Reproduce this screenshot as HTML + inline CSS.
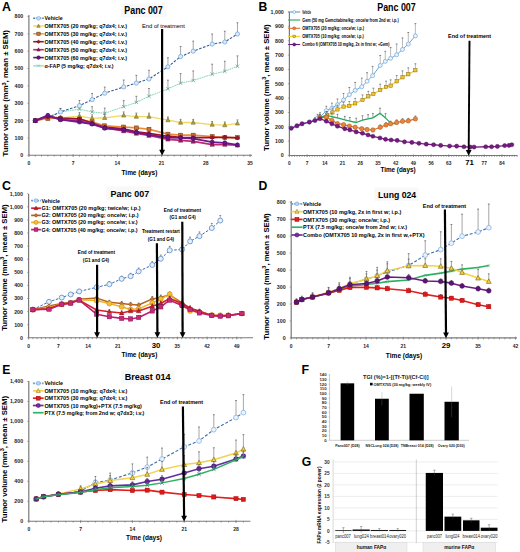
<!DOCTYPE html>
<html><head><meta charset="utf-8"><style>
html,body{margin:0;padding:0;background:#fff;}
svg{display:block;font-family:"Liberation Sans",sans-serif;}
</style></head><body>
<svg width="520" height="552" viewBox="0 0 520 552">
<rect width="520" height="552" fill="#fff"/>
<text x="2" y="10.8" font-size="12.4" text-anchor="start" font-weight="bold" fill="#000" >A</text>
<rect x="121" y="3.5" width="45.5" height="13.8" fill="#f8f8f8" stroke="none" stroke-width="0"/>
<text x="143.5" y="13.7" font-size="10" text-anchor="middle" font-weight="bold" fill="#000" textLength="38.4" lengthAdjust="spacingAndGlyphs" >Panc 007</text>
<line x1="28.9" y1="155.3" x2="28.9" y2="15" stroke="#7a7a7a" stroke-width="1.2" />
<line x1="28.9" y1="155.3" x2="252" y2="155.3" stroke="#7a7a7a" stroke-width="1.1" />
<line x1="27.3" y1="155.3" x2="28.9" y2="155.3" stroke="#7a7a7a" stroke-width="0.6" />
<text x="23.3" y="157.21" font-size="5.3" text-anchor="end" font-weight="bold" fill="#262626" >0</text>
<line x1="27.3" y1="137.95" x2="28.9" y2="137.95" stroke="#7a7a7a" stroke-width="0.6" />
<text x="23.3" y="139.86" font-size="5.3" text-anchor="end" font-weight="bold" fill="#262626" >100</text>
<line x1="27.3" y1="120.6" x2="28.9" y2="120.6" stroke="#7a7a7a" stroke-width="0.6" />
<text x="23.3" y="122.51" font-size="5.3" text-anchor="end" font-weight="bold" fill="#262626" >200</text>
<line x1="27.3" y1="103.25" x2="28.9" y2="103.25" stroke="#7a7a7a" stroke-width="0.6" />
<text x="23.3" y="105.16" font-size="5.3" text-anchor="end" font-weight="bold" fill="#262626" >300</text>
<line x1="27.3" y1="85.9" x2="28.9" y2="85.9" stroke="#7a7a7a" stroke-width="0.6" />
<text x="23.3" y="87.81" font-size="5.3" text-anchor="end" font-weight="bold" fill="#262626" >400</text>
<line x1="27.3" y1="68.55" x2="28.9" y2="68.55" stroke="#7a7a7a" stroke-width="0.6" />
<text x="23.3" y="70.46" font-size="5.3" text-anchor="end" font-weight="bold" fill="#262626" >500</text>
<line x1="27.3" y1="51.2" x2="28.9" y2="51.2" stroke="#7a7a7a" stroke-width="0.6" />
<text x="23.3" y="53.11" font-size="5.3" text-anchor="end" font-weight="bold" fill="#262626" >600</text>
<line x1="27.3" y1="33.85" x2="28.9" y2="33.85" stroke="#7a7a7a" stroke-width="0.6" />
<text x="23.3" y="35.76" font-size="5.3" text-anchor="end" font-weight="bold" fill="#262626" >700</text>
<line x1="27.3" y1="16.5" x2="28.9" y2="16.5" stroke="#7a7a7a" stroke-width="0.6" />
<text x="23.3" y="18.41" font-size="5.3" text-anchor="end" font-weight="bold" fill="#262626" >800</text>
<line x1="28.9" y1="155.3" x2="28.9" y2="156.7" stroke="#5a5a5a" stroke-width="0.55" />
<line x1="35.22" y1="155.3" x2="35.22" y2="156.7" stroke="#5a5a5a" stroke-width="0.55" />
<line x1="41.54" y1="155.3" x2="41.54" y2="156.7" stroke="#5a5a5a" stroke-width="0.55" />
<line x1="47.86" y1="155.3" x2="47.86" y2="156.7" stroke="#5a5a5a" stroke-width="0.55" />
<line x1="54.18" y1="155.3" x2="54.18" y2="156.7" stroke="#5a5a5a" stroke-width="0.55" />
<line x1="60.5" y1="155.3" x2="60.5" y2="156.7" stroke="#5a5a5a" stroke-width="0.55" />
<line x1="66.82" y1="155.3" x2="66.82" y2="156.7" stroke="#5a5a5a" stroke-width="0.55" />
<line x1="73.14" y1="155.3" x2="73.14" y2="156.7" stroke="#5a5a5a" stroke-width="0.55" />
<line x1="79.46" y1="155.3" x2="79.46" y2="156.7" stroke="#5a5a5a" stroke-width="0.55" />
<line x1="85.78" y1="155.3" x2="85.78" y2="156.7" stroke="#5a5a5a" stroke-width="0.55" />
<line x1="92.1" y1="155.3" x2="92.1" y2="156.7" stroke="#5a5a5a" stroke-width="0.55" />
<line x1="98.42" y1="155.3" x2="98.42" y2="156.7" stroke="#5a5a5a" stroke-width="0.55" />
<line x1="104.74" y1="155.3" x2="104.74" y2="156.7" stroke="#5a5a5a" stroke-width="0.55" />
<line x1="111.06" y1="155.3" x2="111.06" y2="156.7" stroke="#5a5a5a" stroke-width="0.55" />
<line x1="117.38" y1="155.3" x2="117.38" y2="156.7" stroke="#5a5a5a" stroke-width="0.55" />
<line x1="123.7" y1="155.3" x2="123.7" y2="156.7" stroke="#5a5a5a" stroke-width="0.55" />
<line x1="130.02" y1="155.3" x2="130.02" y2="156.7" stroke="#5a5a5a" stroke-width="0.55" />
<line x1="136.34" y1="155.3" x2="136.34" y2="156.7" stroke="#5a5a5a" stroke-width="0.55" />
<line x1="142.66" y1="155.3" x2="142.66" y2="156.7" stroke="#5a5a5a" stroke-width="0.55" />
<line x1="148.98" y1="155.3" x2="148.98" y2="156.7" stroke="#5a5a5a" stroke-width="0.55" />
<line x1="155.3" y1="155.3" x2="155.3" y2="156.7" stroke="#5a5a5a" stroke-width="0.55" />
<line x1="161.62" y1="155.3" x2="161.62" y2="156.7" stroke="#5a5a5a" stroke-width="0.55" />
<line x1="167.94" y1="155.3" x2="167.94" y2="156.7" stroke="#5a5a5a" stroke-width="0.55" />
<line x1="174.26" y1="155.3" x2="174.26" y2="156.7" stroke="#5a5a5a" stroke-width="0.55" />
<line x1="180.58" y1="155.3" x2="180.58" y2="156.7" stroke="#5a5a5a" stroke-width="0.55" />
<line x1="186.9" y1="155.3" x2="186.9" y2="156.7" stroke="#5a5a5a" stroke-width="0.55" />
<line x1="193.22" y1="155.3" x2="193.22" y2="156.7" stroke="#5a5a5a" stroke-width="0.55" />
<line x1="199.54" y1="155.3" x2="199.54" y2="156.7" stroke="#5a5a5a" stroke-width="0.55" />
<line x1="205.86" y1="155.3" x2="205.86" y2="156.7" stroke="#5a5a5a" stroke-width="0.55" />
<line x1="212.18" y1="155.3" x2="212.18" y2="156.7" stroke="#5a5a5a" stroke-width="0.55" />
<line x1="218.5" y1="155.3" x2="218.5" y2="156.7" stroke="#5a5a5a" stroke-width="0.55" />
<line x1="224.82" y1="155.3" x2="224.82" y2="156.7" stroke="#5a5a5a" stroke-width="0.55" />
<line x1="231.14" y1="155.3" x2="231.14" y2="156.7" stroke="#5a5a5a" stroke-width="0.55" />
<line x1="237.46" y1="155.3" x2="237.46" y2="156.7" stroke="#5a5a5a" stroke-width="0.55" />
<line x1="243.78" y1="155.3" x2="243.78" y2="156.7" stroke="#5a5a5a" stroke-width="0.55" />
<line x1="250.1" y1="155.3" x2="250.1" y2="156.7" stroke="#5a5a5a" stroke-width="0.55" />
<line x1="28.9" y1="154" x2="28.9" y2="156.9" stroke="#7a7a7a" stroke-width="0.6" />
<text x="28.9" y="165.2" font-size="5" text-anchor="middle" font-weight="bold" fill="#262626" >0</text>
<line x1="73.14" y1="154" x2="73.14" y2="156.9" stroke="#7a7a7a" stroke-width="0.6" />
<text x="73.14" y="165.2" font-size="5" text-anchor="middle" font-weight="bold" fill="#262626" >7</text>
<line x1="117.38" y1="154" x2="117.38" y2="156.9" stroke="#7a7a7a" stroke-width="0.6" />
<text x="117.38" y="165.2" font-size="5" text-anchor="middle" font-weight="bold" fill="#262626" >14</text>
<line x1="161.62" y1="154" x2="161.62" y2="156.9" stroke="#7a7a7a" stroke-width="0.6" />
<text x="161.62" y="165.2" font-size="5" text-anchor="middle" font-weight="bold" fill="#262626" >21</text>
<line x1="205.86" y1="154" x2="205.86" y2="156.9" stroke="#7a7a7a" stroke-width="0.6" />
<text x="205.86" y="165.2" font-size="5" text-anchor="middle" font-weight="bold" fill="#262626" >28</text>
<line x1="250.1" y1="154" x2="250.1" y2="156.9" stroke="#7a7a7a" stroke-width="0.6" />
<text x="250.1" y="165.2" font-size="5" text-anchor="middle" font-weight="bold" fill="#262626" >35</text>
<text x="8.4" y="93.3" font-size="8" text-anchor="middle" font-weight="bold" fill="#000" textLength="126.4" lengthAdjust="spacingAndGlyphs" transform="rotate(-90 8.4 93.3)" >Tumor volume (mm<tspan font-size="5.76" dy="-2.88">3</tspan><tspan dy="2.88">, mean ± SEM)</tspan></text>
<text x="139.4" y="174.5" font-size="7.1" text-anchor="middle" font-weight="bold" fill="#000" textLength="35.8" lengthAdjust="spacingAndGlyphs" >Time (days)</text>
<line x1="35.22" y1="120.6" x2="35.22" y2="118.87" stroke="#8a8a8a" stroke-width="0.75" />
<line x1="34.32" y1="118.87" x2="36.12" y2="118.87" stroke="#555" stroke-width="0.7" />
<line x1="47.86" y1="116.78" x2="47.86" y2="114.18" stroke="#8a8a8a" stroke-width="0.75" />
<line x1="46.96" y1="114.18" x2="48.76" y2="114.18" stroke="#555" stroke-width="0.7" />
<line x1="60.5" y1="111.93" x2="60.5" y2="108.46" stroke="#8a8a8a" stroke-width="0.75" />
<line x1="59.6" y1="108.46" x2="61.4" y2="108.46" stroke="#555" stroke-width="0.7" />
<line x1="79.46" y1="109.15" x2="79.46" y2="103.94" stroke="#8a8a8a" stroke-width="0.75" />
<line x1="78.56" y1="103.94" x2="80.36" y2="103.94" stroke="#555" stroke-width="0.7" />
<line x1="92.1" y1="111.93" x2="92.1" y2="106.72" stroke="#8a8a8a" stroke-width="0.75" />
<line x1="91.2" y1="106.72" x2="93" y2="106.72" stroke="#555" stroke-width="0.7" />
<line x1="104.74" y1="113.31" x2="104.74" y2="108.11" stroke="#8a8a8a" stroke-width="0.75" />
<line x1="103.84" y1="108.11" x2="105.64" y2="108.11" stroke="#555" stroke-width="0.7" />
<line x1="123.7" y1="106.72" x2="123.7" y2="100.65" stroke="#8a8a8a" stroke-width="0.75" />
<line x1="122.8" y1="100.65" x2="124.6" y2="100.65" stroke="#555" stroke-width="0.7" />
<line x1="136.34" y1="102.38" x2="136.34" y2="96.31" stroke="#8a8a8a" stroke-width="0.75" />
<line x1="135.44" y1="96.31" x2="137.24" y2="96.31" stroke="#555" stroke-width="0.7" />
<line x1="148.98" y1="96.31" x2="148.98" y2="88.5" stroke="#8a8a8a" stroke-width="0.75" />
<line x1="148.08" y1="88.5" x2="149.88" y2="88.5" stroke="#555" stroke-width="0.7" />
<line x1="167.94" y1="88.85" x2="167.94" y2="80.17" stroke="#8a8a8a" stroke-width="0.75" />
<line x1="167.04" y1="80.17" x2="168.84" y2="80.17" stroke="#555" stroke-width="0.7" />
<line x1="180.58" y1="83.12" x2="180.58" y2="73.58" stroke="#8a8a8a" stroke-width="0.75" />
<line x1="179.68" y1="73.58" x2="181.48" y2="73.58" stroke="#555" stroke-width="0.7" />
<line x1="193.22" y1="80.52" x2="193.22" y2="70.98" stroke="#8a8a8a" stroke-width="0.75" />
<line x1="192.32" y1="70.98" x2="194.12" y2="70.98" stroke="#555" stroke-width="0.7" />
<line x1="212.18" y1="74.28" x2="212.18" y2="64.21" stroke="#8a8a8a" stroke-width="0.75" />
<line x1="211.28" y1="64.21" x2="213.08" y2="64.21" stroke="#555" stroke-width="0.7" />
<line x1="224.82" y1="71.33" x2="224.82" y2="61.26" stroke="#8a8a8a" stroke-width="0.75" />
<line x1="223.92" y1="61.26" x2="225.72" y2="61.26" stroke="#555" stroke-width="0.7" />
<line x1="237.46" y1="66.29" x2="237.46" y2="55.88" stroke="#8a8a8a" stroke-width="0.75" />
<line x1="236.56" y1="55.88" x2="238.36" y2="55.88" stroke="#555" stroke-width="0.7" />
<path d="M35.22 120.6 L47.86 116.78 L60.5 111.93 L79.46 109.15 L92.1 111.93 L104.74 113.31 L123.7 106.72 L136.34 102.38 L148.98 96.31 L167.94 88.85 L180.58 83.12 L193.22 80.52 L212.18 74.28 L224.82 71.33 L237.46 66.29" fill="none" stroke="#8cd6bc" stroke-width="1" stroke-dasharray="1.8,0.6" stroke-linejoin="round"/>
<path d="M33.52 118.9L36.92 122.3M33.52 122.3L36.92 118.9" stroke="#4aa080" stroke-width="0.7" fill="none"/>
<path d="M46.16 115.08L49.56 118.48M46.16 118.48L49.56 115.08" stroke="#4aa080" stroke-width="0.7" fill="none"/>
<path d="M58.8 110.23L62.2 113.63M58.8 113.63L62.2 110.23" stroke="#4aa080" stroke-width="0.7" fill="none"/>
<path d="M77.76 107.45L81.16 110.85M77.76 110.85L81.16 107.45" stroke="#4aa080" stroke-width="0.7" fill="none"/>
<path d="M90.4 110.23L93.8 113.63M90.4 113.63L93.8 110.23" stroke="#4aa080" stroke-width="0.7" fill="none"/>
<path d="M103.04 111.61L106.44 115.01M103.04 115.01L106.44 111.61" stroke="#4aa080" stroke-width="0.7" fill="none"/>
<path d="M122 105.02L125.4 108.42M122 108.42L125.4 105.02" stroke="#4aa080" stroke-width="0.7" fill="none"/>
<path d="M134.64 100.68L138.04 104.08M134.64 104.08L138.04 100.68" stroke="#4aa080" stroke-width="0.7" fill="none"/>
<path d="M147.28 94.61L150.68 98.01M147.28 98.01L150.68 94.61" stroke="#4aa080" stroke-width="0.7" fill="none"/>
<path d="M166.24 87.15L169.64 90.55M166.24 90.55L169.64 87.15" stroke="#4aa080" stroke-width="0.7" fill="none"/>
<path d="M178.88 81.42L182.28 84.82M178.88 84.82L182.28 81.42" stroke="#4aa080" stroke-width="0.7" fill="none"/>
<path d="M191.52 78.82L194.92 82.22M191.52 82.22L194.92 78.82" stroke="#4aa080" stroke-width="0.7" fill="none"/>
<path d="M210.48 72.58L213.88 75.98M210.48 75.98L213.88 72.58" stroke="#4aa080" stroke-width="0.7" fill="none"/>
<path d="M223.12 69.63L226.52 73.03M223.12 73.03L226.52 69.63" stroke="#4aa080" stroke-width="0.7" fill="none"/>
<path d="M235.76 64.59L239.16 67.99M235.76 67.99L239.16 64.59" stroke="#4aa080" stroke-width="0.7" fill="none"/>
<line x1="35.22" y1="120.6" x2="35.22" y2="118.87" stroke="#8a8a8a" stroke-width="0.75" />
<line x1="34.32" y1="118.87" x2="36.12" y2="118.87" stroke="#555" stroke-width="0.7" />
<line x1="47.86" y1="118" x2="47.86" y2="115.4" stroke="#8a8a8a" stroke-width="0.75" />
<line x1="46.96" y1="115.4" x2="48.76" y2="115.4" stroke="#555" stroke-width="0.7" />
<line x1="60.5" y1="111.93" x2="60.5" y2="108.46" stroke="#8a8a8a" stroke-width="0.75" />
<line x1="59.6" y1="108.46" x2="61.4" y2="108.46" stroke="#555" stroke-width="0.7" />
<line x1="79.46" y1="105.68" x2="79.46" y2="100.47" stroke="#8a8a8a" stroke-width="0.75" />
<line x1="78.56" y1="100.47" x2="80.36" y2="100.47" stroke="#555" stroke-width="0.7" />
<line x1="92.1" y1="99.61" x2="92.1" y2="93.53" stroke="#8a8a8a" stroke-width="0.75" />
<line x1="91.2" y1="93.53" x2="93" y2="93.53" stroke="#555" stroke-width="0.7" />
<line x1="104.74" y1="93.19" x2="104.74" y2="87.11" stroke="#8a8a8a" stroke-width="0.75" />
<line x1="103.84" y1="87.11" x2="105.64" y2="87.11" stroke="#555" stroke-width="0.7" />
<line x1="123.7" y1="86.94" x2="123.7" y2="80" stroke="#8a8a8a" stroke-width="0.75" />
<line x1="122.8" y1="80" x2="124.6" y2="80" stroke="#555" stroke-width="0.7" />
<line x1="136.34" y1="83.12" x2="136.34" y2="75.32" stroke="#8a8a8a" stroke-width="0.75" />
<line x1="135.44" y1="75.32" x2="137.24" y2="75.32" stroke="#555" stroke-width="0.7" />
<line x1="148.98" y1="78.96" x2="148.98" y2="70.29" stroke="#8a8a8a" stroke-width="0.75" />
<line x1="148.08" y1="70.29" x2="149.88" y2="70.29" stroke="#555" stroke-width="0.7" />
<line x1="167.94" y1="66.82" x2="167.94" y2="57.79" stroke="#8a8a8a" stroke-width="0.75" />
<line x1="167.04" y1="57.79" x2="168.84" y2="57.79" stroke="#555" stroke-width="0.7" />
<line x1="180.58" y1="56.58" x2="180.58" y2="46.52" stroke="#8a8a8a" stroke-width="0.75" />
<line x1="179.68" y1="46.52" x2="181.48" y2="46.52" stroke="#555" stroke-width="0.7" />
<line x1="193.22" y1="51.2" x2="193.22" y2="41.14" stroke="#8a8a8a" stroke-width="0.75" />
<line x1="192.32" y1="41.14" x2="194.12" y2="41.14" stroke="#555" stroke-width="0.7" />
<line x1="212.18" y1="44.09" x2="212.18" y2="34.02" stroke="#8a8a8a" stroke-width="0.75" />
<line x1="211.28" y1="34.02" x2="213.08" y2="34.02" stroke="#555" stroke-width="0.7" />
<line x1="224.82" y1="42" x2="224.82" y2="31.25" stroke="#8a8a8a" stroke-width="0.75" />
<line x1="223.92" y1="31.25" x2="225.72" y2="31.25" stroke="#555" stroke-width="0.7" />
<line x1="237.46" y1="34.02" x2="237.46" y2="22.75" stroke="#8a8a8a" stroke-width="0.75" />
<line x1="236.56" y1="22.75" x2="238.36" y2="22.75" stroke="#555" stroke-width="0.7" />
<path d="M35.22 120.6 L47.86 118 L60.5 111.93 L79.46 105.68 L92.1 99.61 L104.74 93.19 L123.7 86.94 L136.34 83.12 L148.98 78.96 L167.94 66.82 L180.58 56.58 L193.22 51.2 L212.18 44.09 L224.82 42 L237.46 34.02" fill="none" stroke="#345e96" stroke-width="1.1" stroke-dasharray="2.6,1.5" stroke-linejoin="round"/>
<circle cx="35.22" cy="120.6" r="2.1" fill="#dceafa" stroke="#6a9fd8" stroke-width="0.7"/>
<circle cx="47.86" cy="118" r="2.1" fill="#dceafa" stroke="#6a9fd8" stroke-width="0.7"/>
<circle cx="60.5" cy="111.93" r="2.1" fill="#dceafa" stroke="#6a9fd8" stroke-width="0.7"/>
<circle cx="79.46" cy="105.68" r="2.1" fill="#dceafa" stroke="#6a9fd8" stroke-width="0.7"/>
<circle cx="92.1" cy="99.61" r="2.1" fill="#dceafa" stroke="#6a9fd8" stroke-width="0.7"/>
<circle cx="104.74" cy="93.19" r="2.1" fill="#dceafa" stroke="#6a9fd8" stroke-width="0.7"/>
<circle cx="123.7" cy="86.94" r="2.1" fill="#dceafa" stroke="#6a9fd8" stroke-width="0.7"/>
<circle cx="136.34" cy="83.12" r="2.1" fill="#dceafa" stroke="#6a9fd8" stroke-width="0.7"/>
<circle cx="148.98" cy="78.96" r="2.1" fill="#dceafa" stroke="#6a9fd8" stroke-width="0.7"/>
<circle cx="167.94" cy="66.82" r="2.1" fill="#dceafa" stroke="#6a9fd8" stroke-width="0.7"/>
<circle cx="180.58" cy="56.58" r="2.1" fill="#dceafa" stroke="#6a9fd8" stroke-width="0.7"/>
<circle cx="193.22" cy="51.2" r="2.1" fill="#dceafa" stroke="#6a9fd8" stroke-width="0.7"/>
<circle cx="212.18" cy="44.09" r="2.1" fill="#dceafa" stroke="#6a9fd8" stroke-width="0.7"/>
<circle cx="224.82" cy="42" r="2.1" fill="#dceafa" stroke="#6a9fd8" stroke-width="0.7"/>
<circle cx="237.46" cy="34.02" r="2.1" fill="#dceafa" stroke="#6a9fd8" stroke-width="0.7"/>
<line x1="35.22" y1="120.6" x2="35.22" y2="119.21" stroke="#8a8a8a" stroke-width="0.75" />
<line x1="34.32" y1="119.21" x2="36.12" y2="119.21" stroke="#555" stroke-width="0.7" />
<line x1="47.86" y1="118.87" x2="47.86" y2="117.13" stroke="#8a8a8a" stroke-width="0.75" />
<line x1="46.96" y1="117.13" x2="48.76" y2="117.13" stroke="#555" stroke-width="0.7" />
<line x1="60.5" y1="118" x2="60.5" y2="115.92" stroke="#8a8a8a" stroke-width="0.75" />
<line x1="59.6" y1="115.92" x2="61.4" y2="115.92" stroke="#555" stroke-width="0.7" />
<line x1="79.46" y1="116.09" x2="79.46" y2="112.62" stroke="#8a8a8a" stroke-width="0.75" />
<line x1="78.56" y1="112.62" x2="80.36" y2="112.62" stroke="#555" stroke-width="0.7" />
<line x1="92.1" y1="118.34" x2="92.1" y2="114.87" stroke="#8a8a8a" stroke-width="0.75" />
<line x1="91.2" y1="114.87" x2="93" y2="114.87" stroke="#555" stroke-width="0.7" />
<line x1="104.74" y1="117.82" x2="104.74" y2="114.35" stroke="#8a8a8a" stroke-width="0.75" />
<line x1="103.84" y1="114.35" x2="105.64" y2="114.35" stroke="#555" stroke-width="0.7" />
<line x1="123.7" y1="115.4" x2="123.7" y2="111.93" stroke="#8a8a8a" stroke-width="0.75" />
<line x1="122.8" y1="111.93" x2="124.6" y2="111.93" stroke="#555" stroke-width="0.7" />
<line x1="136.34" y1="116.61" x2="136.34" y2="113.14" stroke="#8a8a8a" stroke-width="0.75" />
<line x1="135.44" y1="113.14" x2="137.24" y2="113.14" stroke="#555" stroke-width="0.7" />
<line x1="148.98" y1="116.61" x2="148.98" y2="113.14" stroke="#8a8a8a" stroke-width="0.75" />
<line x1="148.08" y1="113.14" x2="149.88" y2="113.14" stroke="#555" stroke-width="0.7" />
<line x1="167.94" y1="120.08" x2="167.94" y2="116.96" stroke="#8a8a8a" stroke-width="0.75" />
<line x1="167.04" y1="116.96" x2="168.84" y2="116.96" stroke="#555" stroke-width="0.7" />
<line x1="180.58" y1="122.51" x2="180.58" y2="119.39" stroke="#8a8a8a" stroke-width="0.75" />
<line x1="179.68" y1="119.39" x2="181.48" y2="119.39" stroke="#555" stroke-width="0.7" />
<line x1="193.22" y1="122.51" x2="193.22" y2="119.39" stroke="#8a8a8a" stroke-width="0.75" />
<line x1="192.32" y1="119.39" x2="194.12" y2="119.39" stroke="#555" stroke-width="0.7" />
<line x1="212.18" y1="124.59" x2="212.18" y2="121.47" stroke="#8a8a8a" stroke-width="0.75" />
<line x1="211.28" y1="121.47" x2="213.08" y2="121.47" stroke="#555" stroke-width="0.7" />
<line x1="224.82" y1="125.11" x2="224.82" y2="121.99" stroke="#8a8a8a" stroke-width="0.75" />
<line x1="223.92" y1="121.99" x2="225.72" y2="121.99" stroke="#555" stroke-width="0.7" />
<line x1="237.46" y1="123.38" x2="237.46" y2="119.91" stroke="#8a8a8a" stroke-width="0.75" />
<line x1="236.56" y1="119.91" x2="238.36" y2="119.91" stroke="#555" stroke-width="0.7" />
<path d="M35.22 120.6 L47.86 118.87 L60.5 118 L79.46 116.09 L92.1 118.34 L104.74 117.82 L123.7 115.4 L136.34 116.61 L148.98 116.61 L167.94 120.08 L180.58 122.51 L193.22 122.51 L212.18 124.59 L224.82 125.11 L237.46 123.38" fill="none" stroke="#f0d860" stroke-width="1.4" stroke-linejoin="round"/>
<polygon points="35.22,118.29 33.12,122.28 37.32,122.28" fill="#b0a040" stroke="#6a6020" stroke-width="0.5"/>
<polygon points="47.86,116.56 45.76,120.55 49.96,120.55" fill="#b0a040" stroke="#6a6020" stroke-width="0.5"/>
<polygon points="60.5,115.69 58.4,119.68 62.6,119.68" fill="#b0a040" stroke="#6a6020" stroke-width="0.5"/>
<polygon points="79.46,113.78 77.36,117.77 81.56,117.77" fill="#b0a040" stroke="#6a6020" stroke-width="0.5"/>
<polygon points="92.1,116.03 90,120.02 94.2,120.02" fill="#b0a040" stroke="#6a6020" stroke-width="0.5"/>
<polygon points="104.74,115.51 102.64,119.5 106.84,119.5" fill="#b0a040" stroke="#6a6020" stroke-width="0.5"/>
<polygon points="123.7,113.09 121.6,117.08 125.8,117.08" fill="#b0a040" stroke="#6a6020" stroke-width="0.5"/>
<polygon points="136.34,114.3 134.24,118.29 138.44,118.29" fill="#b0a040" stroke="#6a6020" stroke-width="0.5"/>
<polygon points="148.98,114.3 146.88,118.29 151.08,118.29" fill="#b0a040" stroke="#6a6020" stroke-width="0.5"/>
<polygon points="167.94,117.77 165.84,121.76 170.04,121.76" fill="#b0a040" stroke="#6a6020" stroke-width="0.5"/>
<polygon points="180.58,120.2 178.48,124.19 182.68,124.19" fill="#b0a040" stroke="#6a6020" stroke-width="0.5"/>
<polygon points="193.22,120.2 191.12,124.19 195.32,124.19" fill="#b0a040" stroke="#6a6020" stroke-width="0.5"/>
<polygon points="212.18,122.28 210.08,126.27 214.28,126.27" fill="#b0a040" stroke="#6a6020" stroke-width="0.5"/>
<polygon points="224.82,122.8 222.72,126.79 226.92,126.79" fill="#b0a040" stroke="#6a6020" stroke-width="0.5"/>
<polygon points="237.46,121.07 235.36,125.06 239.56,125.06" fill="#b0a040" stroke="#6a6020" stroke-width="0.5"/>
<line x1="35.22" y1="120.6" x2="35.22" y2="119.21" stroke="#8a8a8a" stroke-width="0.75" />
<line x1="34.32" y1="119.21" x2="36.12" y2="119.21" stroke="#555" stroke-width="0.7" />
<line x1="47.86" y1="118" x2="47.86" y2="116.61" stroke="#8a8a8a" stroke-width="0.75" />
<line x1="46.96" y1="116.61" x2="48.76" y2="116.61" stroke="#555" stroke-width="0.7" />
<line x1="60.5" y1="118.52" x2="60.5" y2="117.13" stroke="#8a8a8a" stroke-width="0.75" />
<line x1="59.6" y1="117.13" x2="61.4" y2="117.13" stroke="#555" stroke-width="0.7" />
<line x1="79.46" y1="119.21" x2="79.46" y2="117.82" stroke="#8a8a8a" stroke-width="0.75" />
<line x1="78.56" y1="117.82" x2="80.36" y2="117.82" stroke="#555" stroke-width="0.7" />
<line x1="92.1" y1="121.99" x2="92.1" y2="120.6" stroke="#8a8a8a" stroke-width="0.75" />
<line x1="91.2" y1="120.6" x2="93" y2="120.6" stroke="#555" stroke-width="0.7" />
<line x1="104.74" y1="125.81" x2="104.74" y2="124.42" stroke="#8a8a8a" stroke-width="0.75" />
<line x1="103.84" y1="124.42" x2="105.64" y2="124.42" stroke="#555" stroke-width="0.7" />
<line x1="123.7" y1="127.02" x2="123.7" y2="125.63" stroke="#8a8a8a" stroke-width="0.75" />
<line x1="122.8" y1="125.63" x2="124.6" y2="125.63" stroke="#555" stroke-width="0.7" />
<line x1="136.34" y1="127.89" x2="136.34" y2="126.5" stroke="#8a8a8a" stroke-width="0.75" />
<line x1="135.44" y1="126.5" x2="137.24" y2="126.5" stroke="#555" stroke-width="0.7" />
<line x1="148.98" y1="129.28" x2="148.98" y2="127.89" stroke="#8a8a8a" stroke-width="0.75" />
<line x1="148.08" y1="127.89" x2="149.88" y2="127.89" stroke="#555" stroke-width="0.7" />
<line x1="167.94" y1="134.13" x2="167.94" y2="132.75" stroke="#8a8a8a" stroke-width="0.75" />
<line x1="167.04" y1="132.75" x2="168.84" y2="132.75" stroke="#555" stroke-width="0.7" />
<line x1="180.58" y1="135.17" x2="180.58" y2="133.79" stroke="#8a8a8a" stroke-width="0.75" />
<line x1="179.68" y1="133.79" x2="181.48" y2="133.79" stroke="#555" stroke-width="0.7" />
<line x1="193.22" y1="135.17" x2="193.22" y2="133.79" stroke="#8a8a8a" stroke-width="0.75" />
<line x1="192.32" y1="133.79" x2="194.12" y2="133.79" stroke="#555" stroke-width="0.7" />
<line x1="212.18" y1="136.56" x2="212.18" y2="135.17" stroke="#8a8a8a" stroke-width="0.75" />
<line x1="211.28" y1="135.17" x2="213.08" y2="135.17" stroke="#555" stroke-width="0.7" />
<line x1="224.82" y1="137.6" x2="224.82" y2="136.22" stroke="#8a8a8a" stroke-width="0.75" />
<line x1="223.92" y1="136.22" x2="225.72" y2="136.22" stroke="#555" stroke-width="0.7" />
<line x1="237.46" y1="137.6" x2="237.46" y2="136.22" stroke="#8a8a8a" stroke-width="0.75" />
<line x1="236.56" y1="136.22" x2="238.36" y2="136.22" stroke="#555" stroke-width="0.7" />
<path d="M35.22 120.6 L47.86 118 L60.5 118.52 L79.46 119.21 L92.1 121.99 L104.74 125.81 L123.7 127.02 L136.34 127.89 L148.98 129.28 L167.94 134.13 L180.58 135.17 L193.22 135.17 L212.18 136.56 L224.82 137.6 L237.46 137.6" fill="none" stroke="#eb8a3a" stroke-width="1.6" stroke-linejoin="round"/>
<rect x="33.22" y="118.6" width="4" height="4" fill="#c87030" stroke="#7a3a10" stroke-width="0.5"/>
<rect x="45.86" y="116" width="4" height="4" fill="#c87030" stroke="#7a3a10" stroke-width="0.5"/>
<rect x="58.5" y="116.52" width="4" height="4" fill="#c87030" stroke="#7a3a10" stroke-width="0.5"/>
<rect x="77.46" y="117.21" width="4" height="4" fill="#c87030" stroke="#7a3a10" stroke-width="0.5"/>
<rect x="90.1" y="119.99" width="4" height="4" fill="#c87030" stroke="#7a3a10" stroke-width="0.5"/>
<rect x="102.74" y="123.81" width="4" height="4" fill="#c87030" stroke="#7a3a10" stroke-width="0.5"/>
<rect x="121.7" y="125.02" width="4" height="4" fill="#c87030" stroke="#7a3a10" stroke-width="0.5"/>
<rect x="134.34" y="125.89" width="4" height="4" fill="#c87030" stroke="#7a3a10" stroke-width="0.5"/>
<rect x="146.98" y="127.28" width="4" height="4" fill="#c87030" stroke="#7a3a10" stroke-width="0.5"/>
<rect x="165.94" y="132.13" width="4" height="4" fill="#c87030" stroke="#7a3a10" stroke-width="0.5"/>
<rect x="178.58" y="133.17" width="4" height="4" fill="#c87030" stroke="#7a3a10" stroke-width="0.5"/>
<rect x="191.22" y="133.17" width="4" height="4" fill="#c87030" stroke="#7a3a10" stroke-width="0.5"/>
<rect x="210.18" y="134.56" width="4" height="4" fill="#c87030" stroke="#7a3a10" stroke-width="0.5"/>
<rect x="222.82" y="135.6" width="4" height="4" fill="#c87030" stroke="#7a3a10" stroke-width="0.5"/>
<rect x="235.46" y="135.6" width="4" height="4" fill="#c87030" stroke="#7a3a10" stroke-width="0.5"/>
<line x1="35.22" y1="120.6" x2="35.22" y2="119.21" stroke="#8a8a8a" stroke-width="0.75" />
<line x1="34.32" y1="119.21" x2="36.12" y2="119.21" stroke="#555" stroke-width="0.7" />
<line x1="47.86" y1="116.78" x2="47.86" y2="115.4" stroke="#8a8a8a" stroke-width="0.75" />
<line x1="46.96" y1="115.4" x2="48.76" y2="115.4" stroke="#555" stroke-width="0.7" />
<line x1="60.5" y1="118" x2="60.5" y2="116.61" stroke="#8a8a8a" stroke-width="0.75" />
<line x1="59.6" y1="116.61" x2="61.4" y2="116.61" stroke="#555" stroke-width="0.7" />
<line x1="79.46" y1="118.87" x2="79.46" y2="117.48" stroke="#8a8a8a" stroke-width="0.75" />
<line x1="78.56" y1="117.48" x2="80.36" y2="117.48" stroke="#555" stroke-width="0.7" />
<line x1="92.1" y1="123.03" x2="92.1" y2="121.64" stroke="#8a8a8a" stroke-width="0.75" />
<line x1="91.2" y1="121.64" x2="93" y2="121.64" stroke="#555" stroke-width="0.7" />
<line x1="104.74" y1="127.19" x2="104.74" y2="125.81" stroke="#8a8a8a" stroke-width="0.75" />
<line x1="103.84" y1="125.81" x2="105.64" y2="125.81" stroke="#555" stroke-width="0.7" />
<line x1="123.7" y1="128.93" x2="123.7" y2="127.54" stroke="#8a8a8a" stroke-width="0.75" />
<line x1="122.8" y1="127.54" x2="124.6" y2="127.54" stroke="#555" stroke-width="0.7" />
<line x1="136.34" y1="131.88" x2="136.34" y2="130.49" stroke="#8a8a8a" stroke-width="0.75" />
<line x1="135.44" y1="130.49" x2="137.24" y2="130.49" stroke="#555" stroke-width="0.7" />
<line x1="148.98" y1="133.44" x2="148.98" y2="132.05" stroke="#8a8a8a" stroke-width="0.75" />
<line x1="148.08" y1="132.05" x2="149.88" y2="132.05" stroke="#555" stroke-width="0.7" />
<line x1="167.94" y1="136.22" x2="167.94" y2="134.83" stroke="#8a8a8a" stroke-width="0.75" />
<line x1="167.04" y1="134.83" x2="168.84" y2="134.83" stroke="#555" stroke-width="0.7" />
<line x1="180.58" y1="137.26" x2="180.58" y2="135.87" stroke="#8a8a8a" stroke-width="0.75" />
<line x1="179.68" y1="135.87" x2="181.48" y2="135.87" stroke="#555" stroke-width="0.7" />
<line x1="193.22" y1="137.6" x2="193.22" y2="136.22" stroke="#8a8a8a" stroke-width="0.75" />
<line x1="192.32" y1="136.22" x2="194.12" y2="136.22" stroke="#555" stroke-width="0.7" />
<line x1="212.18" y1="137.6" x2="212.18" y2="136.22" stroke="#8a8a8a" stroke-width="0.75" />
<line x1="211.28" y1="136.22" x2="213.08" y2="136.22" stroke="#555" stroke-width="0.7" />
<line x1="224.82" y1="137.26" x2="224.82" y2="135.87" stroke="#8a8a8a" stroke-width="0.75" />
<line x1="223.92" y1="135.87" x2="225.72" y2="135.87" stroke="#555" stroke-width="0.7" />
<line x1="237.46" y1="137.95" x2="237.46" y2="136.56" stroke="#8a8a8a" stroke-width="0.75" />
<line x1="236.56" y1="136.56" x2="238.36" y2="136.56" stroke="#555" stroke-width="0.7" />
<path d="M35.22 120.6 L47.86 116.78 L60.5 118 L79.46 118.87 L92.1 123.03 L104.74 127.19 L123.7 128.93 L136.34 131.88 L148.98 133.44 L167.94 136.22 L180.58 137.26 L193.22 137.6 L212.18 137.6 L224.82 137.26 L237.46 137.95" fill="none" stroke="#a01030" stroke-width="1.7" stroke-linejoin="round"/>
<polygon points="35.22,118.44 37.38,120.6 35.22,122.76 33.06,120.6" fill="#a01030" stroke="#600818" stroke-width="0.5"/>
<polygon points="47.86,114.62 50.02,116.78 47.86,118.94 45.7,116.78" fill="#a01030" stroke="#600818" stroke-width="0.5"/>
<polygon points="60.5,115.84 62.66,118 60.5,120.16 58.34,118" fill="#a01030" stroke="#600818" stroke-width="0.5"/>
<polygon points="79.46,116.71 81.62,118.87 79.46,121.03 77.3,118.87" fill="#a01030" stroke="#600818" stroke-width="0.5"/>
<polygon points="92.1,120.87 94.26,123.03 92.1,125.19 89.94,123.03" fill="#a01030" stroke="#600818" stroke-width="0.5"/>
<polygon points="104.74,125.03 106.9,127.19 104.74,129.35 102.58,127.19" fill="#a01030" stroke="#600818" stroke-width="0.5"/>
<polygon points="123.7,126.77 125.86,128.93 123.7,131.09 121.54,128.93" fill="#a01030" stroke="#600818" stroke-width="0.5"/>
<polygon points="136.34,129.72 138.5,131.88 136.34,134.04 134.18,131.88" fill="#a01030" stroke="#600818" stroke-width="0.5"/>
<polygon points="148.98,131.28 151.14,133.44 148.98,135.6 146.82,133.44" fill="#a01030" stroke="#600818" stroke-width="0.5"/>
<polygon points="167.94,134.06 170.1,136.22 167.94,138.38 165.78,136.22" fill="#a01030" stroke="#600818" stroke-width="0.5"/>
<polygon points="180.58,135.1 182.74,137.26 180.58,139.42 178.42,137.26" fill="#a01030" stroke="#600818" stroke-width="0.5"/>
<polygon points="193.22,135.44 195.38,137.6 193.22,139.76 191.06,137.6" fill="#a01030" stroke="#600818" stroke-width="0.5"/>
<polygon points="212.18,135.44 214.34,137.6 212.18,139.76 210.02,137.6" fill="#a01030" stroke="#600818" stroke-width="0.5"/>
<polygon points="224.82,135.1 226.98,137.26 224.82,139.42 222.66,137.26" fill="#a01030" stroke="#600818" stroke-width="0.5"/>
<polygon points="237.46,135.79 239.62,137.95 237.46,140.11 235.3,137.95" fill="#a01030" stroke="#600818" stroke-width="0.5"/>
<line x1="35.22" y1="120.6" x2="35.22" y2="119.21" stroke="#8a8a8a" stroke-width="0.75" />
<line x1="34.32" y1="119.21" x2="36.12" y2="119.21" stroke="#555" stroke-width="0.7" />
<line x1="47.86" y1="116.09" x2="47.86" y2="114.7" stroke="#8a8a8a" stroke-width="0.75" />
<line x1="46.96" y1="114.7" x2="48.76" y2="114.7" stroke="#555" stroke-width="0.7" />
<line x1="60.5" y1="119.39" x2="60.5" y2="118" stroke="#8a8a8a" stroke-width="0.75" />
<line x1="59.6" y1="118" x2="61.4" y2="118" stroke="#555" stroke-width="0.7" />
<line x1="79.46" y1="120.95" x2="79.46" y2="119.56" stroke="#8a8a8a" stroke-width="0.75" />
<line x1="78.56" y1="119.56" x2="80.36" y2="119.56" stroke="#555" stroke-width="0.7" />
<line x1="92.1" y1="123.72" x2="92.1" y2="122.34" stroke="#8a8a8a" stroke-width="0.75" />
<line x1="91.2" y1="122.34" x2="93" y2="122.34" stroke="#555" stroke-width="0.7" />
<line x1="104.74" y1="127.89" x2="104.74" y2="126.5" stroke="#8a8a8a" stroke-width="0.75" />
<line x1="103.84" y1="126.5" x2="105.64" y2="126.5" stroke="#555" stroke-width="0.7" />
<line x1="123.7" y1="131.01" x2="123.7" y2="129.62" stroke="#8a8a8a" stroke-width="0.75" />
<line x1="122.8" y1="129.62" x2="124.6" y2="129.62" stroke="#555" stroke-width="0.7" />
<line x1="136.34" y1="133.44" x2="136.34" y2="132.05" stroke="#8a8a8a" stroke-width="0.75" />
<line x1="135.44" y1="132.05" x2="137.24" y2="132.05" stroke="#555" stroke-width="0.7" />
<line x1="148.98" y1="135.52" x2="148.98" y2="134.13" stroke="#8a8a8a" stroke-width="0.75" />
<line x1="148.08" y1="134.13" x2="149.88" y2="134.13" stroke="#555" stroke-width="0.7" />
<line x1="167.94" y1="139.34" x2="167.94" y2="137.95" stroke="#8a8a8a" stroke-width="0.75" />
<line x1="167.04" y1="137.95" x2="168.84" y2="137.95" stroke="#555" stroke-width="0.7" />
<line x1="180.58" y1="140.38" x2="180.58" y2="138.99" stroke="#8a8a8a" stroke-width="0.75" />
<line x1="179.68" y1="138.99" x2="181.48" y2="138.99" stroke="#555" stroke-width="0.7" />
<line x1="193.22" y1="141.42" x2="193.22" y2="140.03" stroke="#8a8a8a" stroke-width="0.75" />
<line x1="192.32" y1="140.03" x2="194.12" y2="140.03" stroke="#555" stroke-width="0.7" />
<line x1="212.18" y1="144.54" x2="212.18" y2="143.16" stroke="#8a8a8a" stroke-width="0.75" />
<line x1="211.28" y1="143.16" x2="213.08" y2="143.16" stroke="#555" stroke-width="0.7" />
<line x1="224.82" y1="144.54" x2="224.82" y2="143.16" stroke="#8a8a8a" stroke-width="0.75" />
<line x1="223.92" y1="143.16" x2="225.72" y2="143.16" stroke="#555" stroke-width="0.7" />
<line x1="237.46" y1="145.24" x2="237.46" y2="143.85" stroke="#8a8a8a" stroke-width="0.75" />
<line x1="236.56" y1="143.85" x2="238.36" y2="143.85" stroke="#555" stroke-width="0.7" />
<path d="M35.22 120.6 L47.86 116.09 L60.5 119.39 L79.46 120.95 L92.1 123.72 L104.74 127.89 L123.7 131.01 L136.34 133.44 L148.98 135.52 L167.94 139.34 L180.58 140.38 L193.22 141.42 L212.18 144.54 L224.82 144.54 L237.46 145.24" fill="none" stroke="#c02870" stroke-width="1.7" stroke-linejoin="round"/>
<polygon points="35.22,118.18 33.02,122.36 37.42,122.36" fill="#a02060" stroke="#601040" stroke-width="0.5"/>
<polygon points="47.86,113.67 45.66,117.85 50.06,117.85" fill="#a02060" stroke="#601040" stroke-width="0.5"/>
<polygon points="60.5,116.97 58.3,121.15 62.7,121.15" fill="#a02060" stroke="#601040" stroke-width="0.5"/>
<polygon points="79.46,118.53 77.26,122.71 81.66,122.71" fill="#a02060" stroke="#601040" stroke-width="0.5"/>
<polygon points="92.1,121.3 89.9,125.48 94.3,125.48" fill="#a02060" stroke="#601040" stroke-width="0.5"/>
<polygon points="104.74,125.47 102.54,129.65 106.94,129.65" fill="#a02060" stroke="#601040" stroke-width="0.5"/>
<polygon points="123.7,128.59 121.5,132.77 125.9,132.77" fill="#a02060" stroke="#601040" stroke-width="0.5"/>
<polygon points="136.34,131.02 134.14,135.2 138.54,135.2" fill="#a02060" stroke="#601040" stroke-width="0.5"/>
<polygon points="148.98,133.1 146.78,137.28 151.18,137.28" fill="#a02060" stroke="#601040" stroke-width="0.5"/>
<polygon points="167.94,136.92 165.74,141.1 170.14,141.1" fill="#a02060" stroke="#601040" stroke-width="0.5"/>
<polygon points="180.58,137.96 178.38,142.14 182.78,142.14" fill="#a02060" stroke="#601040" stroke-width="0.5"/>
<polygon points="193.22,139 191.02,143.18 195.42,143.18" fill="#a02060" stroke="#601040" stroke-width="0.5"/>
<polygon points="212.18,142.12 209.98,146.3 214.38,146.3" fill="#a02060" stroke="#601040" stroke-width="0.5"/>
<polygon points="224.82,142.12 222.62,146.3 227.02,146.3" fill="#a02060" stroke="#601040" stroke-width="0.5"/>
<polygon points="237.46,142.82 235.26,147 239.66,147" fill="#a02060" stroke="#601040" stroke-width="0.5"/>
<line x1="35.22" y1="120.6" x2="35.22" y2="119.21" stroke="#8a8a8a" stroke-width="0.75" />
<line x1="34.32" y1="119.21" x2="36.12" y2="119.21" stroke="#555" stroke-width="0.7" />
<line x1="47.86" y1="115.4" x2="47.86" y2="114.01" stroke="#8a8a8a" stroke-width="0.75" />
<line x1="46.96" y1="114.01" x2="48.76" y2="114.01" stroke="#555" stroke-width="0.7" />
<line x1="60.5" y1="119.73" x2="60.5" y2="118.34" stroke="#8a8a8a" stroke-width="0.75" />
<line x1="59.6" y1="118.34" x2="61.4" y2="118.34" stroke="#555" stroke-width="0.7" />
<line x1="79.46" y1="121.99" x2="79.46" y2="120.6" stroke="#8a8a8a" stroke-width="0.75" />
<line x1="78.56" y1="120.6" x2="80.36" y2="120.6" stroke="#555" stroke-width="0.7" />
<line x1="92.1" y1="124.07" x2="92.1" y2="122.68" stroke="#8a8a8a" stroke-width="0.75" />
<line x1="91.2" y1="122.68" x2="93" y2="122.68" stroke="#555" stroke-width="0.7" />
<line x1="104.74" y1="128.23" x2="104.74" y2="126.85" stroke="#8a8a8a" stroke-width="0.75" />
<line x1="103.84" y1="126.85" x2="105.64" y2="126.85" stroke="#555" stroke-width="0.7" />
<line x1="123.7" y1="129.97" x2="123.7" y2="128.58" stroke="#8a8a8a" stroke-width="0.75" />
<line x1="122.8" y1="128.58" x2="124.6" y2="128.58" stroke="#555" stroke-width="0.7" />
<line x1="136.34" y1="132.4" x2="136.34" y2="131.01" stroke="#8a8a8a" stroke-width="0.75" />
<line x1="135.44" y1="131.01" x2="137.24" y2="131.01" stroke="#555" stroke-width="0.7" />
<line x1="148.98" y1="134.83" x2="148.98" y2="133.44" stroke="#8a8a8a" stroke-width="0.75" />
<line x1="148.08" y1="133.44" x2="149.88" y2="133.44" stroke="#555" stroke-width="0.7" />
<line x1="167.94" y1="137.6" x2="167.94" y2="136.22" stroke="#8a8a8a" stroke-width="0.75" />
<line x1="167.04" y1="136.22" x2="168.84" y2="136.22" stroke="#555" stroke-width="0.7" />
<line x1="180.58" y1="137.95" x2="180.58" y2="136.56" stroke="#8a8a8a" stroke-width="0.75" />
<line x1="179.68" y1="136.56" x2="181.48" y2="136.56" stroke="#555" stroke-width="0.7" />
<line x1="193.22" y1="138.64" x2="193.22" y2="137.26" stroke="#8a8a8a" stroke-width="0.75" />
<line x1="192.32" y1="137.26" x2="194.12" y2="137.26" stroke="#555" stroke-width="0.7" />
<line x1="212.18" y1="142.11" x2="212.18" y2="140.73" stroke="#8a8a8a" stroke-width="0.75" />
<line x1="211.28" y1="140.73" x2="213.08" y2="140.73" stroke="#555" stroke-width="0.7" />
<line x1="224.82" y1="142.81" x2="224.82" y2="141.42" stroke="#8a8a8a" stroke-width="0.75" />
<line x1="223.92" y1="141.42" x2="225.72" y2="141.42" stroke="#555" stroke-width="0.7" />
<line x1="237.46" y1="144.89" x2="237.46" y2="143.5" stroke="#8a8a8a" stroke-width="0.75" />
<line x1="236.56" y1="143.5" x2="238.36" y2="143.5" stroke="#555" stroke-width="0.7" />
<path d="M35.22 120.6 L47.86 115.4 L60.5 119.73 L79.46 121.99 L92.1 124.07 L104.74 128.23 L123.7 129.97 L136.34 132.4 L148.98 134.83 L167.94 137.6 L180.58 137.95 L193.22 138.64 L212.18 142.11 L224.82 142.81 L237.46 144.89" fill="none" stroke="#701890" stroke-width="1.8" stroke-linejoin="round"/>
<circle cx="35.22" cy="120.6" r="2.1" fill="#6a1488" stroke="#400a58" stroke-width="0.5"/>
<circle cx="47.86" cy="115.4" r="2.1" fill="#6a1488" stroke="#400a58" stroke-width="0.5"/>
<circle cx="60.5" cy="119.73" r="2.1" fill="#6a1488" stroke="#400a58" stroke-width="0.5"/>
<circle cx="79.46" cy="121.99" r="2.1" fill="#6a1488" stroke="#400a58" stroke-width="0.5"/>
<circle cx="92.1" cy="124.07" r="2.1" fill="#6a1488" stroke="#400a58" stroke-width="0.5"/>
<circle cx="104.74" cy="128.23" r="2.1" fill="#6a1488" stroke="#400a58" stroke-width="0.5"/>
<circle cx="123.7" cy="129.97" r="2.1" fill="#6a1488" stroke="#400a58" stroke-width="0.5"/>
<circle cx="136.34" cy="132.4" r="2.1" fill="#6a1488" stroke="#400a58" stroke-width="0.5"/>
<circle cx="148.98" cy="134.83" r="2.1" fill="#6a1488" stroke="#400a58" stroke-width="0.5"/>
<circle cx="167.94" cy="137.6" r="2.1" fill="#6a1488" stroke="#400a58" stroke-width="0.5"/>
<circle cx="180.58" cy="137.95" r="2.1" fill="#6a1488" stroke="#400a58" stroke-width="0.5"/>
<circle cx="193.22" cy="138.64" r="2.1" fill="#6a1488" stroke="#400a58" stroke-width="0.5"/>
<circle cx="212.18" cy="142.11" r="2.1" fill="#6a1488" stroke="#400a58" stroke-width="0.5"/>
<circle cx="224.82" cy="142.81" r="2.1" fill="#6a1488" stroke="#400a58" stroke-width="0.5"/>
<circle cx="237.46" cy="144.89" r="2.1" fill="#6a1488" stroke="#400a58" stroke-width="0.5"/>
<line x1="33.2" y1="18.3" x2="43.8" y2="18.3" stroke="#4a78b8" stroke-width="1.6" stroke-dasharray="2,1"/>
<circle cx="38.5" cy="18.3" r="1.92" fill="#c8dcf2" stroke="#6a9fd8" stroke-width="0.5"/>
<text x="44.6" y="20.35" font-size="5.7" text-anchor="start" font-weight="bold" fill="#000" textLength="18" lengthAdjust="spacingAndGlyphs" >Vehicle</text>
<line x1="33.2" y1="26" x2="43.8" y2="26" stroke="#f0dc80" stroke-width="1.6"/>
<polygon points="38.5,24.15 36.82,27.34 40.18,27.34" fill="#b0a040" stroke="#6a6020" stroke-width="0.5"/>
<text x="44.6" y="28.05" font-size="5.7" text-anchor="start" font-weight="bold" fill="#000" textLength="82.4" lengthAdjust="spacingAndGlyphs" >OMTX705 (20 mg/kg; q7dx4; i.v.)</text>
<line x1="33.2" y1="33.8" x2="43.8" y2="33.8" stroke="#e69a62" stroke-width="1.6"/>
<rect x="36.82" y="32.12" width="3.36" height="3.36" fill="#c07838" stroke="#6a3410" stroke-width="0.5"/>
<text x="44.6" y="35.85" font-size="5.7" text-anchor="start" font-weight="bold" fill="#000" textLength="82.4" lengthAdjust="spacingAndGlyphs" >OMTX705 (30 mg/kg; q7dx4; i.v.)</text>
<line x1="33.2" y1="41.7" x2="43.8" y2="41.7" stroke="#98182e" stroke-width="1.6"/>
<polygon points="38.5,39.97 40.23,41.7 38.5,43.43 36.77,41.7" fill="#98182e" stroke="#600818" stroke-width="0.5"/>
<text x="44.6" y="43.75" font-size="5.7" text-anchor="start" font-weight="bold" fill="#000" textLength="82.4" lengthAdjust="spacingAndGlyphs" >OMTX705 (40 mg/kg; q7dx4; i.v.)</text>
<line x1="33.2" y1="49.7" x2="43.8" y2="49.7" stroke="#b03070" stroke-width="1.6"/>
<polygon points="38.5,47.85 36.82,51.04 40.18,51.04" fill="#902060" stroke="#601040" stroke-width="0.5"/>
<text x="44.6" y="51.75" font-size="5.7" text-anchor="start" font-weight="bold" fill="#000" textLength="82.4" lengthAdjust="spacingAndGlyphs" >OMTX705 (50 mg/kg; q7dx4; i.v.)</text>
<line x1="33.2" y1="57.6" x2="43.8" y2="57.6" stroke="#5e1a78" stroke-width="1.6"/>
<circle cx="38.5" cy="57.6" r="1.8" fill="#5e1a78" stroke="#3a0a50" stroke-width="0.5"/>
<text x="44.6" y="59.65" font-size="5.7" text-anchor="start" font-weight="bold" fill="#000" textLength="82.4" lengthAdjust="spacingAndGlyphs" >OMTX705 (60 mg/kg; q7dx4; i.v.)</text>
<line x1="33.2" y1="65.8" x2="43.8" y2="65.8" stroke="#a8e0cc" stroke-width="1.6"/>
<path d="M36.94 64.24L40.06 67.36M36.94 67.36L40.06 64.24" stroke="#70c0a0" stroke-width="0.5" fill="none"/>
<text x="44.6" y="67.85" font-size="5.7" text-anchor="start" font-weight="bold" fill="#000" textLength="69" lengthAdjust="spacingAndGlyphs" >α-FAP (5 mg/kg; q7dx4; i.v.)</text>
<text x="163.4" y="27.7" font-size="5.9" text-anchor="middle" font-weight="normal" fill="#000" textLength="42.8" lengthAdjust="spacingAndGlyphs" >End of treatment</text>
<line x1="162.1" y1="29" x2="162.1" y2="150.88" stroke="#000" stroke-width="2.2" />
<polygon points="159.21,149.86 164.99,149.86 162.1,155.6" fill="#000"/>
<text x="258.6" y="10.6" font-size="12.2" text-anchor="start" font-weight="bold" fill="#000" >B</text>
<text x="396.5" y="10.9" font-size="10" text-anchor="middle" font-weight="bold" fill="#000" textLength="38.5" lengthAdjust="spacingAndGlyphs" >Panc 007</text>
<line x1="289.4" y1="155.5" x2="289.4" y2="12" stroke="#7a7a7a" stroke-width="1.2" />
<line x1="289.4" y1="155.5" x2="517.5" y2="155.5" stroke="#7a7a7a" stroke-width="1.1" />
<line x1="287.8" y1="155.5" x2="289.4" y2="155.5" stroke="#7a7a7a" stroke-width="0.6" />
<text x="283.8" y="157.41" font-size="5.3" text-anchor="end" font-weight="bold" fill="#262626" >0</text>
<line x1="287.8" y1="141.15" x2="289.4" y2="141.15" stroke="#7a7a7a" stroke-width="0.6" />
<text x="283.8" y="143.06" font-size="5.3" text-anchor="end" font-weight="bold" fill="#262626" >100</text>
<line x1="287.8" y1="126.8" x2="289.4" y2="126.8" stroke="#7a7a7a" stroke-width="0.6" />
<text x="283.8" y="128.71" font-size="5.3" text-anchor="end" font-weight="bold" fill="#262626" >200</text>
<line x1="287.8" y1="112.45" x2="289.4" y2="112.45" stroke="#7a7a7a" stroke-width="0.6" />
<text x="283.8" y="114.36" font-size="5.3" text-anchor="end" font-weight="bold" fill="#262626" >300</text>
<line x1="287.8" y1="98.1" x2="289.4" y2="98.1" stroke="#7a7a7a" stroke-width="0.6" />
<text x="283.8" y="100.01" font-size="5.3" text-anchor="end" font-weight="bold" fill="#262626" >400</text>
<line x1="287.8" y1="83.75" x2="289.4" y2="83.75" stroke="#7a7a7a" stroke-width="0.6" />
<text x="283.8" y="85.66" font-size="5.3" text-anchor="end" font-weight="bold" fill="#262626" >500</text>
<line x1="287.8" y1="69.4" x2="289.4" y2="69.4" stroke="#7a7a7a" stroke-width="0.6" />
<text x="283.8" y="71.31" font-size="5.3" text-anchor="end" font-weight="bold" fill="#262626" >600</text>
<line x1="287.8" y1="55.05" x2="289.4" y2="55.05" stroke="#7a7a7a" stroke-width="0.6" />
<text x="283.8" y="56.96" font-size="5.3" text-anchor="end" font-weight="bold" fill="#262626" >700</text>
<line x1="287.8" y1="40.7" x2="289.4" y2="40.7" stroke="#7a7a7a" stroke-width="0.6" />
<text x="283.8" y="42.61" font-size="5.3" text-anchor="end" font-weight="bold" fill="#262626" >800</text>
<line x1="287.8" y1="26.35" x2="289.4" y2="26.35" stroke="#7a7a7a" stroke-width="0.6" />
<text x="283.8" y="28.26" font-size="5.3" text-anchor="end" font-weight="bold" fill="#262626" >900</text>
<line x1="287.8" y1="12" x2="289.4" y2="12" stroke="#7a7a7a" stroke-width="0.6" />
<text x="283.8" y="13.91" font-size="5.3" text-anchor="end" font-weight="bold" fill="#262626" >1,000</text>
<line x1="289.4" y1="155.5" x2="289.4" y2="156.9" stroke="#5a5a5a" stroke-width="0.55" />
<line x1="291.93" y1="155.5" x2="291.93" y2="156.9" stroke="#5a5a5a" stroke-width="0.55" />
<line x1="294.46" y1="155.5" x2="294.46" y2="156.9" stroke="#5a5a5a" stroke-width="0.55" />
<line x1="296.99" y1="155.5" x2="296.99" y2="156.9" stroke="#5a5a5a" stroke-width="0.55" />
<line x1="299.52" y1="155.5" x2="299.52" y2="156.9" stroke="#5a5a5a" stroke-width="0.55" />
<line x1="302.05" y1="155.5" x2="302.05" y2="156.9" stroke="#5a5a5a" stroke-width="0.55" />
<line x1="304.58" y1="155.5" x2="304.58" y2="156.9" stroke="#5a5a5a" stroke-width="0.55" />
<line x1="307.11" y1="155.5" x2="307.11" y2="156.9" stroke="#5a5a5a" stroke-width="0.55" />
<line x1="309.64" y1="155.5" x2="309.64" y2="156.9" stroke="#5a5a5a" stroke-width="0.55" />
<line x1="312.17" y1="155.5" x2="312.17" y2="156.9" stroke="#5a5a5a" stroke-width="0.55" />
<line x1="314.7" y1="155.5" x2="314.7" y2="156.9" stroke="#5a5a5a" stroke-width="0.55" />
<line x1="317.23" y1="155.5" x2="317.23" y2="156.9" stroke="#5a5a5a" stroke-width="0.55" />
<line x1="319.76" y1="155.5" x2="319.76" y2="156.9" stroke="#5a5a5a" stroke-width="0.55" />
<line x1="322.29" y1="155.5" x2="322.29" y2="156.9" stroke="#5a5a5a" stroke-width="0.55" />
<line x1="324.82" y1="155.5" x2="324.82" y2="156.9" stroke="#5a5a5a" stroke-width="0.55" />
<line x1="327.35" y1="155.5" x2="327.35" y2="156.9" stroke="#5a5a5a" stroke-width="0.55" />
<line x1="329.88" y1="155.5" x2="329.88" y2="156.9" stroke="#5a5a5a" stroke-width="0.55" />
<line x1="332.41" y1="155.5" x2="332.41" y2="156.9" stroke="#5a5a5a" stroke-width="0.55" />
<line x1="334.94" y1="155.5" x2="334.94" y2="156.9" stroke="#5a5a5a" stroke-width="0.55" />
<line x1="337.47" y1="155.5" x2="337.47" y2="156.9" stroke="#5a5a5a" stroke-width="0.55" />
<line x1="340" y1="155.5" x2="340" y2="156.9" stroke="#5a5a5a" stroke-width="0.55" />
<line x1="342.53" y1="155.5" x2="342.53" y2="156.9" stroke="#5a5a5a" stroke-width="0.55" />
<line x1="345.06" y1="155.5" x2="345.06" y2="156.9" stroke="#5a5a5a" stroke-width="0.55" />
<line x1="347.59" y1="155.5" x2="347.59" y2="156.9" stroke="#5a5a5a" stroke-width="0.55" />
<line x1="350.12" y1="155.5" x2="350.12" y2="156.9" stroke="#5a5a5a" stroke-width="0.55" />
<line x1="352.65" y1="155.5" x2="352.65" y2="156.9" stroke="#5a5a5a" stroke-width="0.55" />
<line x1="355.18" y1="155.5" x2="355.18" y2="156.9" stroke="#5a5a5a" stroke-width="0.55" />
<line x1="357.71" y1="155.5" x2="357.71" y2="156.9" stroke="#5a5a5a" stroke-width="0.55" />
<line x1="360.24" y1="155.5" x2="360.24" y2="156.9" stroke="#5a5a5a" stroke-width="0.55" />
<line x1="362.77" y1="155.5" x2="362.77" y2="156.9" stroke="#5a5a5a" stroke-width="0.55" />
<line x1="365.3" y1="155.5" x2="365.3" y2="156.9" stroke="#5a5a5a" stroke-width="0.55" />
<line x1="367.83" y1="155.5" x2="367.83" y2="156.9" stroke="#5a5a5a" stroke-width="0.55" />
<line x1="370.36" y1="155.5" x2="370.36" y2="156.9" stroke="#5a5a5a" stroke-width="0.55" />
<line x1="372.89" y1="155.5" x2="372.89" y2="156.9" stroke="#5a5a5a" stroke-width="0.55" />
<line x1="375.42" y1="155.5" x2="375.42" y2="156.9" stroke="#5a5a5a" stroke-width="0.55" />
<line x1="377.95" y1="155.5" x2="377.95" y2="156.9" stroke="#5a5a5a" stroke-width="0.55" />
<line x1="380.48" y1="155.5" x2="380.48" y2="156.9" stroke="#5a5a5a" stroke-width="0.55" />
<line x1="383.01" y1="155.5" x2="383.01" y2="156.9" stroke="#5a5a5a" stroke-width="0.55" />
<line x1="385.54" y1="155.5" x2="385.54" y2="156.9" stroke="#5a5a5a" stroke-width="0.55" />
<line x1="388.07" y1="155.5" x2="388.07" y2="156.9" stroke="#5a5a5a" stroke-width="0.55" />
<line x1="390.6" y1="155.5" x2="390.6" y2="156.9" stroke="#5a5a5a" stroke-width="0.55" />
<line x1="393.13" y1="155.5" x2="393.13" y2="156.9" stroke="#5a5a5a" stroke-width="0.55" />
<line x1="395.66" y1="155.5" x2="395.66" y2="156.9" stroke="#5a5a5a" stroke-width="0.55" />
<line x1="398.19" y1="155.5" x2="398.19" y2="156.9" stroke="#5a5a5a" stroke-width="0.55" />
<line x1="400.72" y1="155.5" x2="400.72" y2="156.9" stroke="#5a5a5a" stroke-width="0.55" />
<line x1="403.25" y1="155.5" x2="403.25" y2="156.9" stroke="#5a5a5a" stroke-width="0.55" />
<line x1="405.78" y1="155.5" x2="405.78" y2="156.9" stroke="#5a5a5a" stroke-width="0.55" />
<line x1="408.31" y1="155.5" x2="408.31" y2="156.9" stroke="#5a5a5a" stroke-width="0.55" />
<line x1="410.84" y1="155.5" x2="410.84" y2="156.9" stroke="#5a5a5a" stroke-width="0.55" />
<line x1="413.37" y1="155.5" x2="413.37" y2="156.9" stroke="#5a5a5a" stroke-width="0.55" />
<line x1="415.9" y1="155.5" x2="415.9" y2="156.9" stroke="#5a5a5a" stroke-width="0.55" />
<line x1="418.43" y1="155.5" x2="418.43" y2="156.9" stroke="#5a5a5a" stroke-width="0.55" />
<line x1="420.96" y1="155.5" x2="420.96" y2="156.9" stroke="#5a5a5a" stroke-width="0.55" />
<line x1="423.49" y1="155.5" x2="423.49" y2="156.9" stroke="#5a5a5a" stroke-width="0.55" />
<line x1="426.02" y1="155.5" x2="426.02" y2="156.9" stroke="#5a5a5a" stroke-width="0.55" />
<line x1="428.55" y1="155.5" x2="428.55" y2="156.9" stroke="#5a5a5a" stroke-width="0.55" />
<line x1="431.08" y1="155.5" x2="431.08" y2="156.9" stroke="#5a5a5a" stroke-width="0.55" />
<line x1="433.61" y1="155.5" x2="433.61" y2="156.9" stroke="#5a5a5a" stroke-width="0.55" />
<line x1="436.14" y1="155.5" x2="436.14" y2="156.9" stroke="#5a5a5a" stroke-width="0.55" />
<line x1="438.67" y1="155.5" x2="438.67" y2="156.9" stroke="#5a5a5a" stroke-width="0.55" />
<line x1="441.2" y1="155.5" x2="441.2" y2="156.9" stroke="#5a5a5a" stroke-width="0.55" />
<line x1="443.73" y1="155.5" x2="443.73" y2="156.9" stroke="#5a5a5a" stroke-width="0.55" />
<line x1="446.26" y1="155.5" x2="446.26" y2="156.9" stroke="#5a5a5a" stroke-width="0.55" />
<line x1="448.79" y1="155.5" x2="448.79" y2="156.9" stroke="#5a5a5a" stroke-width="0.55" />
<line x1="451.32" y1="155.5" x2="451.32" y2="156.9" stroke="#5a5a5a" stroke-width="0.55" />
<line x1="453.85" y1="155.5" x2="453.85" y2="156.9" stroke="#5a5a5a" stroke-width="0.55" />
<line x1="456.38" y1="155.5" x2="456.38" y2="156.9" stroke="#5a5a5a" stroke-width="0.55" />
<line x1="458.91" y1="155.5" x2="458.91" y2="156.9" stroke="#5a5a5a" stroke-width="0.55" />
<line x1="461.44" y1="155.5" x2="461.44" y2="156.9" stroke="#5a5a5a" stroke-width="0.55" />
<line x1="463.97" y1="155.5" x2="463.97" y2="156.9" stroke="#5a5a5a" stroke-width="0.55" />
<line x1="466.5" y1="155.5" x2="466.5" y2="156.9" stroke="#5a5a5a" stroke-width="0.55" />
<line x1="469.03" y1="155.5" x2="469.03" y2="156.9" stroke="#5a5a5a" stroke-width="0.55" />
<line x1="471.56" y1="155.5" x2="471.56" y2="156.9" stroke="#5a5a5a" stroke-width="0.55" />
<line x1="474.09" y1="155.5" x2="474.09" y2="156.9" stroke="#5a5a5a" stroke-width="0.55" />
<line x1="476.62" y1="155.5" x2="476.62" y2="156.9" stroke="#5a5a5a" stroke-width="0.55" />
<line x1="479.15" y1="155.5" x2="479.15" y2="156.9" stroke="#5a5a5a" stroke-width="0.55" />
<line x1="481.68" y1="155.5" x2="481.68" y2="156.9" stroke="#5a5a5a" stroke-width="0.55" />
<line x1="484.21" y1="155.5" x2="484.21" y2="156.9" stroke="#5a5a5a" stroke-width="0.55" />
<line x1="486.74" y1="155.5" x2="486.74" y2="156.9" stroke="#5a5a5a" stroke-width="0.55" />
<line x1="489.27" y1="155.5" x2="489.27" y2="156.9" stroke="#5a5a5a" stroke-width="0.55" />
<line x1="491.8" y1="155.5" x2="491.8" y2="156.9" stroke="#5a5a5a" stroke-width="0.55" />
<line x1="494.33" y1="155.5" x2="494.33" y2="156.9" stroke="#5a5a5a" stroke-width="0.55" />
<line x1="496.86" y1="155.5" x2="496.86" y2="156.9" stroke="#5a5a5a" stroke-width="0.55" />
<line x1="499.39" y1="155.5" x2="499.39" y2="156.9" stroke="#5a5a5a" stroke-width="0.55" />
<line x1="501.92" y1="155.5" x2="501.92" y2="156.9" stroke="#5a5a5a" stroke-width="0.55" />
<line x1="504.45" y1="155.5" x2="504.45" y2="156.9" stroke="#5a5a5a" stroke-width="0.55" />
<line x1="506.98" y1="155.5" x2="506.98" y2="156.9" stroke="#5a5a5a" stroke-width="0.55" />
<line x1="509.51" y1="155.5" x2="509.51" y2="156.9" stroke="#5a5a5a" stroke-width="0.55" />
<line x1="512.04" y1="155.5" x2="512.04" y2="156.9" stroke="#5a5a5a" stroke-width="0.55" />
<line x1="514.57" y1="155.5" x2="514.57" y2="156.9" stroke="#5a5a5a" stroke-width="0.55" />
<line x1="517.1" y1="155.5" x2="517.1" y2="156.9" stroke="#5a5a5a" stroke-width="0.55" />
<line x1="289.4" y1="154.2" x2="289.4" y2="157.1" stroke="#7a7a7a" stroke-width="0.6" />
<text x="289.4" y="164.8" font-size="4.8" text-anchor="middle" font-weight="bold" fill="#262626" >0</text>
<line x1="307.11" y1="154.2" x2="307.11" y2="157.1" stroke="#7a7a7a" stroke-width="0.6" />
<text x="307.11" y="164.8" font-size="4.8" text-anchor="middle" font-weight="bold" fill="#262626" >7</text>
<line x1="324.82" y1="154.2" x2="324.82" y2="157.1" stroke="#7a7a7a" stroke-width="0.6" />
<text x="324.82" y="164.8" font-size="4.8" text-anchor="middle" font-weight="bold" fill="#262626" >14</text>
<line x1="342.53" y1="154.2" x2="342.53" y2="157.1" stroke="#7a7a7a" stroke-width="0.6" />
<text x="342.53" y="164.8" font-size="4.8" text-anchor="middle" font-weight="bold" fill="#262626" >21</text>
<line x1="360.24" y1="154.2" x2="360.24" y2="157.1" stroke="#7a7a7a" stroke-width="0.6" />
<text x="360.24" y="164.8" font-size="4.8" text-anchor="middle" font-weight="bold" fill="#262626" >28</text>
<line x1="377.95" y1="154.2" x2="377.95" y2="157.1" stroke="#7a7a7a" stroke-width="0.6" />
<text x="377.95" y="164.8" font-size="4.8" text-anchor="middle" font-weight="bold" fill="#262626" >35</text>
<line x1="395.66" y1="154.2" x2="395.66" y2="157.1" stroke="#7a7a7a" stroke-width="0.6" />
<text x="395.66" y="164.8" font-size="4.8" text-anchor="middle" font-weight="bold" fill="#262626" >42</text>
<line x1="413.37" y1="154.2" x2="413.37" y2="157.1" stroke="#7a7a7a" stroke-width="0.6" />
<text x="413.37" y="164.8" font-size="4.8" text-anchor="middle" font-weight="bold" fill="#262626" >49</text>
<line x1="431.08" y1="154.2" x2="431.08" y2="157.1" stroke="#7a7a7a" stroke-width="0.6" />
<text x="431.08" y="164.8" font-size="4.8" text-anchor="middle" font-weight="bold" fill="#262626" >56</text>
<line x1="448.79" y1="154.2" x2="448.79" y2="157.1" stroke="#7a7a7a" stroke-width="0.6" />
<text x="448.79" y="164.8" font-size="4.8" text-anchor="middle" font-weight="bold" fill="#262626" >63</text>
<line x1="469.03" y1="154.2" x2="469.03" y2="157.1" stroke="#7a7a7a" stroke-width="0.6" />
<line x1="484.21" y1="154.2" x2="484.21" y2="157.1" stroke="#7a7a7a" stroke-width="0.6" />
<text x="484.21" y="164.8" font-size="4.8" text-anchor="middle" font-weight="bold" fill="#262626" >77</text>
<line x1="501.92" y1="154.2" x2="501.92" y2="157.1" stroke="#7a7a7a" stroke-width="0.6" />
<text x="501.92" y="164.8" font-size="4.8" text-anchor="middle" font-weight="bold" fill="#262626" >84</text>
<text x="469.6" y="165.2" font-size="7.8" text-anchor="middle" font-weight="bold" fill="#000" >71</text>
<text x="269.1" y="87.7" font-size="8" text-anchor="middle" font-weight="bold" fill="#000" textLength="126.4" lengthAdjust="spacingAndGlyphs" transform="rotate(-90 269.1 87.7)" >Tumor volume (mm<tspan font-size="5.76" dy="-2.88">3</tspan><tspan dy="2.88">, mean ± SEM)</tspan></text>
<text x="398" y="171.6" font-size="7" text-anchor="middle" font-weight="bold" fill="#000" textLength="35.2" lengthAdjust="spacingAndGlyphs" >Time (days)</text>
<line x1="314.95" y1="120.49" x2="314.95" y2="117.62" stroke="#8a8a8a" stroke-width="0.6" />
<line x1="314.05" y1="117.62" x2="315.85" y2="117.62" stroke="#555" stroke-width="0.7" />
<line x1="317.48" y1="117.9" x2="317.48" y2="114.32" stroke="#8a8a8a" stroke-width="0.6" />
<line x1="316.58" y1="114.32" x2="318.38" y2="114.32" stroke="#555" stroke-width="0.7" />
<line x1="320.01" y1="117.04" x2="320.01" y2="112.74" stroke="#8a8a8a" stroke-width="0.6" />
<line x1="319.11" y1="112.74" x2="320.91" y2="112.74" stroke="#555" stroke-width="0.7" />
<line x1="326.34" y1="110.58" x2="326.34" y2="106.28" stroke="#8a8a8a" stroke-width="0.6" />
<line x1="325.44" y1="106.28" x2="327.24" y2="106.28" stroke="#555" stroke-width="0.7" />
<line x1="331.9" y1="108.15" x2="331.9" y2="103.12" stroke="#8a8a8a" stroke-width="0.6" />
<line x1="331" y1="103.12" x2="332.8" y2="103.12" stroke="#555" stroke-width="0.7" />
<line x1="337.47" y1="104.7" x2="337.47" y2="98.96" stroke="#8a8a8a" stroke-width="0.6" />
<line x1="336.57" y1="98.96" x2="338.37" y2="98.96" stroke="#555" stroke-width="0.7" />
<line x1="343.54" y1="99.97" x2="343.54" y2="93.51" stroke="#8a8a8a" stroke-width="0.6" />
<line x1="342.64" y1="93.51" x2="344.44" y2="93.51" stroke="#555" stroke-width="0.7" />
<line x1="349.36" y1="94.66" x2="349.36" y2="87.48" stroke="#8a8a8a" stroke-width="0.6" />
<line x1="348.46" y1="87.48" x2="350.26" y2="87.48" stroke="#555" stroke-width="0.7" />
<line x1="355.18" y1="90.35" x2="355.18" y2="82.46" stroke="#8a8a8a" stroke-width="0.6" />
<line x1="354.28" y1="82.46" x2="356.08" y2="82.46" stroke="#555" stroke-width="0.7" />
<line x1="361.76" y1="86.76" x2="361.76" y2="78.15" stroke="#8a8a8a" stroke-width="0.6" />
<line x1="360.86" y1="78.15" x2="362.66" y2="78.15" stroke="#555" stroke-width="0.7" />
<line x1="367.07" y1="81.31" x2="367.07" y2="72.7" stroke="#8a8a8a" stroke-width="0.6" />
<line x1="366.17" y1="72.7" x2="367.97" y2="72.7" stroke="#555" stroke-width="0.7" />
<line x1="372.64" y1="75.71" x2="372.64" y2="66.39" stroke="#8a8a8a" stroke-width="0.6" />
<line x1="371.74" y1="66.39" x2="373.54" y2="66.39" stroke="#555" stroke-width="0.7" />
<line x1="380.23" y1="65.53" x2="380.23" y2="55.48" stroke="#8a8a8a" stroke-width="0.6" />
<line x1="379.33" y1="55.48" x2="381.13" y2="55.48" stroke="#555" stroke-width="0.7" />
<line x1="385.29" y1="61.36" x2="385.29" y2="51.32" stroke="#8a8a8a" stroke-width="0.6" />
<line x1="384.39" y1="51.32" x2="386.19" y2="51.32" stroke="#555" stroke-width="0.7" />
<line x1="390.6" y1="58.35" x2="390.6" y2="47.59" stroke="#8a8a8a" stroke-width="0.6" />
<line x1="389.7" y1="47.59" x2="391.5" y2="47.59" stroke="#555" stroke-width="0.7" />
<line x1="396.67" y1="54.76" x2="396.67" y2="44" stroke="#8a8a8a" stroke-width="0.6" />
<line x1="395.77" y1="44" x2="397.57" y2="44" stroke="#555" stroke-width="0.7" />
<line x1="402.49" y1="49.45" x2="402.49" y2="37.97" stroke="#8a8a8a" stroke-width="0.6" />
<line x1="401.59" y1="37.97" x2="403.39" y2="37.97" stroke="#555" stroke-width="0.7" />
<line x1="408.31" y1="44" x2="408.31" y2="32.52" stroke="#8a8a8a" stroke-width="0.6" />
<line x1="407.41" y1="32.52" x2="409.21" y2="32.52" stroke="#555" stroke-width="0.7" />
<line x1="415.39" y1="35.82" x2="415.39" y2="23.62" stroke="#8a8a8a" stroke-width="0.6" />
<line x1="414.49" y1="23.62" x2="416.29" y2="23.62" stroke="#555" stroke-width="0.7" />
<path d="M291.17 128.24 L296.99 125.8 L302.05 123.79 L309.39 122.06 L314.95 120.49 L317.48 117.9 L320.01 117.04 L326.34 110.58 L331.9 108.15 L337.47 104.7 L343.54 99.97 L349.36 94.66 L355.18 90.35 L361.76 86.76 L367.07 81.31 L372.64 75.71 L380.23 65.53 L385.29 61.36 L390.6 58.35 L396.67 54.76 L402.49 49.45 L408.31 44 L415.39 35.82" fill="none" stroke="#5b9bd5" stroke-width="0.9" stroke-linejoin="round"/>
<circle cx="291.17" cy="128.24" r="2" fill="#eaf2fb" stroke="#5b9bd5" stroke-width="0.6"/>
<circle cx="296.99" cy="125.8" r="2" fill="#eaf2fb" stroke="#5b9bd5" stroke-width="0.6"/>
<circle cx="302.05" cy="123.79" r="2" fill="#eaf2fb" stroke="#5b9bd5" stroke-width="0.6"/>
<circle cx="309.39" cy="122.06" r="2" fill="#eaf2fb" stroke="#5b9bd5" stroke-width="0.6"/>
<circle cx="314.95" cy="120.49" r="2" fill="#eaf2fb" stroke="#5b9bd5" stroke-width="0.6"/>
<circle cx="317.48" cy="117.9" r="2" fill="#eaf2fb" stroke="#5b9bd5" stroke-width="0.6"/>
<circle cx="320.01" cy="117.04" r="2" fill="#eaf2fb" stroke="#5b9bd5" stroke-width="0.6"/>
<circle cx="326.34" cy="110.58" r="2" fill="#eaf2fb" stroke="#5b9bd5" stroke-width="0.6"/>
<circle cx="331.9" cy="108.15" r="2" fill="#eaf2fb" stroke="#5b9bd5" stroke-width="0.6"/>
<circle cx="337.47" cy="104.7" r="2" fill="#eaf2fb" stroke="#5b9bd5" stroke-width="0.6"/>
<circle cx="343.54" cy="99.97" r="2" fill="#eaf2fb" stroke="#5b9bd5" stroke-width="0.6"/>
<circle cx="349.36" cy="94.66" r="2" fill="#eaf2fb" stroke="#5b9bd5" stroke-width="0.6"/>
<circle cx="355.18" cy="90.35" r="2" fill="#eaf2fb" stroke="#5b9bd5" stroke-width="0.6"/>
<circle cx="361.76" cy="86.76" r="2" fill="#eaf2fb" stroke="#5b9bd5" stroke-width="0.6"/>
<circle cx="367.07" cy="81.31" r="2" fill="#eaf2fb" stroke="#5b9bd5" stroke-width="0.6"/>
<circle cx="372.64" cy="75.71" r="2" fill="#eaf2fb" stroke="#5b9bd5" stroke-width="0.6"/>
<circle cx="380.23" cy="65.53" r="2" fill="#eaf2fb" stroke="#5b9bd5" stroke-width="0.6"/>
<circle cx="385.29" cy="61.36" r="2" fill="#eaf2fb" stroke="#5b9bd5" stroke-width="0.6"/>
<circle cx="390.6" cy="58.35" r="2" fill="#eaf2fb" stroke="#5b9bd5" stroke-width="0.6"/>
<circle cx="396.67" cy="54.76" r="2" fill="#eaf2fb" stroke="#5b9bd5" stroke-width="0.6"/>
<circle cx="402.49" cy="49.45" r="2" fill="#eaf2fb" stroke="#5b9bd5" stroke-width="0.6"/>
<circle cx="408.31" cy="44" r="2" fill="#eaf2fb" stroke="#5b9bd5" stroke-width="0.6"/>
<circle cx="415.39" cy="35.82" r="2" fill="#eaf2fb" stroke="#5b9bd5" stroke-width="0.6"/>
<line x1="319.76" y1="117.47" x2="319.76" y2="114.6" stroke="#8a8a8a" stroke-width="0.6" />
<line x1="318.86" y1="114.6" x2="320.66" y2="114.6" stroke="#555" stroke-width="0.7" />
<line x1="327.1" y1="115.32" x2="327.1" y2="111.73" stroke="#8a8a8a" stroke-width="0.6" />
<line x1="326.2" y1="111.73" x2="328" y2="111.73" stroke="#555" stroke-width="0.7" />
<line x1="332.41" y1="112.45" x2="332.41" y2="108.15" stroke="#8a8a8a" stroke-width="0.6" />
<line x1="331.51" y1="108.15" x2="333.31" y2="108.15" stroke="#555" stroke-width="0.7" />
<line x1="337.47" y1="109.44" x2="337.47" y2="105.13" stroke="#8a8a8a" stroke-width="0.6" />
<line x1="336.57" y1="105.13" x2="338.37" y2="105.13" stroke="#555" stroke-width="0.7" />
<line x1="343.54" y1="106.57" x2="343.54" y2="102.26" stroke="#8a8a8a" stroke-width="0.6" />
<line x1="342.64" y1="102.26" x2="344.44" y2="102.26" stroke="#555" stroke-width="0.7" />
<line x1="349.36" y1="105.85" x2="349.36" y2="101.54" stroke="#8a8a8a" stroke-width="0.6" />
<line x1="348.46" y1="101.54" x2="350.26" y2="101.54" stroke="#555" stroke-width="0.7" />
<line x1="355.18" y1="103.41" x2="355.18" y2="98.39" stroke="#8a8a8a" stroke-width="0.6" />
<line x1="354.28" y1="98.39" x2="356.08" y2="98.39" stroke="#555" stroke-width="0.7" />
<line x1="362.52" y1="99.97" x2="362.52" y2="94.94" stroke="#8a8a8a" stroke-width="0.6" />
<line x1="361.62" y1="94.94" x2="363.42" y2="94.94" stroke="#555" stroke-width="0.7" />
<line x1="368.34" y1="96.38" x2="368.34" y2="91.36" stroke="#8a8a8a" stroke-width="0.6" />
<line x1="367.44" y1="91.36" x2="369.24" y2="91.36" stroke="#555" stroke-width="0.7" />
<line x1="373.4" y1="93.94" x2="373.4" y2="88.2" stroke="#8a8a8a" stroke-width="0.6" />
<line x1="372.5" y1="88.2" x2="374.3" y2="88.2" stroke="#555" stroke-width="0.7" />
<line x1="380.23" y1="89.92" x2="380.23" y2="84.18" stroke="#8a8a8a" stroke-width="0.6" />
<line x1="379.33" y1="84.18" x2="381.13" y2="84.18" stroke="#555" stroke-width="0.7" />
<line x1="386.05" y1="86.91" x2="386.05" y2="81.17" stroke="#8a8a8a" stroke-width="0.6" />
<line x1="385.15" y1="81.17" x2="386.95" y2="81.17" stroke="#555" stroke-width="0.7" />
<line x1="390.6" y1="85.62" x2="390.6" y2="79.88" stroke="#8a8a8a" stroke-width="0.6" />
<line x1="389.7" y1="79.88" x2="391.5" y2="79.88" stroke="#555" stroke-width="0.7" />
<line x1="396.67" y1="81.31" x2="396.67" y2="75.57" stroke="#8a8a8a" stroke-width="0.6" />
<line x1="395.77" y1="75.57" x2="397.57" y2="75.57" stroke="#555" stroke-width="0.7" />
<line x1="402.49" y1="77.29" x2="402.49" y2="70.84" stroke="#8a8a8a" stroke-width="0.6" />
<line x1="401.59" y1="70.84" x2="403.39" y2="70.84" stroke="#555" stroke-width="0.7" />
<line x1="408.31" y1="74.28" x2="408.31" y2="67.82" stroke="#8a8a8a" stroke-width="0.6" />
<line x1="407.41" y1="67.82" x2="409.21" y2="67.82" stroke="#555" stroke-width="0.7" />
<line x1="415.39" y1="70.26" x2="415.39" y2="63.8" stroke="#8a8a8a" stroke-width="0.6" />
<line x1="414.49" y1="63.8" x2="416.29" y2="63.8" stroke="#555" stroke-width="0.7" />
<path d="M319.76 117.47 L327.1 115.32 L332.41 112.45 L337.47 109.44 L343.54 106.57 L349.36 105.85 L355.18 103.41 L362.52 99.97 L368.34 96.38 L373.4 93.94 L380.23 89.92 L386.05 86.91 L390.6 85.62 L396.67 81.31 L402.49 77.29 L408.31 74.28 L415.39 70.26" fill="none" stroke="#f0d020" stroke-width="1.2" stroke-linejoin="round"/>
<rect x="318.11" y="115.82" width="3.3" height="3.3" fill="#f2c230" stroke="#8a6a10" stroke-width="0.5"/>
<rect x="325.45" y="113.67" width="3.3" height="3.3" fill="#f2c230" stroke="#8a6a10" stroke-width="0.5"/>
<rect x="330.76" y="110.8" width="3.3" height="3.3" fill="#f2c230" stroke="#8a6a10" stroke-width="0.5"/>
<rect x="335.82" y="107.79" width="3.3" height="3.3" fill="#f2c230" stroke="#8a6a10" stroke-width="0.5"/>
<rect x="341.89" y="104.92" width="3.3" height="3.3" fill="#f2c230" stroke="#8a6a10" stroke-width="0.5"/>
<rect x="347.71" y="104.2" width="3.3" height="3.3" fill="#f2c230" stroke="#8a6a10" stroke-width="0.5"/>
<rect x="353.53" y="101.76" width="3.3" height="3.3" fill="#f2c230" stroke="#8a6a10" stroke-width="0.5"/>
<rect x="360.87" y="98.32" width="3.3" height="3.3" fill="#f2c230" stroke="#8a6a10" stroke-width="0.5"/>
<rect x="366.69" y="94.73" width="3.3" height="3.3" fill="#f2c230" stroke="#8a6a10" stroke-width="0.5"/>
<rect x="371.75" y="92.29" width="3.3" height="3.3" fill="#f2c230" stroke="#8a6a10" stroke-width="0.5"/>
<rect x="378.58" y="88.27" width="3.3" height="3.3" fill="#f2c230" stroke="#8a6a10" stroke-width="0.5"/>
<rect x="384.4" y="85.26" width="3.3" height="3.3" fill="#f2c230" stroke="#8a6a10" stroke-width="0.5"/>
<rect x="388.95" y="83.97" width="3.3" height="3.3" fill="#f2c230" stroke="#8a6a10" stroke-width="0.5"/>
<rect x="395.02" y="79.66" width="3.3" height="3.3" fill="#f2c230" stroke="#8a6a10" stroke-width="0.5"/>
<rect x="400.84" y="75.64" width="3.3" height="3.3" fill="#f2c230" stroke="#8a6a10" stroke-width="0.5"/>
<rect x="406.66" y="72.63" width="3.3" height="3.3" fill="#f2c230" stroke="#8a6a10" stroke-width="0.5"/>
<rect x="413.74" y="68.61" width="3.3" height="3.3" fill="#f2c230" stroke="#8a6a10" stroke-width="0.5"/>
<line x1="319.76" y1="117.9" x2="319.76" y2="114.32" stroke="#8a8a8a" stroke-width="0.75" />
<line x1="318.86" y1="114.32" x2="320.66" y2="114.32" stroke="#555" stroke-width="0.7" />
<line x1="326.34" y1="115.03" x2="326.34" y2="111.45" stroke="#8a8a8a" stroke-width="0.75" />
<line x1="325.44" y1="111.45" x2="327.24" y2="111.45" stroke="#555" stroke-width="0.7" />
<line x1="331.9" y1="116.75" x2="331.9" y2="113.17" stroke="#8a8a8a" stroke-width="0.75" />
<line x1="331" y1="113.17" x2="332.8" y2="113.17" stroke="#555" stroke-width="0.7" />
<line x1="337.47" y1="117.9" x2="337.47" y2="114.32" stroke="#8a8a8a" stroke-width="0.75" />
<line x1="336.57" y1="114.32" x2="338.37" y2="114.32" stroke="#555" stroke-width="0.7" />
<line x1="344.81" y1="119.91" x2="344.81" y2="116.32" stroke="#8a8a8a" stroke-width="0.75" />
<line x1="343.91" y1="116.32" x2="345.71" y2="116.32" stroke="#555" stroke-width="0.7" />
<line x1="349.87" y1="121.06" x2="349.87" y2="117.47" stroke="#8a8a8a" stroke-width="0.75" />
<line x1="348.97" y1="117.47" x2="350.77" y2="117.47" stroke="#555" stroke-width="0.7" />
<line x1="356.19" y1="122.5" x2="356.19" y2="118.19" stroke="#8a8a8a" stroke-width="0.75" />
<line x1="355.29" y1="118.19" x2="357.09" y2="118.19" stroke="#555" stroke-width="0.7" />
<line x1="362.52" y1="120.06" x2="362.52" y2="115.75" stroke="#8a8a8a" stroke-width="0.75" />
<line x1="361.62" y1="115.75" x2="363.42" y2="115.75" stroke="#555" stroke-width="0.7" />
<line x1="368.08" y1="118.91" x2="368.08" y2="114.6" stroke="#8a8a8a" stroke-width="0.75" />
<line x1="367.18" y1="114.6" x2="368.98" y2="114.6" stroke="#555" stroke-width="0.7" />
<line x1="372.89" y1="117.9" x2="372.89" y2="113.6" stroke="#8a8a8a" stroke-width="0.75" />
<line x1="371.99" y1="113.6" x2="373.79" y2="113.6" stroke="#555" stroke-width="0.7" />
<line x1="379.97" y1="113.17" x2="379.97" y2="108.15" stroke="#8a8a8a" stroke-width="0.75" />
<line x1="379.07" y1="108.15" x2="380.87" y2="108.15" stroke="#555" stroke-width="0.7" />
<line x1="385.54" y1="117.9" x2="385.54" y2="113.6" stroke="#8a8a8a" stroke-width="0.75" />
<line x1="384.64" y1="113.6" x2="386.44" y2="113.6" stroke="#555" stroke-width="0.7" />
<path d="M319.76 117.9 L326.34 115.03 L331.9 116.75 L337.47 117.9 L344.81 119.91 L349.87 121.06 L356.19 122.5 L362.52 120.06 L368.08 118.91 L372.89 117.9 L379.97 113.17 L385.54 117.9 L391.11 123.64 L396.67 123.64" fill="none" stroke="#22a860" stroke-width="1.3" stroke-linejoin="round"/>
<line x1="380.23" y1="127.23" x2="380.23" y2="125.08" stroke="#8a8a8a" stroke-width="0.75" />
<line x1="379.33" y1="125.08" x2="381.13" y2="125.08" stroke="#555" stroke-width="0.7" />
<line x1="386.05" y1="124.93" x2="386.05" y2="122.78" stroke="#8a8a8a" stroke-width="0.75" />
<line x1="385.15" y1="122.78" x2="386.95" y2="122.78" stroke="#555" stroke-width="0.7" />
<line x1="390.6" y1="123.79" x2="390.6" y2="121.2" stroke="#8a8a8a" stroke-width="0.75" />
<line x1="389.7" y1="121.2" x2="391.5" y2="121.2" stroke="#555" stroke-width="0.7" />
<line x1="396.67" y1="122.5" x2="396.67" y2="119.91" stroke="#8a8a8a" stroke-width="0.75" />
<line x1="395.77" y1="119.91" x2="397.57" y2="119.91" stroke="#555" stroke-width="0.7" />
<line x1="402.49" y1="121.35" x2="402.49" y2="118.76" stroke="#8a8a8a" stroke-width="0.75" />
<line x1="401.59" y1="118.76" x2="403.39" y2="118.76" stroke="#555" stroke-width="0.7" />
<line x1="408.31" y1="120.92" x2="408.31" y2="118.33" stroke="#8a8a8a" stroke-width="0.75" />
<line x1="407.41" y1="118.33" x2="409.21" y2="118.33" stroke="#555" stroke-width="0.7" />
<line x1="415.39" y1="118.91" x2="415.39" y2="116.04" stroke="#8a8a8a" stroke-width="0.75" />
<line x1="414.49" y1="116.04" x2="416.29" y2="116.04" stroke="#555" stroke-width="0.7" />
<path d="M319.76 117.9 L326.34 117.04 L331.9 120.34 L337.47 123.64 L343.54 124.65 L349.36 126.08 L355.18 127.23 L361.76 128.67 L367.07 129.53 L372.89 129.96 L380.23 127.23 L386.05 124.93 L390.6 123.79 L396.67 122.5 L402.49 121.35 L408.31 120.92 L415.39 118.91" fill="none" stroke="#e0702a" stroke-width="1.2" stroke-linejoin="round"/>
<circle cx="319.76" cy="117.9" r="2.2" fill="#e8863a" stroke="#a0501a" stroke-width="0.5"/>
<circle cx="326.34" cy="117.04" r="2.2" fill="#e8863a" stroke="#a0501a" stroke-width="0.5"/>
<circle cx="331.9" cy="120.34" r="2.2" fill="#e8863a" stroke="#a0501a" stroke-width="0.5"/>
<circle cx="337.47" cy="123.64" r="2.2" fill="#e8863a" stroke="#a0501a" stroke-width="0.5"/>
<circle cx="343.54" cy="124.65" r="2.2" fill="#e8863a" stroke="#a0501a" stroke-width="0.5"/>
<circle cx="349.36" cy="126.08" r="2.2" fill="#e8863a" stroke="#a0501a" stroke-width="0.5"/>
<circle cx="355.18" cy="127.23" r="2.2" fill="#e8863a" stroke="#a0501a" stroke-width="0.5"/>
<circle cx="361.76" cy="128.67" r="2.2" fill="#e8863a" stroke="#a0501a" stroke-width="0.5"/>
<circle cx="367.07" cy="129.53" r="2.2" fill="#e8863a" stroke="#a0501a" stroke-width="0.5"/>
<circle cx="372.89" cy="129.96" r="2.2" fill="#e8863a" stroke="#a0501a" stroke-width="0.5"/>
<circle cx="380.23" cy="127.23" r="2.2" fill="#e8863a" stroke="#a0501a" stroke-width="0.5"/>
<circle cx="386.05" cy="124.93" r="2.2" fill="#e8863a" stroke="#a0501a" stroke-width="0.5"/>
<circle cx="390.6" cy="123.79" r="2.2" fill="#e8863a" stroke="#a0501a" stroke-width="0.5"/>
<circle cx="396.67" cy="122.5" r="2.2" fill="#e8863a" stroke="#a0501a" stroke-width="0.5"/>
<circle cx="402.49" cy="121.35" r="2.2" fill="#e8863a" stroke="#a0501a" stroke-width="0.5"/>
<circle cx="408.31" cy="120.92" r="2.2" fill="#e8863a" stroke="#a0501a" stroke-width="0.5"/>
<circle cx="415.39" cy="118.91" r="2.2" fill="#e8863a" stroke="#a0501a" stroke-width="0.5"/>
<path d="M291.17 128.24 L296.99 125.8 L302.05 123.79 L309.39 122.06 L314.95 120.49 L320.01 118.76 L326.34 121.2 L331.9 123.79 L337.47 126.23 L344.81 128.81 L349.87 129.96 L356.19 131.97 L362.52 133.26 L368.08 134.98 L372.89 136.27 L379.97 137.99 L385.54 139.28 L391.11 140 L397.18 140.43 L404.51 141.87 L411.85 142.44 L418.94 143.3 L426.27 144.16 L433.61 144.74 L440.69 145.46 L449.55 146.03 L456.63 146.17 L463.97 146.75 L470.29 147.03 L474.09 147.03 L485.73 146.75 L491.55 146.75 L497.37 146.46 L504.7 145.6 L509 145.46 L511.79 144.74" fill="none" stroke="#761a80" stroke-width="1.3" stroke-linejoin="round"/>
<circle cx="291.17" cy="128.24" r="2.1" fill="#761a80" stroke="#4a0a58" stroke-width="0.4"/>
<circle cx="296.99" cy="125.8" r="2.1" fill="#761a80" stroke="#4a0a58" stroke-width="0.4"/>
<circle cx="302.05" cy="123.79" r="2.1" fill="#761a80" stroke="#4a0a58" stroke-width="0.4"/>
<circle cx="309.39" cy="122.06" r="2.1" fill="#761a80" stroke="#4a0a58" stroke-width="0.4"/>
<circle cx="314.95" cy="120.49" r="2.1" fill="#761a80" stroke="#4a0a58" stroke-width="0.4"/>
<circle cx="320.01" cy="118.76" r="2.1" fill="#761a80" stroke="#4a0a58" stroke-width="0.4"/>
<circle cx="326.34" cy="121.2" r="2.1" fill="#761a80" stroke="#4a0a58" stroke-width="0.4"/>
<circle cx="331.9" cy="123.79" r="2.1" fill="#761a80" stroke="#4a0a58" stroke-width="0.4"/>
<circle cx="337.47" cy="126.23" r="2.1" fill="#761a80" stroke="#4a0a58" stroke-width="0.4"/>
<circle cx="344.81" cy="128.81" r="2.1" fill="#761a80" stroke="#4a0a58" stroke-width="0.4"/>
<circle cx="349.87" cy="129.96" r="2.1" fill="#761a80" stroke="#4a0a58" stroke-width="0.4"/>
<circle cx="356.19" cy="131.97" r="2.1" fill="#761a80" stroke="#4a0a58" stroke-width="0.4"/>
<circle cx="362.52" cy="133.26" r="2.1" fill="#761a80" stroke="#4a0a58" stroke-width="0.4"/>
<circle cx="368.08" cy="134.98" r="2.1" fill="#761a80" stroke="#4a0a58" stroke-width="0.4"/>
<circle cx="372.89" cy="136.27" r="2.1" fill="#761a80" stroke="#4a0a58" stroke-width="0.4"/>
<circle cx="379.97" cy="137.99" r="2.1" fill="#761a80" stroke="#4a0a58" stroke-width="0.4"/>
<circle cx="385.54" cy="139.28" r="2.1" fill="#761a80" stroke="#4a0a58" stroke-width="0.4"/>
<circle cx="391.11" cy="140" r="2.1" fill="#761a80" stroke="#4a0a58" stroke-width="0.4"/>
<circle cx="397.18" cy="140.43" r="2.1" fill="#761a80" stroke="#4a0a58" stroke-width="0.4"/>
<circle cx="404.51" cy="141.87" r="2.1" fill="#761a80" stroke="#4a0a58" stroke-width="0.4"/>
<circle cx="411.85" cy="142.44" r="2.1" fill="#761a80" stroke="#4a0a58" stroke-width="0.4"/>
<circle cx="418.94" cy="143.3" r="2.1" fill="#761a80" stroke="#4a0a58" stroke-width="0.4"/>
<circle cx="426.27" cy="144.16" r="2.1" fill="#761a80" stroke="#4a0a58" stroke-width="0.4"/>
<circle cx="433.61" cy="144.74" r="2.1" fill="#761a80" stroke="#4a0a58" stroke-width="0.4"/>
<circle cx="440.69" cy="145.46" r="2.1" fill="#761a80" stroke="#4a0a58" stroke-width="0.4"/>
<circle cx="449.55" cy="146.03" r="2.1" fill="#761a80" stroke="#4a0a58" stroke-width="0.4"/>
<circle cx="456.63" cy="146.17" r="2.1" fill="#761a80" stroke="#4a0a58" stroke-width="0.4"/>
<circle cx="463.97" cy="146.75" r="2.1" fill="#761a80" stroke="#4a0a58" stroke-width="0.4"/>
<circle cx="470.29" cy="147.03" r="2.1" fill="#761a80" stroke="#4a0a58" stroke-width="0.4"/>
<circle cx="474.09" cy="147.03" r="2.1" fill="#761a80" stroke="#4a0a58" stroke-width="0.4"/>
<circle cx="485.73" cy="146.75" r="2.1" fill="#761a80" stroke="#4a0a58" stroke-width="0.4"/>
<circle cx="491.55" cy="146.75" r="2.1" fill="#761a80" stroke="#4a0a58" stroke-width="0.4"/>
<circle cx="497.37" cy="146.46" r="2.1" fill="#761a80" stroke="#4a0a58" stroke-width="0.4"/>
<circle cx="504.7" cy="145.6" r="2.1" fill="#761a80" stroke="#4a0a58" stroke-width="0.4"/>
<circle cx="509" cy="145.46" r="2.1" fill="#761a80" stroke="#4a0a58" stroke-width="0.4"/>
<circle cx="511.79" cy="144.74" r="2.1" fill="#761a80" stroke="#4a0a58" stroke-width="0.4"/>
<line x1="288.2" y1="12" x2="300.2" y2="12" stroke="#5b9bd5" stroke-width="1.1"/>
<circle cx="294.2" cy="12" r="1.5" fill="#eaf2fb" stroke="#5b9bd5" stroke-width="0.5"/>
<text x="302.2" y="13.62" font-size="4.5" text-anchor="start" font-weight="bold" fill="#000" textLength="8.8" lengthAdjust="spacingAndGlyphs" >Vehicle</text>
<line x1="288.2" y1="20" x2="300.2" y2="20" stroke="#22a860" stroke-width="1.1"/>
<text x="302.2" y="21.62" font-size="4.5" text-anchor="start" font-weight="bold" fill="#000" textLength="96.5" lengthAdjust="spacingAndGlyphs" >Gem (50 mg Gemcitabine/kg; once/w from 2nd w; i.p.)</text>
<line x1="288.2" y1="28.3" x2="300.2" y2="28.3" stroke="#e0702a" stroke-width="1.1"/>
<circle cx="294.2" cy="28.3" r="1.5" fill="#e8863a" stroke="#a0501a" stroke-width="0.5"/>
<text x="302.2" y="29.92" font-size="4.5" text-anchor="start" font-weight="bold" fill="#000" textLength="61.8" lengthAdjust="spacingAndGlyphs" >OMTX705 (20 mg/kg; once/w; i.p.)</text>
<line x1="288.2" y1="36.4" x2="300.2" y2="36.4" stroke="#f0d020" stroke-width="1.1"/>
<rect x="292.9" y="35.1" width="2.6" height="2.6" fill="#f2c230" stroke="#9a7a10" stroke-width="0.5"/>
<text x="302.2" y="38.02" font-size="4.5" text-anchor="start" font-weight="bold" fill="#000" textLength="61.6" lengthAdjust="spacingAndGlyphs" >OMTX705 (10 mg/kg; once/w; i.p.)</text>
<line x1="288.2" y1="44.5" x2="300.2" y2="44.5" stroke="#6a1b8a" stroke-width="1.1"/>
<circle cx="294.2" cy="44.5" r="1.5" fill="#6a1b8a" stroke="#4a0a60" stroke-width="0.5"/>
<text x="302.2" y="46.12" font-size="4.5" text-anchor="start" font-weight="bold" fill="#000" textLength="87.2" lengthAdjust="spacingAndGlyphs" >Combo 6 (OMTX705 10 mg/kg, 2x in first w; +Gem)</text>
<text x="469.6" y="38.4" font-size="5.4" text-anchor="middle" font-weight="bold" fill="#000" textLength="43" lengthAdjust="spacingAndGlyphs" >End of treatment</text>
<line x1="469.5" y1="40.7" x2="468.7" y2="151.08" stroke="#000" stroke-width="1.9" />
<polygon points="465.81,150.06 471.59,150.06 468.7,155.8" fill="#000"/>
<text x="1.9" y="189.8" font-size="12.4" text-anchor="start" font-weight="bold" fill="#000" >C</text>
<rect x="106.5" y="186.5" width="46.5" height="13.5" fill="#f8f8f8" stroke="none" stroke-width="0"/>
<text x="129.85" y="196.9" font-size="9.9" text-anchor="middle" font-weight="bold" fill="#000" textLength="38.7" lengthAdjust="spacingAndGlyphs" >Panc 007</text>
<line x1="28.6" y1="337.8" x2="28.6" y2="194" stroke="#7a7a7a" stroke-width="1.2" />
<line x1="28.6" y1="337.8" x2="253" y2="337.8" stroke="#7a7a7a" stroke-width="1.1" />
<line x1="27" y1="337.8" x2="28.6" y2="337.8" stroke="#7a7a7a" stroke-width="0.6" />
<text x="23" y="339.71" font-size="5.3" text-anchor="end" font-weight="bold" fill="#262626" >0</text>
<line x1="27" y1="324.7" x2="28.6" y2="324.7" stroke="#7a7a7a" stroke-width="0.6" />
<text x="23" y="326.61" font-size="5.3" text-anchor="end" font-weight="bold" fill="#262626" >100</text>
<line x1="27" y1="311.6" x2="28.6" y2="311.6" stroke="#7a7a7a" stroke-width="0.6" />
<text x="23" y="313.51" font-size="5.3" text-anchor="end" font-weight="bold" fill="#262626" >200</text>
<line x1="27" y1="298.5" x2="28.6" y2="298.5" stroke="#7a7a7a" stroke-width="0.6" />
<text x="23" y="300.41" font-size="5.3" text-anchor="end" font-weight="bold" fill="#262626" >300</text>
<line x1="27" y1="285.4" x2="28.6" y2="285.4" stroke="#7a7a7a" stroke-width="0.6" />
<text x="23" y="287.31" font-size="5.3" text-anchor="end" font-weight="bold" fill="#262626" >400</text>
<line x1="27" y1="272.3" x2="28.6" y2="272.3" stroke="#7a7a7a" stroke-width="0.6" />
<text x="23" y="274.21" font-size="5.3" text-anchor="end" font-weight="bold" fill="#262626" >500</text>
<line x1="27" y1="259.2" x2="28.6" y2="259.2" stroke="#7a7a7a" stroke-width="0.6" />
<text x="23" y="261.11" font-size="5.3" text-anchor="end" font-weight="bold" fill="#262626" >600</text>
<line x1="27" y1="246.1" x2="28.6" y2="246.1" stroke="#7a7a7a" stroke-width="0.6" />
<text x="23" y="248.01" font-size="5.3" text-anchor="end" font-weight="bold" fill="#262626" >700</text>
<line x1="27" y1="233" x2="28.6" y2="233" stroke="#7a7a7a" stroke-width="0.6" />
<text x="23" y="234.91" font-size="5.3" text-anchor="end" font-weight="bold" fill="#262626" >800</text>
<line x1="27" y1="219.9" x2="28.6" y2="219.9" stroke="#7a7a7a" stroke-width="0.6" />
<text x="23" y="221.81" font-size="5.3" text-anchor="end" font-weight="bold" fill="#262626" >900</text>
<line x1="27" y1="206.8" x2="28.6" y2="206.8" stroke="#7a7a7a" stroke-width="0.6" />
<text x="23" y="208.71" font-size="5.3" text-anchor="end" font-weight="bold" fill="#262626" >1,000</text>
<line x1="27" y1="193.7" x2="28.6" y2="193.7" stroke="#7a7a7a" stroke-width="0.6" />
<text x="23" y="195.61" font-size="5.3" text-anchor="end" font-weight="bold" fill="#262626" >1,100</text>
<line x1="28.6" y1="337.8" x2="28.6" y2="339.2" stroke="#5a5a5a" stroke-width="0.55" />
<line x1="32.85" y1="337.8" x2="32.85" y2="339.2" stroke="#5a5a5a" stroke-width="0.55" />
<line x1="37.1" y1="337.8" x2="37.1" y2="339.2" stroke="#5a5a5a" stroke-width="0.55" />
<line x1="41.35" y1="337.8" x2="41.35" y2="339.2" stroke="#5a5a5a" stroke-width="0.55" />
<line x1="45.6" y1="337.8" x2="45.6" y2="339.2" stroke="#5a5a5a" stroke-width="0.55" />
<line x1="49.85" y1="337.8" x2="49.85" y2="339.2" stroke="#5a5a5a" stroke-width="0.55" />
<line x1="54.1" y1="337.8" x2="54.1" y2="339.2" stroke="#5a5a5a" stroke-width="0.55" />
<line x1="58.35" y1="337.8" x2="58.35" y2="339.2" stroke="#5a5a5a" stroke-width="0.55" />
<line x1="62.6" y1="337.8" x2="62.6" y2="339.2" stroke="#5a5a5a" stroke-width="0.55" />
<line x1="66.85" y1="337.8" x2="66.85" y2="339.2" stroke="#5a5a5a" stroke-width="0.55" />
<line x1="71.1" y1="337.8" x2="71.1" y2="339.2" stroke="#5a5a5a" stroke-width="0.55" />
<line x1="75.35" y1="337.8" x2="75.35" y2="339.2" stroke="#5a5a5a" stroke-width="0.55" />
<line x1="79.6" y1="337.8" x2="79.6" y2="339.2" stroke="#5a5a5a" stroke-width="0.55" />
<line x1="83.85" y1="337.8" x2="83.85" y2="339.2" stroke="#5a5a5a" stroke-width="0.55" />
<line x1="88.1" y1="337.8" x2="88.1" y2="339.2" stroke="#5a5a5a" stroke-width="0.55" />
<line x1="92.35" y1="337.8" x2="92.35" y2="339.2" stroke="#5a5a5a" stroke-width="0.55" />
<line x1="96.6" y1="337.8" x2="96.6" y2="339.2" stroke="#5a5a5a" stroke-width="0.55" />
<line x1="100.85" y1="337.8" x2="100.85" y2="339.2" stroke="#5a5a5a" stroke-width="0.55" />
<line x1="105.1" y1="337.8" x2="105.1" y2="339.2" stroke="#5a5a5a" stroke-width="0.55" />
<line x1="109.35" y1="337.8" x2="109.35" y2="339.2" stroke="#5a5a5a" stroke-width="0.55" />
<line x1="113.6" y1="337.8" x2="113.6" y2="339.2" stroke="#5a5a5a" stroke-width="0.55" />
<line x1="117.85" y1="337.8" x2="117.85" y2="339.2" stroke="#5a5a5a" stroke-width="0.55" />
<line x1="122.1" y1="337.8" x2="122.1" y2="339.2" stroke="#5a5a5a" stroke-width="0.55" />
<line x1="126.35" y1="337.8" x2="126.35" y2="339.2" stroke="#5a5a5a" stroke-width="0.55" />
<line x1="130.6" y1="337.8" x2="130.6" y2="339.2" stroke="#5a5a5a" stroke-width="0.55" />
<line x1="134.85" y1="337.8" x2="134.85" y2="339.2" stroke="#5a5a5a" stroke-width="0.55" />
<line x1="139.1" y1="337.8" x2="139.1" y2="339.2" stroke="#5a5a5a" stroke-width="0.55" />
<line x1="143.35" y1="337.8" x2="143.35" y2="339.2" stroke="#5a5a5a" stroke-width="0.55" />
<line x1="147.6" y1="337.8" x2="147.6" y2="339.2" stroke="#5a5a5a" stroke-width="0.55" />
<line x1="151.85" y1="337.8" x2="151.85" y2="339.2" stroke="#5a5a5a" stroke-width="0.55" />
<line x1="156.1" y1="337.8" x2="156.1" y2="339.2" stroke="#5a5a5a" stroke-width="0.55" />
<line x1="160.35" y1="337.8" x2="160.35" y2="339.2" stroke="#5a5a5a" stroke-width="0.55" />
<line x1="164.6" y1="337.8" x2="164.6" y2="339.2" stroke="#5a5a5a" stroke-width="0.55" />
<line x1="168.85" y1="337.8" x2="168.85" y2="339.2" stroke="#5a5a5a" stroke-width="0.55" />
<line x1="173.1" y1="337.8" x2="173.1" y2="339.2" stroke="#5a5a5a" stroke-width="0.55" />
<line x1="177.35" y1="337.8" x2="177.35" y2="339.2" stroke="#5a5a5a" stroke-width="0.55" />
<line x1="181.6" y1="337.8" x2="181.6" y2="339.2" stroke="#5a5a5a" stroke-width="0.55" />
<line x1="185.85" y1="337.8" x2="185.85" y2="339.2" stroke="#5a5a5a" stroke-width="0.55" />
<line x1="190.1" y1="337.8" x2="190.1" y2="339.2" stroke="#5a5a5a" stroke-width="0.55" />
<line x1="194.35" y1="337.8" x2="194.35" y2="339.2" stroke="#5a5a5a" stroke-width="0.55" />
<line x1="198.6" y1="337.8" x2="198.6" y2="339.2" stroke="#5a5a5a" stroke-width="0.55" />
<line x1="202.85" y1="337.8" x2="202.85" y2="339.2" stroke="#5a5a5a" stroke-width="0.55" />
<line x1="207.1" y1="337.8" x2="207.1" y2="339.2" stroke="#5a5a5a" stroke-width="0.55" />
<line x1="211.35" y1="337.8" x2="211.35" y2="339.2" stroke="#5a5a5a" stroke-width="0.55" />
<line x1="215.6" y1="337.8" x2="215.6" y2="339.2" stroke="#5a5a5a" stroke-width="0.55" />
<line x1="219.85" y1="337.8" x2="219.85" y2="339.2" stroke="#5a5a5a" stroke-width="0.55" />
<line x1="224.1" y1="337.8" x2="224.1" y2="339.2" stroke="#5a5a5a" stroke-width="0.55" />
<line x1="228.35" y1="337.8" x2="228.35" y2="339.2" stroke="#5a5a5a" stroke-width="0.55" />
<line x1="232.6" y1="337.8" x2="232.6" y2="339.2" stroke="#5a5a5a" stroke-width="0.55" />
<line x1="236.85" y1="337.8" x2="236.85" y2="339.2" stroke="#5a5a5a" stroke-width="0.55" />
<line x1="241.1" y1="337.8" x2="241.1" y2="339.2" stroke="#5a5a5a" stroke-width="0.55" />
<line x1="28.6" y1="336.5" x2="28.6" y2="339.4" stroke="#7a7a7a" stroke-width="0.6" />
<text x="28.6" y="347.5" font-size="5" text-anchor="middle" font-weight="bold" fill="#262626" >0</text>
<line x1="58.35" y1="336.5" x2="58.35" y2="339.4" stroke="#7a7a7a" stroke-width="0.6" />
<text x="58.35" y="347.5" font-size="5" text-anchor="middle" font-weight="bold" fill="#262626" >7</text>
<line x1="88.1" y1="336.5" x2="88.1" y2="339.4" stroke="#7a7a7a" stroke-width="0.6" />
<text x="88.1" y="347.5" font-size="5" text-anchor="middle" font-weight="bold" fill="#262626" >14</text>
<line x1="117.85" y1="336.5" x2="117.85" y2="339.4" stroke="#7a7a7a" stroke-width="0.6" />
<text x="117.85" y="347.5" font-size="5" text-anchor="middle" font-weight="bold" fill="#262626" >21</text>
<line x1="147.6" y1="336.5" x2="147.6" y2="339.4" stroke="#7a7a7a" stroke-width="0.6" />
<line x1="177.35" y1="336.5" x2="177.35" y2="339.4" stroke="#7a7a7a" stroke-width="0.6" />
<text x="177.35" y="347.5" font-size="5" text-anchor="middle" font-weight="bold" fill="#262626" >35</text>
<line x1="207.1" y1="336.5" x2="207.1" y2="339.4" stroke="#7a7a7a" stroke-width="0.6" />
<text x="207.1" y="347.5" font-size="5" text-anchor="middle" font-weight="bold" fill="#262626" >42</text>
<line x1="236.85" y1="336.5" x2="236.85" y2="339.4" stroke="#7a7a7a" stroke-width="0.6" />
<text x="236.85" y="347.5" font-size="5" text-anchor="middle" font-weight="bold" fill="#262626" >49</text>
<text x="156.1" y="348.2" font-size="7.8" text-anchor="middle" font-weight="bold" fill="#000" >30</text>
<text x="7" y="267.6" font-size="8" text-anchor="middle" font-weight="bold" fill="#000" textLength="126.4" lengthAdjust="spacingAndGlyphs" transform="rotate(-90 7 267.6)" >Tumor volume (mm<tspan font-size="5.76" dy="-2.88">3</tspan><tspan dy="2.88">, mean ± SEM)</tspan></text>
<text x="139.4" y="357.2" font-size="7.1" text-anchor="middle" font-weight="bold" fill="#000" textLength="35.8" lengthAdjust="spacingAndGlyphs" >Time (days)</text>
<line x1="32.85" y1="309.63" x2="32.85" y2="308.98" stroke="#8a8a8a" stroke-width="0.6" />
<line x1="31.95" y1="308.98" x2="33.75" y2="308.98" stroke="#555" stroke-width="0.7" />
<line x1="49" y1="301.78" x2="49" y2="299.81" stroke="#8a8a8a" stroke-width="0.6" />
<line x1="48.1" y1="299.81" x2="49.9" y2="299.81" stroke="#555" stroke-width="0.7" />
<line x1="61.75" y1="297.58" x2="61.75" y2="295.62" stroke="#8a8a8a" stroke-width="0.6" />
<line x1="60.85" y1="295.62" x2="62.65" y2="295.62" stroke="#555" stroke-width="0.7" />
<line x1="70.68" y1="294.44" x2="70.68" y2="292.47" stroke="#8a8a8a" stroke-width="0.6" />
<line x1="69.78" y1="292.47" x2="71.58" y2="292.47" stroke="#555" stroke-width="0.7" />
<line x1="79.18" y1="291.43" x2="79.18" y2="289.46" stroke="#8a8a8a" stroke-width="0.6" />
<line x1="78.28" y1="289.46" x2="80.08" y2="289.46" stroke="#555" stroke-width="0.7" />
<line x1="96.6" y1="287.37" x2="96.6" y2="284.75" stroke="#8a8a8a" stroke-width="0.6" />
<line x1="95.7" y1="284.75" x2="97.5" y2="284.75" stroke="#555" stroke-width="0.7" />
<line x1="109.35" y1="284.22" x2="109.35" y2="281.6" stroke="#8a8a8a" stroke-width="0.6" />
<line x1="108.45" y1="281.6" x2="110.25" y2="281.6" stroke="#555" stroke-width="0.7" />
<line x1="121.67" y1="278.85" x2="121.67" y2="276.23" stroke="#8a8a8a" stroke-width="0.6" />
<line x1="120.77" y1="276.23" x2="122.57" y2="276.23" stroke="#555" stroke-width="0.7" />
<line x1="130.6" y1="276.23" x2="130.6" y2="273.35" stroke="#8a8a8a" stroke-width="0.6" />
<line x1="129.7" y1="273.35" x2="131.5" y2="273.35" stroke="#555" stroke-width="0.7" />
<line x1="138.67" y1="271.38" x2="138.67" y2="268.11" stroke="#8a8a8a" stroke-width="0.6" />
<line x1="137.77" y1="268.11" x2="139.57" y2="268.11" stroke="#555" stroke-width="0.7" />
<line x1="152.28" y1="264.96" x2="152.28" y2="261.69" stroke="#8a8a8a" stroke-width="0.6" />
<line x1="151.38" y1="261.69" x2="153.18" y2="261.69" stroke="#555" stroke-width="0.7" />
<line x1="160.78" y1="258.81" x2="160.78" y2="255.14" stroke="#8a8a8a" stroke-width="0.6" />
<line x1="159.88" y1="255.14" x2="161.68" y2="255.14" stroke="#555" stroke-width="0.7" />
<line x1="169.7" y1="250.29" x2="169.7" y2="246.36" stroke="#8a8a8a" stroke-width="0.6" />
<line x1="168.8" y1="246.36" x2="170.6" y2="246.36" stroke="#555" stroke-width="0.7" />
<line x1="182.03" y1="249.51" x2="182.03" y2="245.58" stroke="#8a8a8a" stroke-width="0.6" />
<line x1="181.12" y1="245.58" x2="182.93" y2="245.58" stroke="#555" stroke-width="0.7" />
<line x1="190.1" y1="241.38" x2="190.1" y2="237.19" stroke="#8a8a8a" stroke-width="0.6" />
<line x1="189.2" y1="237.19" x2="191" y2="237.19" stroke="#555" stroke-width="0.7" />
<line x1="199.45" y1="236.14" x2="199.45" y2="231.95" stroke="#8a8a8a" stroke-width="0.6" />
<line x1="198.55" y1="231.95" x2="200.35" y2="231.95" stroke="#555" stroke-width="0.7" />
<line x1="211.78" y1="228.02" x2="211.78" y2="223.44" stroke="#8a8a8a" stroke-width="0.6" />
<line x1="210.88" y1="223.44" x2="212.68" y2="223.44" stroke="#555" stroke-width="0.7" />
<line x1="220.28" y1="220.56" x2="220.28" y2="215.58" stroke="#8a8a8a" stroke-width="0.6" />
<line x1="219.38" y1="215.58" x2="221.18" y2="215.58" stroke="#555" stroke-width="0.7" />
<path d="M32.85 309.63 L49 301.78 L61.75 297.58 L70.68 294.44 L79.18 291.43 L96.6 287.37 L109.35 284.22 L121.67 278.85 L130.6 276.23 L138.67 271.38 L152.28 264.96 L160.78 258.81 L169.7 250.29 L182.03 249.51 L190.1 241.38 L199.45 236.14 L211.78 228.02 L220.28 220.56" fill="none" stroke="#3a6ab0" stroke-width="1" stroke-dasharray="2.6,1.6" stroke-linejoin="round"/>
<circle cx="32.85" cy="309.63" r="2.5" fill="#e6f0fa" stroke="#4a80c0" stroke-width="0.7"/>
<circle cx="49" cy="301.78" r="2.5" fill="#e6f0fa" stroke="#4a80c0" stroke-width="0.7"/>
<circle cx="61.75" cy="297.58" r="2.5" fill="#e6f0fa" stroke="#4a80c0" stroke-width="0.7"/>
<circle cx="70.68" cy="294.44" r="2.5" fill="#e6f0fa" stroke="#4a80c0" stroke-width="0.7"/>
<circle cx="79.18" cy="291.43" r="2.5" fill="#e6f0fa" stroke="#4a80c0" stroke-width="0.7"/>
<circle cx="96.6" cy="287.37" r="2.5" fill="#e6f0fa" stroke="#4a80c0" stroke-width="0.7"/>
<circle cx="109.35" cy="284.22" r="2.5" fill="#e6f0fa" stroke="#4a80c0" stroke-width="0.7"/>
<circle cx="121.67" cy="278.85" r="2.5" fill="#e6f0fa" stroke="#4a80c0" stroke-width="0.7"/>
<circle cx="130.6" cy="276.23" r="2.5" fill="#e6f0fa" stroke="#4a80c0" stroke-width="0.7"/>
<circle cx="138.67" cy="271.38" r="2.5" fill="#e6f0fa" stroke="#4a80c0" stroke-width="0.7"/>
<circle cx="152.28" cy="264.96" r="2.5" fill="#e6f0fa" stroke="#4a80c0" stroke-width="0.7"/>
<circle cx="160.78" cy="258.81" r="2.5" fill="#e6f0fa" stroke="#4a80c0" stroke-width="0.7"/>
<circle cx="169.7" cy="250.29" r="2.5" fill="#e6f0fa" stroke="#4a80c0" stroke-width="0.7"/>
<circle cx="182.03" cy="249.51" r="2.5" fill="#e6f0fa" stroke="#4a80c0" stroke-width="0.7"/>
<circle cx="190.1" cy="241.38" r="2.5" fill="#e6f0fa" stroke="#4a80c0" stroke-width="0.7"/>
<circle cx="199.45" cy="236.14" r="2.5" fill="#e6f0fa" stroke="#4a80c0" stroke-width="0.7"/>
<circle cx="211.78" cy="228.02" r="2.5" fill="#e6f0fa" stroke="#4a80c0" stroke-width="0.7"/>
<circle cx="220.28" cy="220.56" r="2.5" fill="#e6f0fa" stroke="#4a80c0" stroke-width="0.7"/>
<line x1="32.85" y1="309.63" x2="32.85" y2="308.98" stroke="#8a8a8a" stroke-width="0.75" />
<line x1="31.95" y1="308.98" x2="33.75" y2="308.98" stroke="#555" stroke-width="0.7" />
<line x1="49" y1="306.1" x2="49" y2="304.79" stroke="#8a8a8a" stroke-width="0.75" />
<line x1="48.1" y1="304.79" x2="49.9" y2="304.79" stroke="#555" stroke-width="0.7" />
<line x1="61.75" y1="303.48" x2="61.75" y2="302.17" stroke="#8a8a8a" stroke-width="0.75" />
<line x1="60.85" y1="302.17" x2="62.65" y2="302.17" stroke="#555" stroke-width="0.7" />
<line x1="70.68" y1="302.17" x2="70.68" y2="300.6" stroke="#8a8a8a" stroke-width="0.75" />
<line x1="69.78" y1="300.6" x2="71.58" y2="300.6" stroke="#555" stroke-width="0.7" />
<line x1="79.18" y1="299.16" x2="79.18" y2="297.58" stroke="#8a8a8a" stroke-width="0.75" />
<line x1="78.28" y1="297.58" x2="80.08" y2="297.58" stroke="#555" stroke-width="0.7" />
<line x1="96.6" y1="298.11" x2="96.6" y2="296.14" stroke="#8a8a8a" stroke-width="0.75" />
<line x1="95.7" y1="296.14" x2="97.5" y2="296.14" stroke="#555" stroke-width="0.7" />
<line x1="109.35" y1="302.3" x2="109.35" y2="300.33" stroke="#8a8a8a" stroke-width="0.75" />
<line x1="108.45" y1="300.33" x2="110.25" y2="300.33" stroke="#555" stroke-width="0.7" />
<line x1="121.67" y1="303.61" x2="121.67" y2="301.64" stroke="#8a8a8a" stroke-width="0.75" />
<line x1="120.77" y1="301.64" x2="122.57" y2="301.64" stroke="#555" stroke-width="0.7" />
<line x1="130.6" y1="304.39" x2="130.6" y2="302.43" stroke="#8a8a8a" stroke-width="0.75" />
<line x1="129.7" y1="302.43" x2="131.5" y2="302.43" stroke="#555" stroke-width="0.7" />
<line x1="138.67" y1="305.05" x2="138.67" y2="303.09" stroke="#8a8a8a" stroke-width="0.75" />
<line x1="137.77" y1="303.09" x2="139.57" y2="303.09" stroke="#555" stroke-width="0.7" />
<line x1="152.28" y1="298.89" x2="152.28" y2="296.54" stroke="#8a8a8a" stroke-width="0.75" />
<line x1="151.38" y1="296.54" x2="153.18" y2="296.54" stroke="#555" stroke-width="0.7" />
<line x1="160.78" y1="297.45" x2="160.78" y2="295.09" stroke="#8a8a8a" stroke-width="0.75" />
<line x1="159.88" y1="295.09" x2="161.68" y2="295.09" stroke="#555" stroke-width="0.7" />
<line x1="169.7" y1="294.83" x2="169.7" y2="292.47" stroke="#8a8a8a" stroke-width="0.75" />
<line x1="168.8" y1="292.47" x2="170.6" y2="292.47" stroke="#555" stroke-width="0.7" />
<line x1="182.03" y1="302.82" x2="182.03" y2="300.86" stroke="#8a8a8a" stroke-width="0.75" />
<line x1="181.12" y1="300.86" x2="182.93" y2="300.86" stroke="#555" stroke-width="0.7" />
<line x1="190.1" y1="308.19" x2="190.1" y2="306.23" stroke="#8a8a8a" stroke-width="0.75" />
<line x1="189.2" y1="306.23" x2="191" y2="306.23" stroke="#555" stroke-width="0.7" />
<line x1="199.45" y1="310.94" x2="199.45" y2="309.37" stroke="#8a8a8a" stroke-width="0.75" />
<line x1="198.55" y1="309.37" x2="200.35" y2="309.37" stroke="#555" stroke-width="0.7" />
<line x1="211.78" y1="315.66" x2="211.78" y2="314.35" stroke="#8a8a8a" stroke-width="0.75" />
<line x1="210.88" y1="314.35" x2="212.68" y2="314.35" stroke="#555" stroke-width="0.7" />
<line x1="220.28" y1="316.19" x2="220.28" y2="314.88" stroke="#8a8a8a" stroke-width="0.75" />
<line x1="219.38" y1="314.88" x2="221.18" y2="314.88" stroke="#555" stroke-width="0.7" />
<line x1="228.35" y1="315.66" x2="228.35" y2="314.35" stroke="#8a8a8a" stroke-width="0.75" />
<line x1="227.45" y1="314.35" x2="229.25" y2="314.35" stroke="#555" stroke-width="0.7" />
<line x1="241.95" y1="313.56" x2="241.95" y2="312.25" stroke="#8a8a8a" stroke-width="0.75" />
<line x1="241.05" y1="312.25" x2="242.85" y2="312.25" stroke="#555" stroke-width="0.7" />
<path d="M32.85 309.63 L49 306.1 L61.75 303.48 L70.68 302.17 L79.18 299.16 L96.6 298.11 L109.35 302.3 L121.67 303.61 L130.6 304.39 L138.67 305.05 L152.28 298.89 L160.78 297.45 L169.7 294.83 L182.03 302.82 L190.1 308.19 L199.45 310.94 L211.78 315.66 L220.28 316.19 L228.35 315.66 L241.95 313.56" fill="none" stroke="#b5651d" stroke-width="1.5" stroke-linejoin="round"/>
<polygon points="32.85,307.47 35.01,309.63 32.85,311.8 30.69,309.63" fill="#c8722a" stroke="#7a3a10" stroke-width="0.4"/>
<polygon points="49,303.94 51.16,306.1 49,308.26 46.84,306.1" fill="#c8722a" stroke="#7a3a10" stroke-width="0.4"/>
<polygon points="61.75,301.32 63.91,303.48 61.75,305.64 59.59,303.48" fill="#c8722a" stroke="#7a3a10" stroke-width="0.4"/>
<polygon points="70.68,300.01 72.84,302.17 70.68,304.33 68.52,302.17" fill="#c8722a" stroke="#7a3a10" stroke-width="0.4"/>
<polygon points="79.18,297 81.34,299.16 79.18,301.32 77.02,299.16" fill="#c8722a" stroke="#7a3a10" stroke-width="0.4"/>
<polygon points="96.6,295.95 98.76,298.11 96.6,300.27 94.44,298.11" fill="#c8722a" stroke="#7a3a10" stroke-width="0.4"/>
<polygon points="109.35,300.14 111.51,302.3 109.35,304.46 107.19,302.3" fill="#c8722a" stroke="#7a3a10" stroke-width="0.4"/>
<polygon points="121.67,301.45 123.83,303.61 121.67,305.77 119.51,303.61" fill="#c8722a" stroke="#7a3a10" stroke-width="0.4"/>
<polygon points="130.6,302.23 132.76,304.39 130.6,306.56 128.44,304.39" fill="#c8722a" stroke="#7a3a10" stroke-width="0.4"/>
<polygon points="138.67,302.89 140.83,305.05 138.67,307.21 136.51,305.05" fill="#c8722a" stroke="#7a3a10" stroke-width="0.4"/>
<polygon points="152.28,296.73 154.44,298.89 152.28,301.05 150.12,298.89" fill="#c8722a" stroke="#7a3a10" stroke-width="0.4"/>
<polygon points="160.78,295.29 162.94,297.45 160.78,299.61 158.62,297.45" fill="#c8722a" stroke="#7a3a10" stroke-width="0.4"/>
<polygon points="169.7,292.67 171.86,294.83 169.7,296.99 167.54,294.83" fill="#c8722a" stroke="#7a3a10" stroke-width="0.4"/>
<polygon points="182.03,300.66 184.19,302.82 182.03,304.98 179.87,302.82" fill="#c8722a" stroke="#7a3a10" stroke-width="0.4"/>
<polygon points="190.1,306.03 192.26,308.19 190.1,310.35 187.94,308.19" fill="#c8722a" stroke="#7a3a10" stroke-width="0.4"/>
<polygon points="199.45,308.78 201.61,310.94 199.45,313.11 197.29,310.94" fill="#c8722a" stroke="#7a3a10" stroke-width="0.4"/>
<polygon points="211.78,313.5 213.94,315.66 211.78,317.82 209.62,315.66" fill="#c8722a" stroke="#7a3a10" stroke-width="0.4"/>
<polygon points="220.28,314.02 222.44,316.19 220.28,318.35 218.12,316.19" fill="#c8722a" stroke="#7a3a10" stroke-width="0.4"/>
<polygon points="228.35,313.5 230.51,315.66 228.35,317.82 226.19,315.66" fill="#c8722a" stroke="#7a3a10" stroke-width="0.4"/>
<polygon points="241.95,311.4 244.11,313.56 241.95,315.73 239.79,313.56" fill="#c8722a" stroke="#7a3a10" stroke-width="0.4"/>
<line x1="32.85" y1="309.63" x2="32.85" y2="308.98" stroke="#8a8a8a" stroke-width="0.75" />
<line x1="31.95" y1="308.98" x2="33.75" y2="308.98" stroke="#555" stroke-width="0.7" />
<line x1="49" y1="307.41" x2="49" y2="306.1" stroke="#8a8a8a" stroke-width="0.75" />
<line x1="48.1" y1="306.1" x2="49.9" y2="306.1" stroke="#555" stroke-width="0.7" />
<line x1="61.75" y1="304.26" x2="61.75" y2="302.95" stroke="#8a8a8a" stroke-width="0.75" />
<line x1="60.85" y1="302.95" x2="62.65" y2="302.95" stroke="#555" stroke-width="0.7" />
<line x1="70.68" y1="303.09" x2="70.68" y2="301.51" stroke="#8a8a8a" stroke-width="0.75" />
<line x1="69.78" y1="301.51" x2="71.58" y2="301.51" stroke="#555" stroke-width="0.7" />
<line x1="79.18" y1="299.81" x2="79.18" y2="298.24" stroke="#8a8a8a" stroke-width="0.75" />
<line x1="78.28" y1="298.24" x2="80.08" y2="298.24" stroke="#555" stroke-width="0.7" />
<line x1="96.6" y1="300.6" x2="96.6" y2="298.63" stroke="#8a8a8a" stroke-width="0.75" />
<line x1="95.7" y1="298.63" x2="97.5" y2="298.63" stroke="#555" stroke-width="0.7" />
<line x1="109.35" y1="303.61" x2="109.35" y2="301.64" stroke="#8a8a8a" stroke-width="0.75" />
<line x1="108.45" y1="301.64" x2="110.25" y2="301.64" stroke="#555" stroke-width="0.7" />
<line x1="121.67" y1="306.75" x2="121.67" y2="304.79" stroke="#8a8a8a" stroke-width="0.75" />
<line x1="120.77" y1="304.79" x2="122.57" y2="304.79" stroke="#555" stroke-width="0.7" />
<line x1="130.6" y1="309.5" x2="130.6" y2="307.54" stroke="#8a8a8a" stroke-width="0.75" />
<line x1="129.7" y1="307.54" x2="131.5" y2="307.54" stroke="#555" stroke-width="0.7" />
<line x1="138.67" y1="308.85" x2="138.67" y2="306.88" stroke="#8a8a8a" stroke-width="0.75" />
<line x1="137.77" y1="306.88" x2="139.57" y2="306.88" stroke="#555" stroke-width="0.7" />
<line x1="152.28" y1="302.82" x2="152.28" y2="300.46" stroke="#8a8a8a" stroke-width="0.75" />
<line x1="151.38" y1="300.46" x2="153.18" y2="300.46" stroke="#555" stroke-width="0.7" />
<line x1="160.78" y1="298.89" x2="160.78" y2="296.54" stroke="#8a8a8a" stroke-width="0.75" />
<line x1="159.88" y1="296.54" x2="161.68" y2="296.54" stroke="#555" stroke-width="0.7" />
<line x1="169.7" y1="294.31" x2="169.7" y2="291.95" stroke="#8a8a8a" stroke-width="0.75" />
<line x1="168.8" y1="291.95" x2="170.6" y2="291.95" stroke="#555" stroke-width="0.7" />
<line x1="182.03" y1="305.44" x2="182.03" y2="303.48" stroke="#8a8a8a" stroke-width="0.75" />
<line x1="181.12" y1="303.48" x2="182.93" y2="303.48" stroke="#555" stroke-width="0.7" />
<line x1="190.1" y1="310.94" x2="190.1" y2="308.98" stroke="#8a8a8a" stroke-width="0.75" />
<line x1="189.2" y1="308.98" x2="191" y2="308.98" stroke="#555" stroke-width="0.7" />
<line x1="199.45" y1="312.25" x2="199.45" y2="310.68" stroke="#8a8a8a" stroke-width="0.75" />
<line x1="198.55" y1="310.68" x2="200.35" y2="310.68" stroke="#555" stroke-width="0.7" />
<line x1="211.78" y1="314.88" x2="211.78" y2="313.56" stroke="#8a8a8a" stroke-width="0.75" />
<line x1="210.88" y1="313.56" x2="212.68" y2="313.56" stroke="#555" stroke-width="0.7" />
<line x1="220.28" y1="315.27" x2="220.28" y2="313.96" stroke="#8a8a8a" stroke-width="0.75" />
<line x1="219.38" y1="313.96" x2="221.18" y2="313.96" stroke="#555" stroke-width="0.7" />
<line x1="228.35" y1="315.27" x2="228.35" y2="313.96" stroke="#8a8a8a" stroke-width="0.75" />
<line x1="227.45" y1="313.96" x2="229.25" y2="313.96" stroke="#555" stroke-width="0.7" />
<line x1="241.95" y1="313.56" x2="241.95" y2="312.25" stroke="#8a8a8a" stroke-width="0.75" />
<line x1="241.05" y1="312.25" x2="242.85" y2="312.25" stroke="#555" stroke-width="0.7" />
<path d="M32.85 309.63 L49 307.41 L61.75 304.26 L70.68 303.09 L79.18 299.81 L96.6 300.6 L109.35 303.61 L121.67 306.75 L130.6 309.5 L138.67 308.85 L152.28 302.82 L160.78 298.89 L169.7 294.31 L182.03 305.44 L190.1 310.94 L199.45 312.25 L211.78 314.88 L220.28 315.27 L228.35 315.27 L241.95 313.56" fill="none" stroke="#f0b020" stroke-width="1.5" stroke-linejoin="round"/>
<circle cx="32.85" cy="309.63" r="2.5" fill="#f5c030" stroke="#c07a10" stroke-width="0.5"/>
<circle cx="49" cy="307.41" r="2.5" fill="#f5c030" stroke="#c07a10" stroke-width="0.5"/>
<circle cx="61.75" cy="304.26" r="2.5" fill="#f5c030" stroke="#c07a10" stroke-width="0.5"/>
<circle cx="70.68" cy="303.09" r="2.5" fill="#f5c030" stroke="#c07a10" stroke-width="0.5"/>
<circle cx="79.18" cy="299.81" r="2.5" fill="#f5c030" stroke="#c07a10" stroke-width="0.5"/>
<circle cx="96.6" cy="300.6" r="2.5" fill="#f5c030" stroke="#c07a10" stroke-width="0.5"/>
<circle cx="109.35" cy="303.61" r="2.5" fill="#f5c030" stroke="#c07a10" stroke-width="0.5"/>
<circle cx="121.67" cy="306.75" r="2.5" fill="#f5c030" stroke="#c07a10" stroke-width="0.5"/>
<circle cx="130.6" cy="309.5" r="2.5" fill="#f5c030" stroke="#c07a10" stroke-width="0.5"/>
<circle cx="138.67" cy="308.85" r="2.5" fill="#f5c030" stroke="#c07a10" stroke-width="0.5"/>
<circle cx="152.28" cy="302.82" r="2.5" fill="#f5c030" stroke="#c07a10" stroke-width="0.5"/>
<circle cx="160.78" cy="298.89" r="2.5" fill="#f5c030" stroke="#c07a10" stroke-width="0.5"/>
<circle cx="169.7" cy="294.31" r="2.5" fill="#f5c030" stroke="#c07a10" stroke-width="0.5"/>
<circle cx="182.03" cy="305.44" r="2.5" fill="#f5c030" stroke="#c07a10" stroke-width="0.5"/>
<circle cx="190.1" cy="310.94" r="2.5" fill="#f5c030" stroke="#c07a10" stroke-width="0.5"/>
<circle cx="199.45" cy="312.25" r="2.5" fill="#f5c030" stroke="#c07a10" stroke-width="0.5"/>
<circle cx="211.78" cy="314.88" r="2.5" fill="#f5c030" stroke="#c07a10" stroke-width="0.5"/>
<circle cx="220.28" cy="315.27" r="2.5" fill="#f5c030" stroke="#c07a10" stroke-width="0.5"/>
<circle cx="228.35" cy="315.27" r="2.5" fill="#f5c030" stroke="#c07a10" stroke-width="0.5"/>
<circle cx="241.95" cy="313.56" r="2.5" fill="#f5c030" stroke="#c07a10" stroke-width="0.5"/>
<line x1="32.85" y1="309.63" x2="32.85" y2="308.98" stroke="#8a8a8a" stroke-width="0.75" />
<line x1="31.95" y1="308.98" x2="33.75" y2="308.98" stroke="#555" stroke-width="0.7" />
<line x1="49" y1="308.72" x2="49" y2="307.41" stroke="#8a8a8a" stroke-width="0.75" />
<line x1="48.1" y1="307.41" x2="49.9" y2="307.41" stroke="#555" stroke-width="0.7" />
<line x1="61.75" y1="304.26" x2="61.75" y2="302.95" stroke="#8a8a8a" stroke-width="0.75" />
<line x1="60.85" y1="302.95" x2="62.65" y2="302.95" stroke="#555" stroke-width="0.7" />
<line x1="70.68" y1="303.09" x2="70.68" y2="301.51" stroke="#8a8a8a" stroke-width="0.75" />
<line x1="69.78" y1="301.51" x2="71.58" y2="301.51" stroke="#555" stroke-width="0.7" />
<line x1="79.18" y1="300.07" x2="79.18" y2="298.5" stroke="#8a8a8a" stroke-width="0.75" />
<line x1="78.28" y1="298.5" x2="80.08" y2="298.5" stroke="#555" stroke-width="0.7" />
<line x1="96.6" y1="310.03" x2="96.6" y2="308.06" stroke="#8a8a8a" stroke-width="0.75" />
<line x1="95.7" y1="308.06" x2="97.5" y2="308.06" stroke="#555" stroke-width="0.7" />
<line x1="109.35" y1="311.73" x2="109.35" y2="309.77" stroke="#8a8a8a" stroke-width="0.75" />
<line x1="108.45" y1="309.77" x2="110.25" y2="309.77" stroke="#555" stroke-width="0.7" />
<line x1="121.67" y1="313.04" x2="121.67" y2="311.08" stroke="#8a8a8a" stroke-width="0.75" />
<line x1="120.77" y1="311.08" x2="122.57" y2="311.08" stroke="#555" stroke-width="0.7" />
<line x1="130.6" y1="310.94" x2="130.6" y2="308.98" stroke="#8a8a8a" stroke-width="0.75" />
<line x1="129.7" y1="308.98" x2="131.5" y2="308.98" stroke="#555" stroke-width="0.7" />
<line x1="138.67" y1="310.94" x2="138.67" y2="308.98" stroke="#8a8a8a" stroke-width="0.75" />
<line x1="137.77" y1="308.98" x2="139.57" y2="308.98" stroke="#555" stroke-width="0.7" />
<line x1="152.28" y1="306.36" x2="152.28" y2="304" stroke="#8a8a8a" stroke-width="0.75" />
<line x1="151.38" y1="304" x2="153.18" y2="304" stroke="#555" stroke-width="0.7" />
<line x1="160.78" y1="303.48" x2="160.78" y2="301.12" stroke="#8a8a8a" stroke-width="0.75" />
<line x1="159.88" y1="301.12" x2="161.68" y2="301.12" stroke="#555" stroke-width="0.7" />
<line x1="169.7" y1="298.5" x2="169.7" y2="296.14" stroke="#8a8a8a" stroke-width="0.75" />
<line x1="168.8" y1="296.14" x2="170.6" y2="296.14" stroke="#555" stroke-width="0.7" />
<line x1="182.03" y1="303.48" x2="182.03" y2="301.51" stroke="#8a8a8a" stroke-width="0.75" />
<line x1="181.12" y1="301.51" x2="182.93" y2="301.51" stroke="#555" stroke-width="0.7" />
<line x1="190.1" y1="308.19" x2="190.1" y2="306.23" stroke="#8a8a8a" stroke-width="0.75" />
<line x1="189.2" y1="306.23" x2="191" y2="306.23" stroke="#555" stroke-width="0.7" />
<line x1="199.45" y1="311.6" x2="199.45" y2="310.03" stroke="#8a8a8a" stroke-width="0.75" />
<line x1="198.55" y1="310.03" x2="200.35" y2="310.03" stroke="#555" stroke-width="0.7" />
<line x1="211.78" y1="315.27" x2="211.78" y2="313.96" stroke="#8a8a8a" stroke-width="0.75" />
<line x1="210.88" y1="313.96" x2="212.68" y2="313.96" stroke="#555" stroke-width="0.7" />
<line x1="220.28" y1="315.79" x2="220.28" y2="314.48" stroke="#8a8a8a" stroke-width="0.75" />
<line x1="219.38" y1="314.48" x2="221.18" y2="314.48" stroke="#555" stroke-width="0.7" />
<line x1="228.35" y1="315.27" x2="228.35" y2="313.96" stroke="#8a8a8a" stroke-width="0.75" />
<line x1="227.45" y1="313.96" x2="229.25" y2="313.96" stroke="#555" stroke-width="0.7" />
<line x1="241.95" y1="313.56" x2="241.95" y2="312.25" stroke="#8a8a8a" stroke-width="0.75" />
<line x1="241.05" y1="312.25" x2="242.85" y2="312.25" stroke="#555" stroke-width="0.7" />
<path d="M32.85 309.63 L49 308.72 L61.75 304.26 L70.68 303.09 L79.18 300.07 L96.6 310.03 L109.35 311.73 L121.67 313.04 L130.6 310.94 L138.67 310.94 L152.28 306.36 L160.78 303.48 L169.7 298.5 L182.03 303.48 L190.1 308.19 L199.45 311.6 L211.78 315.27 L220.28 315.79 L228.35 315.27 L241.95 313.56" fill="none" stroke="#d02030" stroke-width="1.6" stroke-linejoin="round"/>
<polygon points="32.85,307.11 30.55,311.47 35.15,311.47" fill="#c81e2a" stroke="#7a0a10" stroke-width="0.4"/>
<polygon points="49,306.19 46.7,310.56 51.3,310.56" fill="#c81e2a" stroke="#7a0a10" stroke-width="0.4"/>
<polygon points="61.75,301.73 59.45,306.1 64.05,306.1" fill="#c81e2a" stroke="#7a0a10" stroke-width="0.4"/>
<polygon points="70.68,300.56 68.38,304.93 72.98,304.93" fill="#c81e2a" stroke="#7a0a10" stroke-width="0.4"/>
<polygon points="79.18,297.54 76.88,301.91 81.48,301.91" fill="#c81e2a" stroke="#7a0a10" stroke-width="0.4"/>
<polygon points="96.6,307.5 94.3,311.87 98.9,311.87" fill="#c81e2a" stroke="#7a0a10" stroke-width="0.4"/>
<polygon points="109.35,309.2 107.05,313.57 111.65,313.57" fill="#c81e2a" stroke="#7a0a10" stroke-width="0.4"/>
<polygon points="121.67,310.51 119.37,314.88 123.97,314.88" fill="#c81e2a" stroke="#7a0a10" stroke-width="0.4"/>
<polygon points="130.6,308.42 128.3,312.78 132.9,312.78" fill="#c81e2a" stroke="#7a0a10" stroke-width="0.4"/>
<polygon points="138.67,308.42 136.37,312.78 140.97,312.78" fill="#c81e2a" stroke="#7a0a10" stroke-width="0.4"/>
<polygon points="152.28,303.83 149.97,308.2 154.58,308.2" fill="#c81e2a" stroke="#7a0a10" stroke-width="0.4"/>
<polygon points="160.78,300.95 158.47,305.32 163.08,305.32" fill="#c81e2a" stroke="#7a0a10" stroke-width="0.4"/>
<polygon points="169.7,295.97 167.4,300.34 172,300.34" fill="#c81e2a" stroke="#7a0a10" stroke-width="0.4"/>
<polygon points="182.03,300.95 179.72,305.32 184.33,305.32" fill="#c81e2a" stroke="#7a0a10" stroke-width="0.4"/>
<polygon points="190.1,305.66 187.8,310.03 192.4,310.03" fill="#c81e2a" stroke="#7a0a10" stroke-width="0.4"/>
<polygon points="199.45,309.07 197.15,313.44 201.75,313.44" fill="#c81e2a" stroke="#7a0a10" stroke-width="0.4"/>
<polygon points="211.78,312.74 209.47,317.11 214.08,317.11" fill="#c81e2a" stroke="#7a0a10" stroke-width="0.4"/>
<polygon points="220.28,313.26 217.97,317.63 222.58,317.63" fill="#c81e2a" stroke="#7a0a10" stroke-width="0.4"/>
<polygon points="228.35,312.74 226.05,317.11 230.65,317.11" fill="#c81e2a" stroke="#7a0a10" stroke-width="0.4"/>
<polygon points="241.95,311.04 239.65,315.4 244.25,315.4" fill="#c81e2a" stroke="#7a0a10" stroke-width="0.4"/>
<line x1="32.85" y1="309.63" x2="32.85" y2="308.98" stroke="#8a8a8a" stroke-width="0.75" />
<line x1="31.95" y1="308.98" x2="33.75" y2="308.98" stroke="#555" stroke-width="0.7" />
<line x1="49" y1="309.24" x2="49" y2="307.93" stroke="#8a8a8a" stroke-width="0.75" />
<line x1="48.1" y1="307.93" x2="49.9" y2="307.93" stroke="#555" stroke-width="0.7" />
<line x1="61.75" y1="304.26" x2="61.75" y2="302.95" stroke="#8a8a8a" stroke-width="0.75" />
<line x1="60.85" y1="302.95" x2="62.65" y2="302.95" stroke="#555" stroke-width="0.7" />
<line x1="70.68" y1="303.09" x2="70.68" y2="301.51" stroke="#8a8a8a" stroke-width="0.75" />
<line x1="69.78" y1="301.51" x2="71.58" y2="301.51" stroke="#555" stroke-width="0.7" />
<line x1="79.18" y1="300.07" x2="79.18" y2="298.5" stroke="#8a8a8a" stroke-width="0.75" />
<line x1="78.28" y1="298.5" x2="80.08" y2="298.5" stroke="#555" stroke-width="0.7" />
<line x1="96.6" y1="314.22" x2="96.6" y2="312.26" stroke="#8a8a8a" stroke-width="0.75" />
<line x1="95.7" y1="312.26" x2="97.5" y2="312.26" stroke="#555" stroke-width="0.7" />
<line x1="109.35" y1="316.71" x2="109.35" y2="314.74" stroke="#8a8a8a" stroke-width="0.75" />
<line x1="108.45" y1="314.74" x2="110.25" y2="314.74" stroke="#555" stroke-width="0.7" />
<line x1="121.67" y1="318.41" x2="121.67" y2="316.45" stroke="#8a8a8a" stroke-width="0.75" />
<line x1="120.77" y1="316.45" x2="122.57" y2="316.45" stroke="#555" stroke-width="0.7" />
<line x1="130.6" y1="318.94" x2="130.6" y2="316.97" stroke="#8a8a8a" stroke-width="0.75" />
<line x1="129.7" y1="316.97" x2="131.5" y2="316.97" stroke="#555" stroke-width="0.7" />
<line x1="138.67" y1="317.5" x2="138.67" y2="315.53" stroke="#8a8a8a" stroke-width="0.75" />
<line x1="137.77" y1="315.53" x2="139.57" y2="315.53" stroke="#555" stroke-width="0.7" />
<line x1="152.28" y1="310.94" x2="152.28" y2="308.59" stroke="#8a8a8a" stroke-width="0.75" />
<line x1="151.38" y1="308.59" x2="153.18" y2="308.59" stroke="#555" stroke-width="0.7" />
<line x1="160.78" y1="306.88" x2="160.78" y2="304.53" stroke="#8a8a8a" stroke-width="0.75" />
<line x1="159.88" y1="304.53" x2="161.68" y2="304.53" stroke="#555" stroke-width="0.7" />
<line x1="169.7" y1="300.2" x2="169.7" y2="297.85" stroke="#8a8a8a" stroke-width="0.75" />
<line x1="168.8" y1="297.85" x2="170.6" y2="297.85" stroke="#555" stroke-width="0.7" />
<line x1="182.03" y1="305.44" x2="182.03" y2="303.48" stroke="#8a8a8a" stroke-width="0.75" />
<line x1="181.12" y1="303.48" x2="182.93" y2="303.48" stroke="#555" stroke-width="0.7" />
<line x1="190.1" y1="309.5" x2="190.1" y2="307.54" stroke="#8a8a8a" stroke-width="0.75" />
<line x1="189.2" y1="307.54" x2="191" y2="307.54" stroke="#555" stroke-width="0.7" />
<line x1="199.45" y1="312.91" x2="199.45" y2="311.34" stroke="#8a8a8a" stroke-width="0.75" />
<line x1="198.55" y1="311.34" x2="200.35" y2="311.34" stroke="#555" stroke-width="0.7" />
<line x1="211.78" y1="315.53" x2="211.78" y2="314.22" stroke="#8a8a8a" stroke-width="0.75" />
<line x1="210.88" y1="314.22" x2="212.68" y2="314.22" stroke="#555" stroke-width="0.7" />
<line x1="220.28" y1="316.19" x2="220.28" y2="314.88" stroke="#8a8a8a" stroke-width="0.75" />
<line x1="219.38" y1="314.88" x2="221.18" y2="314.88" stroke="#555" stroke-width="0.7" />
<line x1="228.35" y1="315.79" x2="228.35" y2="314.48" stroke="#8a8a8a" stroke-width="0.75" />
<line x1="227.45" y1="314.48" x2="229.25" y2="314.48" stroke="#555" stroke-width="0.7" />
<line x1="241.95" y1="313.56" x2="241.95" y2="312.25" stroke="#8a8a8a" stroke-width="0.75" />
<line x1="241.05" y1="312.25" x2="242.85" y2="312.25" stroke="#555" stroke-width="0.7" />
<path d="M32.85 309.63 L49 309.24 L61.75 304.26 L70.68 303.09 L79.18 300.07 L96.6 314.22 L109.35 316.71 L121.67 318.41 L130.6 318.94 L138.67 317.5 L152.28 310.94 L160.78 306.88 L169.7 300.2 L182.03 305.44 L190.1 309.5 L199.45 312.91 L211.78 315.53 L220.28 316.19 L228.35 315.79 L241.95 313.56" fill="none" stroke="#c01e6a" stroke-width="1.6" stroke-linejoin="round"/>
<rect x="30.65" y="307.44" width="4.4" height="4.4" fill="#c8287a" stroke="#7a1050" stroke-width="0.4"/>
<rect x="46.8" y="307.04" width="4.4" height="4.4" fill="#c8287a" stroke="#7a1050" stroke-width="0.4"/>
<rect x="59.55" y="302.06" width="4.4" height="4.4" fill="#c8287a" stroke="#7a1050" stroke-width="0.4"/>
<rect x="68.48" y="300.89" width="4.4" height="4.4" fill="#c8287a" stroke="#7a1050" stroke-width="0.4"/>
<rect x="76.98" y="297.87" width="4.4" height="4.4" fill="#c8287a" stroke="#7a1050" stroke-width="0.4"/>
<rect x="94.4" y="312.02" width="4.4" height="4.4" fill="#c8287a" stroke="#7a1050" stroke-width="0.4"/>
<rect x="107.15" y="314.51" width="4.4" height="4.4" fill="#c8287a" stroke="#7a1050" stroke-width="0.4"/>
<rect x="119.47" y="316.21" width="4.4" height="4.4" fill="#c8287a" stroke="#7a1050" stroke-width="0.4"/>
<rect x="128.4" y="316.74" width="4.4" height="4.4" fill="#c8287a" stroke="#7a1050" stroke-width="0.4"/>
<rect x="136.47" y="315.3" width="4.4" height="4.4" fill="#c8287a" stroke="#7a1050" stroke-width="0.4"/>
<rect x="150.08" y="308.75" width="4.4" height="4.4" fill="#c8287a" stroke="#7a1050" stroke-width="0.4"/>
<rect x="158.58" y="304.68" width="4.4" height="4.4" fill="#c8287a" stroke="#7a1050" stroke-width="0.4"/>
<rect x="167.5" y="298" width="4.4" height="4.4" fill="#c8287a" stroke="#7a1050" stroke-width="0.4"/>
<rect x="179.83" y="303.24" width="4.4" height="4.4" fill="#c8287a" stroke="#7a1050" stroke-width="0.4"/>
<rect x="187.9" y="307.3" width="4.4" height="4.4" fill="#c8287a" stroke="#7a1050" stroke-width="0.4"/>
<rect x="197.25" y="310.71" width="4.4" height="4.4" fill="#c8287a" stroke="#7a1050" stroke-width="0.4"/>
<rect x="209.58" y="313.33" width="4.4" height="4.4" fill="#c8287a" stroke="#7a1050" stroke-width="0.4"/>
<rect x="218.08" y="313.99" width="4.4" height="4.4" fill="#c8287a" stroke="#7a1050" stroke-width="0.4"/>
<rect x="226.15" y="313.59" width="4.4" height="4.4" fill="#c8287a" stroke="#7a1050" stroke-width="0.4"/>
<rect x="239.75" y="311.37" width="4.4" height="4.4" fill="#c8287a" stroke="#7a1050" stroke-width="0.4"/>
<line x1="31.1" y1="200.6" x2="40.9" y2="200.6" stroke="#6a9fd8" stroke-width="1.7" stroke-dasharray="2,1"/>
<circle cx="36" cy="200.6" r="1.95" fill="#b8d4f0" stroke="#6a9fd8" stroke-width="0.5"/>
<text x="41.5" y="202.65" font-size="5.7" text-anchor="start" font-weight="bold" fill="#000" textLength="18.5" lengthAdjust="spacingAndGlyphs" >Vehicle</text>
<line x1="31.1" y1="208.2" x2="40.9" y2="208.2" stroke="#d02030" stroke-width="1.7"/>
<polygon points="36,206.2 34.18,209.66 37.82,209.66" fill="#c81e2a" stroke="#7a0a10" stroke-width="0.5"/>
<text x="41.5" y="210.25" font-size="5.7" text-anchor="start" font-weight="bold" fill="#000" textLength="99" lengthAdjust="spacingAndGlyphs" >G1: OMTX705 (20 mg/kg; twice/w; i.p.)</text>
<line x1="31.1" y1="215.4" x2="40.9" y2="215.4" stroke="#b5651d" stroke-width="1.7"/>
<polygon points="36,213.53 37.87,215.4 36,217.27 34.13,215.4" fill="#c8722a" stroke="#7a3a10" stroke-width="0.5"/>
<text x="41.5" y="217.45" font-size="5.7" text-anchor="start" font-weight="bold" fill="#000" textLength="97" lengthAdjust="spacingAndGlyphs" >G2: OMTX705 (20 mg/kg; once/w; i.p.)</text>
<line x1="31.1" y1="222.4" x2="40.9" y2="222.4" stroke="#f0b020" stroke-width="1.7"/>
<circle cx="36" cy="222.4" r="2.08" fill="#f5c030" stroke="#c07a10" stroke-width="0.5"/>
<text x="41.5" y="224.45" font-size="5.7" text-anchor="start" font-weight="bold" fill="#000" textLength="96" lengthAdjust="spacingAndGlyphs" >G3: OMTX705 (20 mg/kg; once/w; i.v.)</text>
<line x1="31.1" y1="229.6" x2="40.9" y2="229.6" stroke="#c01e6a" stroke-width="1.7"/>
<rect x="34.18" y="227.78" width="3.64" height="3.64" fill="#c8287a" stroke="#7a1050" stroke-width="0.5"/>
<text x="41.5" y="231.65" font-size="5.7" text-anchor="start" font-weight="bold" fill="#000" textLength="96" lengthAdjust="spacingAndGlyphs" >G4: OMTX705 (40 mg/kg; once/w; i.p.)</text>
<text x="96.4" y="254.4" font-size="5.6" text-anchor="middle" font-weight="bold" fill="#000" textLength="37.2" lengthAdjust="spacingAndGlyphs" >End of treatment</text>
<text x="96" y="261.9" font-size="5.6" text-anchor="middle" font-weight="bold" fill="#000" textLength="26.3" lengthAdjust="spacingAndGlyphs" >(G1 and G4)</text>
<line x1="97.1" y1="264.8" x2="97.1" y2="333.38" stroke="#000" stroke-width="2.2" />
<polygon points="94.21,332.36 99.99,332.36 97.1,338.1" fill="#000"/>
<text x="160.9" y="233.4" font-size="5.6" text-anchor="middle" font-weight="bold" fill="#000" textLength="38" lengthAdjust="spacingAndGlyphs" >Treatment restart</text>
<text x="160.9" y="240.6" font-size="5.6" text-anchor="middle" font-weight="bold" fill="#000" textLength="26.3" lengthAdjust="spacingAndGlyphs" >(G1 and G4)</text>
<line x1="156.9" y1="243.2" x2="157.4" y2="333.38" stroke="#000" stroke-width="2.2" />
<polygon points="154.51,332.36 160.29,332.36 157.4,338.1" fill="#000"/>
<text x="182.4" y="211.6" font-size="5.6" text-anchor="middle" font-weight="bold" fill="#000" textLength="37.2" lengthAdjust="spacingAndGlyphs" >End of treatment</text>
<text x="182.7" y="219.1" font-size="5.6" text-anchor="middle" font-weight="bold" fill="#000" textLength="26.3" lengthAdjust="spacingAndGlyphs" >(G1 and G4)</text>
<line x1="182.3" y1="221.8" x2="182.6" y2="333.38" stroke="#000" stroke-width="2.2" />
<polygon points="179.71,332.36 185.49,332.36 182.6,338.1" fill="#000"/>
<text x="258.4" y="190" font-size="12.2" text-anchor="start" font-weight="bold" fill="#000" >D</text>
<rect x="374.5" y="187.5" width="44.2" height="13.5" fill="#f8f8f8" stroke="none" stroke-width="0"/>
<text x="397.1" y="198" font-size="9.9" text-anchor="middle" font-weight="bold" fill="#000" textLength="38.2" lengthAdjust="spacingAndGlyphs" >Lung 024</text>
<line x1="291.2" y1="337.9" x2="291.2" y2="201" stroke="#7a7a7a" stroke-width="1.2" />
<line x1="291.2" y1="337.9" x2="517" y2="337.9" stroke="#7a7a7a" stroke-width="1.1" />
<line x1="289.6" y1="337.9" x2="291.2" y2="337.9" stroke="#7a7a7a" stroke-width="0.6" />
<text x="285.6" y="339.81" font-size="5.3" text-anchor="end" font-weight="bold" fill="#262626" >0</text>
<line x1="289.6" y1="320.95" x2="291.2" y2="320.95" stroke="#7a7a7a" stroke-width="0.6" />
<text x="285.6" y="322.86" font-size="5.3" text-anchor="end" font-weight="bold" fill="#262626" >100</text>
<line x1="289.6" y1="304" x2="291.2" y2="304" stroke="#7a7a7a" stroke-width="0.6" />
<text x="285.6" y="305.91" font-size="5.3" text-anchor="end" font-weight="bold" fill="#262626" >200</text>
<line x1="289.6" y1="287.05" x2="291.2" y2="287.05" stroke="#7a7a7a" stroke-width="0.6" />
<text x="285.6" y="288.96" font-size="5.3" text-anchor="end" font-weight="bold" fill="#262626" >300</text>
<line x1="289.6" y1="270.1" x2="291.2" y2="270.1" stroke="#7a7a7a" stroke-width="0.6" />
<text x="285.6" y="272.01" font-size="5.3" text-anchor="end" font-weight="bold" fill="#262626" >400</text>
<line x1="289.6" y1="253.15" x2="291.2" y2="253.15" stroke="#7a7a7a" stroke-width="0.6" />
<text x="285.6" y="255.06" font-size="5.3" text-anchor="end" font-weight="bold" fill="#262626" >500</text>
<line x1="289.6" y1="236.2" x2="291.2" y2="236.2" stroke="#7a7a7a" stroke-width="0.6" />
<text x="285.6" y="238.11" font-size="5.3" text-anchor="end" font-weight="bold" fill="#262626" >600</text>
<line x1="289.6" y1="219.25" x2="291.2" y2="219.25" stroke="#7a7a7a" stroke-width="0.6" />
<text x="285.6" y="221.16" font-size="5.3" text-anchor="end" font-weight="bold" fill="#262626" >700</text>
<line x1="289.6" y1="202.3" x2="291.2" y2="202.3" stroke="#7a7a7a" stroke-width="0.6" />
<text x="285.6" y="204.21" font-size="5.3" text-anchor="end" font-weight="bold" fill="#262626" >800</text>
<line x1="291.2" y1="337.9" x2="291.2" y2="339.3" stroke="#5a5a5a" stroke-width="0.55" />
<line x1="296.54" y1="337.9" x2="296.54" y2="339.3" stroke="#5a5a5a" stroke-width="0.55" />
<line x1="301.88" y1="337.9" x2="301.88" y2="339.3" stroke="#5a5a5a" stroke-width="0.55" />
<line x1="307.22" y1="337.9" x2="307.22" y2="339.3" stroke="#5a5a5a" stroke-width="0.55" />
<line x1="312.56" y1="337.9" x2="312.56" y2="339.3" stroke="#5a5a5a" stroke-width="0.55" />
<line x1="317.9" y1="337.9" x2="317.9" y2="339.3" stroke="#5a5a5a" stroke-width="0.55" />
<line x1="323.24" y1="337.9" x2="323.24" y2="339.3" stroke="#5a5a5a" stroke-width="0.55" />
<line x1="328.58" y1="337.9" x2="328.58" y2="339.3" stroke="#5a5a5a" stroke-width="0.55" />
<line x1="333.92" y1="337.9" x2="333.92" y2="339.3" stroke="#5a5a5a" stroke-width="0.55" />
<line x1="339.26" y1="337.9" x2="339.26" y2="339.3" stroke="#5a5a5a" stroke-width="0.55" />
<line x1="344.6" y1="337.9" x2="344.6" y2="339.3" stroke="#5a5a5a" stroke-width="0.55" />
<line x1="349.94" y1="337.9" x2="349.94" y2="339.3" stroke="#5a5a5a" stroke-width="0.55" />
<line x1="355.28" y1="337.9" x2="355.28" y2="339.3" stroke="#5a5a5a" stroke-width="0.55" />
<line x1="360.62" y1="337.9" x2="360.62" y2="339.3" stroke="#5a5a5a" stroke-width="0.55" />
<line x1="365.96" y1="337.9" x2="365.96" y2="339.3" stroke="#5a5a5a" stroke-width="0.55" />
<line x1="371.3" y1="337.9" x2="371.3" y2="339.3" stroke="#5a5a5a" stroke-width="0.55" />
<line x1="376.64" y1="337.9" x2="376.64" y2="339.3" stroke="#5a5a5a" stroke-width="0.55" />
<line x1="381.98" y1="337.9" x2="381.98" y2="339.3" stroke="#5a5a5a" stroke-width="0.55" />
<line x1="387.32" y1="337.9" x2="387.32" y2="339.3" stroke="#5a5a5a" stroke-width="0.55" />
<line x1="392.66" y1="337.9" x2="392.66" y2="339.3" stroke="#5a5a5a" stroke-width="0.55" />
<line x1="398" y1="337.9" x2="398" y2="339.3" stroke="#5a5a5a" stroke-width="0.55" />
<line x1="403.34" y1="337.9" x2="403.34" y2="339.3" stroke="#5a5a5a" stroke-width="0.55" />
<line x1="408.68" y1="337.9" x2="408.68" y2="339.3" stroke="#5a5a5a" stroke-width="0.55" />
<line x1="414.02" y1="337.9" x2="414.02" y2="339.3" stroke="#5a5a5a" stroke-width="0.55" />
<line x1="419.36" y1="337.9" x2="419.36" y2="339.3" stroke="#5a5a5a" stroke-width="0.55" />
<line x1="424.7" y1="337.9" x2="424.7" y2="339.3" stroke="#5a5a5a" stroke-width="0.55" />
<line x1="430.04" y1="337.9" x2="430.04" y2="339.3" stroke="#5a5a5a" stroke-width="0.55" />
<line x1="435.38" y1="337.9" x2="435.38" y2="339.3" stroke="#5a5a5a" stroke-width="0.55" />
<line x1="440.72" y1="337.9" x2="440.72" y2="339.3" stroke="#5a5a5a" stroke-width="0.55" />
<line x1="446.06" y1="337.9" x2="446.06" y2="339.3" stroke="#5a5a5a" stroke-width="0.55" />
<line x1="451.4" y1="337.9" x2="451.4" y2="339.3" stroke="#5a5a5a" stroke-width="0.55" />
<line x1="456.74" y1="337.9" x2="456.74" y2="339.3" stroke="#5a5a5a" stroke-width="0.55" />
<line x1="462.08" y1="337.9" x2="462.08" y2="339.3" stroke="#5a5a5a" stroke-width="0.55" />
<line x1="467.42" y1="337.9" x2="467.42" y2="339.3" stroke="#5a5a5a" stroke-width="0.55" />
<line x1="472.76" y1="337.9" x2="472.76" y2="339.3" stroke="#5a5a5a" stroke-width="0.55" />
<line x1="478.1" y1="337.9" x2="478.1" y2="339.3" stroke="#5a5a5a" stroke-width="0.55" />
<line x1="483.44" y1="337.9" x2="483.44" y2="339.3" stroke="#5a5a5a" stroke-width="0.55" />
<line x1="488.78" y1="337.9" x2="488.78" y2="339.3" stroke="#5a5a5a" stroke-width="0.55" />
<line x1="494.12" y1="337.9" x2="494.12" y2="339.3" stroke="#5a5a5a" stroke-width="0.55" />
<line x1="499.46" y1="337.9" x2="499.46" y2="339.3" stroke="#5a5a5a" stroke-width="0.55" />
<line x1="504.8" y1="337.9" x2="504.8" y2="339.3" stroke="#5a5a5a" stroke-width="0.55" />
<line x1="510.14" y1="337.9" x2="510.14" y2="339.3" stroke="#5a5a5a" stroke-width="0.55" />
<line x1="515.48" y1="337.9" x2="515.48" y2="339.3" stroke="#5a5a5a" stroke-width="0.55" />
<line x1="291.2" y1="336.6" x2="291.2" y2="339.5" stroke="#7a7a7a" stroke-width="0.6" />
<text x="291.2" y="347.6" font-size="5" text-anchor="middle" font-weight="bold" fill="#262626" >0</text>
<line x1="328.58" y1="336.6" x2="328.58" y2="339.5" stroke="#7a7a7a" stroke-width="0.6" />
<text x="328.58" y="347.6" font-size="5" text-anchor="middle" font-weight="bold" fill="#262626" >7</text>
<line x1="365.96" y1="336.6" x2="365.96" y2="339.5" stroke="#7a7a7a" stroke-width="0.6" />
<text x="365.96" y="347.6" font-size="5" text-anchor="middle" font-weight="bold" fill="#262626" >14</text>
<line x1="403.34" y1="336.6" x2="403.34" y2="339.5" stroke="#7a7a7a" stroke-width="0.6" />
<text x="403.34" y="347.6" font-size="5" text-anchor="middle" font-weight="bold" fill="#262626" >21</text>
<line x1="446.06" y1="336.6" x2="446.06" y2="339.5" stroke="#7a7a7a" stroke-width="0.6" />
<line x1="478.1" y1="336.6" x2="478.1" y2="339.5" stroke="#7a7a7a" stroke-width="0.6" />
<text x="478.1" y="347.6" font-size="5" text-anchor="middle" font-weight="bold" fill="#262626" >35</text>
<line x1="515.48" y1="336.6" x2="515.48" y2="339.5" stroke="#7a7a7a" stroke-width="0.6" />
<text x="515.48" y="347.6" font-size="5" text-anchor="middle" font-weight="bold" fill="#262626" >42</text>
<text x="446.1" y="348.4" font-size="7.8" text-anchor="middle" font-weight="bold" fill="#000" >29</text>
<text x="269" y="276.5" font-size="8" text-anchor="middle" font-weight="bold" fill="#000" textLength="126.4" lengthAdjust="spacingAndGlyphs" transform="rotate(-90 269 276.5)" >Tumor volume (mm<tspan font-size="5.76" dy="-2.88">3</tspan><tspan dy="2.88">, mean ± SEM)</tspan></text>
<text x="404" y="357.8" font-size="7.1" text-anchor="middle" font-weight="bold" fill="#000" textLength="36.3" lengthAdjust="spacingAndGlyphs" >Time (days)</text>
<line x1="296.54" y1="302.14" x2="296.54" y2="298.75" stroke="#8a8a8a" stroke-width="0.75" />
<line x1="295.64" y1="298.75" x2="297.44" y2="298.75" stroke="#555" stroke-width="0.7" />
<line x1="301.88" y1="299.59" x2="301.88" y2="296.2" stroke="#8a8a8a" stroke-width="0.75" />
<line x1="300.98" y1="296.2" x2="302.78" y2="296.2" stroke="#555" stroke-width="0.7" />
<line x1="312.56" y1="297.05" x2="312.56" y2="292.81" stroke="#8a8a8a" stroke-width="0.75" />
<line x1="311.66" y1="292.81" x2="313.46" y2="292.81" stroke="#555" stroke-width="0.7" />
<line x1="328.58" y1="292.47" x2="328.58" y2="287.39" stroke="#8a8a8a" stroke-width="0.75" />
<line x1="327.68" y1="287.39" x2="329.48" y2="287.39" stroke="#555" stroke-width="0.7" />
<line x1="339.26" y1="288.75" x2="339.26" y2="282.81" stroke="#8a8a8a" stroke-width="0.75" />
<line x1="338.36" y1="282.81" x2="340.16" y2="282.81" stroke="#555" stroke-width="0.7" />
<line x1="349.94" y1="284" x2="349.94" y2="277.22" stroke="#8a8a8a" stroke-width="0.75" />
<line x1="349.04" y1="277.22" x2="350.84" y2="277.22" stroke="#555" stroke-width="0.7" />
<line x1="366.49" y1="279.08" x2="366.49" y2="271.46" stroke="#8a8a8a" stroke-width="0.75" />
<line x1="365.59" y1="271.46" x2="367.39" y2="271.46" stroke="#555" stroke-width="0.7" />
<line x1="377.17" y1="275.86" x2="377.17" y2="267.39" stroke="#8a8a8a" stroke-width="0.75" />
<line x1="376.27" y1="267.39" x2="378.07" y2="267.39" stroke="#555" stroke-width="0.7" />
<line x1="387.32" y1="271.96" x2="387.32" y2="261.79" stroke="#8a8a8a" stroke-width="0.75" />
<line x1="386.42" y1="261.79" x2="388.22" y2="261.79" stroke="#555" stroke-width="0.7" />
<line x1="408.68" y1="265.52" x2="408.68" y2="253.66" stroke="#8a8a8a" stroke-width="0.75" />
<line x1="407.78" y1="253.66" x2="409.58" y2="253.66" stroke="#555" stroke-width="0.7" />
<line x1="425.23" y1="255.18" x2="425.23" y2="240.78" stroke="#8a8a8a" stroke-width="0.75" />
<line x1="424.33" y1="240.78" x2="426.13" y2="240.78" stroke="#555" stroke-width="0.7" />
<line x1="440.72" y1="249.59" x2="440.72" y2="231.79" stroke="#8a8a8a" stroke-width="0.75" />
<line x1="439.82" y1="231.79" x2="441.62" y2="231.79" stroke="#555" stroke-width="0.7" />
<line x1="451.4" y1="243.15" x2="451.4" y2="224.5" stroke="#8a8a8a" stroke-width="0.75" />
<line x1="450.5" y1="224.5" x2="452.3" y2="224.5" stroke="#555" stroke-width="0.7" />
<line x1="462.08" y1="236.2" x2="462.08" y2="214.16" stroke="#8a8a8a" stroke-width="0.75" />
<line x1="461.18" y1="214.16" x2="462.98" y2="214.16" stroke="#555" stroke-width="0.7" />
<line x1="478.1" y1="231.96" x2="478.1" y2="209.08" stroke="#8a8a8a" stroke-width="0.75" />
<line x1="477.2" y1="209.08" x2="479" y2="209.08" stroke="#555" stroke-width="0.7" />
<line x1="488.78" y1="227.72" x2="488.78" y2="203.99" stroke="#8a8a8a" stroke-width="0.75" />
<line x1="487.88" y1="203.99" x2="489.68" y2="203.99" stroke="#555" stroke-width="0.7" />
<path d="M296.54 302.14 L301.88 299.59 L312.56 297.05 L328.58 292.47 L339.26 288.75 L349.94 284 L366.49 279.08 L377.17 275.86 L387.32 271.96 L408.68 265.52 L425.23 255.18 L440.72 249.59 L451.4 243.15 L462.08 236.2 L478.1 231.96 L488.78 227.72" fill="none" stroke="#3a6ab0" stroke-width="1.1" stroke-dasharray="3,1.8" stroke-linejoin="round"/>
<circle cx="296.54" cy="302.14" r="2.4" fill="#eaf2fb" stroke="#6a9fd8" stroke-width="0.6"/>
<circle cx="301.88" cy="299.59" r="2.4" fill="#eaf2fb" stroke="#6a9fd8" stroke-width="0.6"/>
<circle cx="312.56" cy="297.05" r="2.4" fill="#eaf2fb" stroke="#6a9fd8" stroke-width="0.6"/>
<circle cx="328.58" cy="292.47" r="2.4" fill="#eaf2fb" stroke="#6a9fd8" stroke-width="0.6"/>
<circle cx="339.26" cy="288.75" r="2.4" fill="#eaf2fb" stroke="#6a9fd8" stroke-width="0.6"/>
<circle cx="349.94" cy="284" r="2.4" fill="#eaf2fb" stroke="#6a9fd8" stroke-width="0.6"/>
<circle cx="366.49" cy="279.08" r="2.4" fill="#eaf2fb" stroke="#6a9fd8" stroke-width="0.6"/>
<circle cx="377.17" cy="275.86" r="2.4" fill="#eaf2fb" stroke="#6a9fd8" stroke-width="0.6"/>
<circle cx="387.32" cy="271.96" r="2.4" fill="#eaf2fb" stroke="#6a9fd8" stroke-width="0.6"/>
<circle cx="408.68" cy="265.52" r="2.4" fill="#eaf2fb" stroke="#6a9fd8" stroke-width="0.6"/>
<circle cx="425.23" cy="255.18" r="2.4" fill="#eaf2fb" stroke="#6a9fd8" stroke-width="0.6"/>
<circle cx="440.72" cy="249.59" r="2.4" fill="#eaf2fb" stroke="#6a9fd8" stroke-width="0.6"/>
<circle cx="451.4" cy="243.15" r="2.4" fill="#eaf2fb" stroke="#6a9fd8" stroke-width="0.6"/>
<circle cx="462.08" cy="236.2" r="2.4" fill="#eaf2fb" stroke="#6a9fd8" stroke-width="0.6"/>
<circle cx="478.1" cy="231.96" r="2.4" fill="#eaf2fb" stroke="#6a9fd8" stroke-width="0.6"/>
<circle cx="488.78" cy="227.72" r="2.4" fill="#eaf2fb" stroke="#6a9fd8" stroke-width="0.6"/>
<path d="M296.54 302.14 L301.88 299.59 L312.56 297.05 L328.58 293.49 L339.26 289.59 L349.94 286.2 L366.49 284.51 L377.17 283.32 L387.32 281.63 L408.68 279.93 L425.23 275.35 L440.72 273.15 L451.4 271.12 L462.08 269.08 L478.1 267.56 L488.78 265.52" fill="none" stroke="#2fb060" stroke-width="1.6" stroke-linejoin="round"/>
<path d="M295.24 300.84L297.84 303.44M295.24 303.44L297.84 300.84" stroke="#2fb060" stroke-width="0.5" fill="none"/>
<path d="M300.58 298.29L303.18 300.89M300.58 300.89L303.18 298.29" stroke="#2fb060" stroke-width="0.5" fill="none"/>
<path d="M311.26 295.75L313.86 298.35M311.26 298.35L313.86 295.75" stroke="#2fb060" stroke-width="0.5" fill="none"/>
<path d="M327.28 292.19L329.88 294.79M327.28 294.79L329.88 292.19" stroke="#2fb060" stroke-width="0.5" fill="none"/>
<path d="M337.96 288.29L340.56 290.89M337.96 290.89L340.56 288.29" stroke="#2fb060" stroke-width="0.5" fill="none"/>
<path d="M348.64 284.9L351.24 287.5M348.64 287.5L351.24 284.9" stroke="#2fb060" stroke-width="0.5" fill="none"/>
<path d="M365.19 283.21L367.79 285.81M365.19 285.81L367.79 283.21" stroke="#2fb060" stroke-width="0.5" fill="none"/>
<path d="M375.87 282.02L378.47 284.62M375.87 284.62L378.47 282.02" stroke="#2fb060" stroke-width="0.5" fill="none"/>
<path d="M386.02 280.33L388.62 282.93M386.02 282.93L388.62 280.33" stroke="#2fb060" stroke-width="0.5" fill="none"/>
<path d="M407.38 278.63L409.98 281.23M407.38 281.23L409.98 278.63" stroke="#2fb060" stroke-width="0.5" fill="none"/>
<path d="M423.93 274.05L426.53 276.65M423.93 276.65L426.53 274.05" stroke="#2fb060" stroke-width="0.5" fill="none"/>
<path d="M439.42 271.85L442.02 274.45M439.42 274.45L442.02 271.85" stroke="#2fb060" stroke-width="0.5" fill="none"/>
<path d="M450.1 269.82L452.7 272.42M450.1 272.42L452.7 269.82" stroke="#2fb060" stroke-width="0.5" fill="none"/>
<path d="M460.78 267.78L463.38 270.38M460.78 270.38L463.38 267.78" stroke="#2fb060" stroke-width="0.5" fill="none"/>
<path d="M476.8 266.26L479.4 268.86M476.8 268.86L479.4 266.26" stroke="#2fb060" stroke-width="0.5" fill="none"/>
<path d="M487.48 264.22L490.08 266.82M487.48 266.82L490.08 264.22" stroke="#2fb060" stroke-width="0.5" fill="none"/>
<line x1="296.54" y1="302.14" x2="296.54" y2="299.59" stroke="#8a8a8a" stroke-width="0.75" />
<line x1="295.64" y1="299.59" x2="297.44" y2="299.59" stroke="#555" stroke-width="0.7" />
<line x1="301.88" y1="299.59" x2="301.88" y2="297.05" stroke="#8a8a8a" stroke-width="0.75" />
<line x1="300.98" y1="297.05" x2="302.78" y2="297.05" stroke="#555" stroke-width="0.7" />
<line x1="312.56" y1="296.71" x2="312.56" y2="293.32" stroke="#8a8a8a" stroke-width="0.75" />
<line x1="311.66" y1="293.32" x2="313.46" y2="293.32" stroke="#555" stroke-width="0.7" />
<line x1="328.58" y1="292.13" x2="328.58" y2="287.9" stroke="#8a8a8a" stroke-width="0.75" />
<line x1="327.68" y1="287.9" x2="329.48" y2="287.9" stroke="#555" stroke-width="0.7" />
<line x1="339.26" y1="288.41" x2="339.26" y2="284.17" stroke="#8a8a8a" stroke-width="0.75" />
<line x1="338.36" y1="284.17" x2="340.16" y2="284.17" stroke="#555" stroke-width="0.7" />
<line x1="349.94" y1="283.66" x2="349.94" y2="278.57" stroke="#8a8a8a" stroke-width="0.75" />
<line x1="349.04" y1="278.57" x2="350.84" y2="278.57" stroke="#555" stroke-width="0.7" />
<line x1="366.49" y1="279.08" x2="366.49" y2="274" stroke="#8a8a8a" stroke-width="0.75" />
<line x1="365.59" y1="274" x2="367.39" y2="274" stroke="#555" stroke-width="0.7" />
<line x1="377.17" y1="275.86" x2="377.17" y2="269.93" stroke="#8a8a8a" stroke-width="0.75" />
<line x1="376.27" y1="269.93" x2="378.07" y2="269.93" stroke="#555" stroke-width="0.7" />
<line x1="387.32" y1="270.61" x2="387.32" y2="263.83" stroke="#8a8a8a" stroke-width="0.75" />
<line x1="386.42" y1="263.83" x2="388.22" y2="263.83" stroke="#555" stroke-width="0.7" />
<line x1="408.68" y1="265.86" x2="408.68" y2="259.08" stroke="#8a8a8a" stroke-width="0.75" />
<line x1="407.78" y1="259.08" x2="409.58" y2="259.08" stroke="#555" stroke-width="0.7" />
<line x1="425.23" y1="265.52" x2="425.23" y2="258.74" stroke="#8a8a8a" stroke-width="0.75" />
<line x1="424.33" y1="258.74" x2="426.13" y2="258.74" stroke="#555" stroke-width="0.7" />
<line x1="440.72" y1="266.37" x2="440.72" y2="258.74" stroke="#8a8a8a" stroke-width="0.75" />
<line x1="439.82" y1="258.74" x2="441.62" y2="258.74" stroke="#555" stroke-width="0.7" />
<line x1="451.4" y1="268.24" x2="451.4" y2="261.46" stroke="#8a8a8a" stroke-width="0.75" />
<line x1="450.5" y1="261.46" x2="452.3" y2="261.46" stroke="#555" stroke-width="0.7" />
<line x1="462.08" y1="272.47" x2="462.08" y2="264.85" stroke="#8a8a8a" stroke-width="0.75" />
<line x1="461.18" y1="264.85" x2="462.98" y2="264.85" stroke="#555" stroke-width="0.7" />
<line x1="478.1" y1="278.07" x2="478.1" y2="269.59" stroke="#8a8a8a" stroke-width="0.75" />
<line x1="477.2" y1="269.59" x2="479" y2="269.59" stroke="#555" stroke-width="0.7" />
<line x1="488.78" y1="281.46" x2="488.78" y2="273.83" stroke="#8a8a8a" stroke-width="0.75" />
<line x1="487.88" y1="273.83" x2="489.68" y2="273.83" stroke="#555" stroke-width="0.7" />
<path d="M296.54 302.14 L301.88 299.59 L312.56 296.71 L328.58 292.13 L339.26 288.41 L349.94 283.66 L366.49 279.08 L377.17 275.86 L387.32 270.61 L408.68 265.86 L425.23 265.52 L440.72 266.37 L451.4 268.24 L462.08 272.47 L478.1 278.07 L488.78 281.46" fill="none" stroke="#f2d34a" stroke-width="1.5" stroke-linejoin="round"/>
<polygon points="296.54,299.5 294.14,304.06 298.94,304.06" fill="#f2d040" stroke="#7a5a10" stroke-width="0.6"/>
<polygon points="301.88,296.95 299.48,301.51 304.28,301.51" fill="#f2d040" stroke="#7a5a10" stroke-width="0.6"/>
<polygon points="312.56,294.07 310.16,298.63 314.96,298.63" fill="#f2d040" stroke="#7a5a10" stroke-width="0.6"/>
<polygon points="328.58,289.5 326.18,294.06 330.98,294.06" fill="#f2d040" stroke="#7a5a10" stroke-width="0.6"/>
<polygon points="339.26,285.77 336.86,290.33 341.66,290.33" fill="#f2d040" stroke="#7a5a10" stroke-width="0.6"/>
<polygon points="349.94,281.02 347.54,285.58 352.34,285.58" fill="#f2d040" stroke="#7a5a10" stroke-width="0.6"/>
<polygon points="366.49,276.44 364.09,281 368.89,281" fill="#f2d040" stroke="#7a5a10" stroke-width="0.6"/>
<polygon points="377.17,273.22 374.77,277.78 379.57,277.78" fill="#f2d040" stroke="#7a5a10" stroke-width="0.6"/>
<polygon points="387.32,267.97 384.92,272.53 389.72,272.53" fill="#f2d040" stroke="#7a5a10" stroke-width="0.6"/>
<polygon points="408.68,263.22 406.28,267.78 411.08,267.78" fill="#f2d040" stroke="#7a5a10" stroke-width="0.6"/>
<polygon points="425.23,262.88 422.83,267.44 427.63,267.44" fill="#f2d040" stroke="#7a5a10" stroke-width="0.6"/>
<polygon points="440.72,263.73 438.32,268.29 443.12,268.29" fill="#f2d040" stroke="#7a5a10" stroke-width="0.6"/>
<polygon points="451.4,265.6 449,270.16 453.8,270.16" fill="#f2d040" stroke="#7a5a10" stroke-width="0.6"/>
<polygon points="462.08,269.83 459.68,274.39 464.48,274.39" fill="#f2d040" stroke="#7a5a10" stroke-width="0.6"/>
<polygon points="478.1,275.43 475.7,279.99 480.5,279.99" fill="#f2d040" stroke="#7a5a10" stroke-width="0.6"/>
<polygon points="488.78,278.82 486.38,283.38 491.18,283.38" fill="#f2d040" stroke="#7a5a10" stroke-width="0.6"/>
<line x1="296.54" y1="302.14" x2="296.54" y2="300.44" stroke="#8a8a8a" stroke-width="0.75" />
<line x1="295.64" y1="300.44" x2="297.44" y2="300.44" stroke="#555" stroke-width="0.7" />
<line x1="301.88" y1="299.59" x2="301.88" y2="297.9" stroke="#8a8a8a" stroke-width="0.75" />
<line x1="300.98" y1="297.9" x2="302.78" y2="297.9" stroke="#555" stroke-width="0.7" />
<line x1="312.56" y1="297.05" x2="312.56" y2="295.36" stroke="#8a8a8a" stroke-width="0.75" />
<line x1="311.66" y1="295.36" x2="313.46" y2="295.36" stroke="#555" stroke-width="0.7" />
<line x1="328.58" y1="292.98" x2="328.58" y2="291.29" stroke="#8a8a8a" stroke-width="0.75" />
<line x1="327.68" y1="291.29" x2="329.48" y2="291.29" stroke="#555" stroke-width="0.7" />
<line x1="339.26" y1="290.44" x2="339.26" y2="287.9" stroke="#8a8a8a" stroke-width="0.75" />
<line x1="338.36" y1="287.9" x2="340.16" y2="287.9" stroke="#555" stroke-width="0.7" />
<line x1="349.94" y1="287.56" x2="349.94" y2="285.02" stroke="#8a8a8a" stroke-width="0.75" />
<line x1="349.04" y1="285.02" x2="350.84" y2="285.02" stroke="#555" stroke-width="0.7" />
<line x1="366.49" y1="287.39" x2="366.49" y2="284.85" stroke="#8a8a8a" stroke-width="0.75" />
<line x1="365.59" y1="284.85" x2="367.39" y2="284.85" stroke="#555" stroke-width="0.7" />
<line x1="377.17" y1="287.9" x2="377.17" y2="285.35" stroke="#8a8a8a" stroke-width="0.75" />
<line x1="376.27" y1="285.35" x2="378.07" y2="285.35" stroke="#555" stroke-width="0.7" />
<line x1="387.32" y1="288.75" x2="387.32" y2="286.2" stroke="#8a8a8a" stroke-width="0.75" />
<line x1="386.42" y1="286.2" x2="388.22" y2="286.2" stroke="#555" stroke-width="0.7" />
<line x1="408.68" y1="290.78" x2="408.68" y2="288.24" stroke="#8a8a8a" stroke-width="0.75" />
<line x1="407.78" y1="288.24" x2="409.58" y2="288.24" stroke="#555" stroke-width="0.7" />
<line x1="425.23" y1="294.34" x2="425.23" y2="291.8" stroke="#8a8a8a" stroke-width="0.75" />
<line x1="424.33" y1="291.8" x2="426.13" y2="291.8" stroke="#555" stroke-width="0.7" />
<line x1="440.72" y1="297.05" x2="440.72" y2="294.51" stroke="#8a8a8a" stroke-width="0.75" />
<line x1="439.82" y1="294.51" x2="441.62" y2="294.51" stroke="#555" stroke-width="0.7" />
<line x1="451.4" y1="298.24" x2="451.4" y2="296.2" stroke="#8a8a8a" stroke-width="0.75" />
<line x1="450.5" y1="296.2" x2="452.3" y2="296.2" stroke="#555" stroke-width="0.7" />
<line x1="462.08" y1="300.44" x2="462.08" y2="298.41" stroke="#8a8a8a" stroke-width="0.75" />
<line x1="461.18" y1="298.41" x2="462.98" y2="298.41" stroke="#555" stroke-width="0.7" />
<line x1="478.1" y1="304.68" x2="478.1" y2="302.64" stroke="#8a8a8a" stroke-width="0.75" />
<line x1="477.2" y1="302.64" x2="479" y2="302.64" stroke="#555" stroke-width="0.7" />
<line x1="488.78" y1="306.71" x2="488.78" y2="304.68" stroke="#8a8a8a" stroke-width="0.75" />
<line x1="487.88" y1="304.68" x2="489.68" y2="304.68" stroke="#555" stroke-width="0.7" />
<path d="M296.54 302.14 L301.88 299.59 L312.56 297.05 L328.58 292.98 L339.26 290.44 L349.94 287.56 L366.49 287.39 L377.17 287.9 L387.32 288.75 L408.68 290.78 L425.23 294.34 L440.72 297.05 L451.4 298.24 L462.08 300.44 L478.1 304.68 L488.78 306.71" fill="none" stroke="#e41e1e" stroke-width="1.6" stroke-linejoin="round"/>
<rect x="294.44" y="300.04" width="4.2" height="4.2" fill="#e01818" stroke="#a00000" stroke-width="0.4"/>
<rect x="299.78" y="297.49" width="4.2" height="4.2" fill="#e01818" stroke="#a00000" stroke-width="0.4"/>
<rect x="310.46" y="294.95" width="4.2" height="4.2" fill="#e01818" stroke="#a00000" stroke-width="0.4"/>
<rect x="326.48" y="290.88" width="4.2" height="4.2" fill="#e01818" stroke="#a00000" stroke-width="0.4"/>
<rect x="337.16" y="288.34" width="4.2" height="4.2" fill="#e01818" stroke="#a00000" stroke-width="0.4"/>
<rect x="347.84" y="285.46" width="4.2" height="4.2" fill="#e01818" stroke="#a00000" stroke-width="0.4"/>
<rect x="364.39" y="285.29" width="4.2" height="4.2" fill="#e01818" stroke="#a00000" stroke-width="0.4"/>
<rect x="375.07" y="285.8" width="4.2" height="4.2" fill="#e01818" stroke="#a00000" stroke-width="0.4"/>
<rect x="385.22" y="286.64" width="4.2" height="4.2" fill="#e01818" stroke="#a00000" stroke-width="0.4"/>
<rect x="406.58" y="288.68" width="4.2" height="4.2" fill="#e01818" stroke="#a00000" stroke-width="0.4"/>
<rect x="423.13" y="292.24" width="4.2" height="4.2" fill="#e01818" stroke="#a00000" stroke-width="0.4"/>
<rect x="438.62" y="294.95" width="4.2" height="4.2" fill="#e01818" stroke="#a00000" stroke-width="0.4"/>
<rect x="449.3" y="296.14" width="4.2" height="4.2" fill="#e01818" stroke="#a00000" stroke-width="0.4"/>
<rect x="459.98" y="298.34" width="4.2" height="4.2" fill="#e01818" stroke="#a00000" stroke-width="0.4"/>
<rect x="476" y="302.58" width="4.2" height="4.2" fill="#e01818" stroke="#a00000" stroke-width="0.4"/>
<rect x="486.68" y="304.61" width="4.2" height="4.2" fill="#e01818" stroke="#a00000" stroke-width="0.4"/>
<line x1="296.54" y1="302.14" x2="296.54" y2="300.44" stroke="#8a8a8a" stroke-width="0.75" />
<line x1="295.64" y1="300.44" x2="297.44" y2="300.44" stroke="#555" stroke-width="0.7" />
<line x1="301.88" y1="299.59" x2="301.88" y2="297.9" stroke="#8a8a8a" stroke-width="0.75" />
<line x1="300.98" y1="297.9" x2="302.78" y2="297.9" stroke="#555" stroke-width="0.7" />
<line x1="312.56" y1="297.05" x2="312.56" y2="295.36" stroke="#8a8a8a" stroke-width="0.75" />
<line x1="311.66" y1="295.36" x2="313.46" y2="295.36" stroke="#555" stroke-width="0.7" />
<line x1="328.58" y1="292.98" x2="328.58" y2="290.44" stroke="#8a8a8a" stroke-width="0.75" />
<line x1="327.68" y1="290.44" x2="329.48" y2="290.44" stroke="#555" stroke-width="0.7" />
<line x1="339.26" y1="288.75" x2="339.26" y2="286.2" stroke="#8a8a8a" stroke-width="0.75" />
<line x1="338.36" y1="286.2" x2="340.16" y2="286.2" stroke="#555" stroke-width="0.7" />
<line x1="349.94" y1="284.68" x2="349.94" y2="282.13" stroke="#8a8a8a" stroke-width="0.75" />
<line x1="349.04" y1="282.13" x2="350.84" y2="282.13" stroke="#555" stroke-width="0.7" />
<line x1="366.49" y1="283.49" x2="366.49" y2="280.1" stroke="#8a8a8a" stroke-width="0.75" />
<line x1="365.59" y1="280.1" x2="367.39" y2="280.1" stroke="#555" stroke-width="0.7" />
<line x1="377.17" y1="280.95" x2="377.17" y2="277.56" stroke="#8a8a8a" stroke-width="0.75" />
<line x1="376.27" y1="277.56" x2="378.07" y2="277.56" stroke="#555" stroke-width="0.7" />
<line x1="387.32" y1="277.05" x2="387.32" y2="273.66" stroke="#8a8a8a" stroke-width="0.75" />
<line x1="386.42" y1="273.66" x2="388.22" y2="273.66" stroke="#555" stroke-width="0.7" />
<line x1="408.68" y1="277.73" x2="408.68" y2="274.34" stroke="#8a8a8a" stroke-width="0.75" />
<line x1="407.78" y1="274.34" x2="409.58" y2="274.34" stroke="#555" stroke-width="0.7" />
<line x1="425.23" y1="280.95" x2="425.23" y2="278.41" stroke="#8a8a8a" stroke-width="0.75" />
<line x1="424.33" y1="278.41" x2="426.13" y2="278.41" stroke="#555" stroke-width="0.7" />
<line x1="440.72" y1="281.46" x2="440.72" y2="278.91" stroke="#8a8a8a" stroke-width="0.75" />
<line x1="439.82" y1="278.91" x2="441.62" y2="278.91" stroke="#555" stroke-width="0.7" />
<line x1="451.4" y1="283.15" x2="451.4" y2="280.61" stroke="#8a8a8a" stroke-width="0.75" />
<line x1="450.5" y1="280.61" x2="452.3" y2="280.61" stroke="#555" stroke-width="0.7" />
<line x1="462.08" y1="286.03" x2="462.08" y2="283.49" stroke="#8a8a8a" stroke-width="0.75" />
<line x1="461.18" y1="283.49" x2="462.98" y2="283.49" stroke="#555" stroke-width="0.7" />
<line x1="478.1" y1="288.75" x2="478.1" y2="286.2" stroke="#8a8a8a" stroke-width="0.75" />
<line x1="477.2" y1="286.2" x2="479" y2="286.2" stroke="#555" stroke-width="0.7" />
<line x1="488.78" y1="290.78" x2="488.78" y2="288.24" stroke="#8a8a8a" stroke-width="0.75" />
<line x1="487.88" y1="288.24" x2="489.68" y2="288.24" stroke="#555" stroke-width="0.7" />
<path d="M296.54 302.14 L301.88 299.59 L312.56 297.05 L328.58 292.98 L339.26 288.75 L349.94 284.68 L366.49 283.49 L377.17 280.95 L387.32 277.05 L408.68 277.73 L425.23 280.95 L440.72 281.46 L451.4 283.15 L462.08 286.03 L478.1 288.75 L488.78 290.78" fill="none" stroke="#6a1b80" stroke-width="1.6" stroke-linejoin="round"/>
<circle cx="296.54" cy="302.14" r="2.4" fill="#5e1475" stroke="#3a0a50" stroke-width="0.4"/>
<circle cx="301.88" cy="299.59" r="2.4" fill="#5e1475" stroke="#3a0a50" stroke-width="0.4"/>
<circle cx="312.56" cy="297.05" r="2.4" fill="#5e1475" stroke="#3a0a50" stroke-width="0.4"/>
<circle cx="328.58" cy="292.98" r="2.4" fill="#5e1475" stroke="#3a0a50" stroke-width="0.4"/>
<circle cx="339.26" cy="288.75" r="2.4" fill="#5e1475" stroke="#3a0a50" stroke-width="0.4"/>
<circle cx="349.94" cy="284.68" r="2.4" fill="#5e1475" stroke="#3a0a50" stroke-width="0.4"/>
<circle cx="366.49" cy="283.49" r="2.4" fill="#5e1475" stroke="#3a0a50" stroke-width="0.4"/>
<circle cx="377.17" cy="280.95" r="2.4" fill="#5e1475" stroke="#3a0a50" stroke-width="0.4"/>
<circle cx="387.32" cy="277.05" r="2.4" fill="#5e1475" stroke="#3a0a50" stroke-width="0.4"/>
<circle cx="408.68" cy="277.73" r="2.4" fill="#5e1475" stroke="#3a0a50" stroke-width="0.4"/>
<circle cx="425.23" cy="280.95" r="2.4" fill="#5e1475" stroke="#3a0a50" stroke-width="0.4"/>
<circle cx="440.72" cy="281.46" r="2.4" fill="#5e1475" stroke="#3a0a50" stroke-width="0.4"/>
<circle cx="451.4" cy="283.15" r="2.4" fill="#5e1475" stroke="#3a0a50" stroke-width="0.4"/>
<circle cx="462.08" cy="286.03" r="2.4" fill="#5e1475" stroke="#3a0a50" stroke-width="0.4"/>
<circle cx="478.1" cy="288.75" r="2.4" fill="#5e1475" stroke="#3a0a50" stroke-width="0.4"/>
<circle cx="488.78" cy="290.78" r="2.4" fill="#5e1475" stroke="#3a0a50" stroke-width="0.4"/>
<line x1="291.3" y1="203.8" x2="302.6" y2="203.8" stroke="#6a9fd8" stroke-width="1.7" stroke-dasharray="2,1"/>
<circle cx="296.95" cy="203.8" r="1.95" fill="#b8d4f0" stroke="#6a9fd8" stroke-width="0.5"/>
<text x="303" y="205.92" font-size="5.9" text-anchor="start" font-weight="bold" fill="#000" textLength="18.3" lengthAdjust="spacingAndGlyphs" >Vehicle</text>
<line x1="291.3" y1="211.6" x2="302.6" y2="211.6" stroke="#f2d34a" stroke-width="1.7"/>
<polygon points="296.95,209.31 294.87,213.26 299.03,213.26" fill="#f5d06a" stroke="#8a6a10" stroke-width="0.5"/>
<text x="303" y="213.72" font-size="5.9" text-anchor="start" font-weight="bold" fill="#000" textLength="98.3" lengthAdjust="spacingAndGlyphs" >OMTX705 (10 mg/kg, 2x in first w; i.p.)</text>
<line x1="291.3" y1="219.4" x2="302.6" y2="219.4" stroke="#e41e1e" stroke-width="1.7"/>
<rect x="295" y="217.45" width="3.9" height="3.9" fill="#e41e1e" stroke="#a00000" stroke-width="0.5"/>
<text x="303" y="221.52" font-size="5.9" text-anchor="start" font-weight="bold" fill="#000" textLength="87" lengthAdjust="spacingAndGlyphs" >OMTX705 (30 mg/kg; once/w; i.p.)</text>
<line x1="291.3" y1="227.2" x2="302.6" y2="227.2" stroke="#2fb36a" stroke-width="1.7"/>
<text x="303" y="229.32" font-size="5.9" text-anchor="start" font-weight="bold" fill="#000" textLength="104" lengthAdjust="spacingAndGlyphs" >PTX (7.5 mg/kg; once/w from 2nd w; i.v.)</text>
<line x1="291.3" y1="235" x2="302.6" y2="235" stroke="#7030a0" stroke-width="1.7"/>
<circle cx="296.95" cy="235" r="2.08" fill="#7030a0" stroke="#4a0a60" stroke-width="0.5"/>
<text x="303" y="237.12" font-size="5.9" text-anchor="start" font-weight="bold" fill="#000" textLength="121.5" lengthAdjust="spacingAndGlyphs" >Combo (OMTX705 10 mg/kg, 2x in first w,+PTX)</text>
<text x="444.5" y="207.5" font-size="6" text-anchor="middle" font-weight="bold" fill="#000" textLength="43.3" lengthAdjust="spacingAndGlyphs" >End of treatment</text>
<line x1="444.9" y1="209.5" x2="446" y2="333.48" stroke="#000" stroke-width="2.2" />
<polygon points="443.11,332.46 448.89,332.46 446,338.2" fill="#000"/>
<text x="2.2" y="373.5" font-size="12.2" text-anchor="start" font-weight="bold" fill="#000" >E</text>
<rect x="121" y="370.5" width="53.4" height="13" fill="#f8f8f8" stroke="none" stroke-width="0"/>
<text x="147.6" y="379.8" font-size="9.6" text-anchor="middle" font-weight="bold" fill="#000" textLength="45.8" lengthAdjust="spacingAndGlyphs" >Breast 014</text>
<line x1="28.8" y1="521.2" x2="28.8" y2="381" stroke="#7a7a7a" stroke-width="1.2" />
<line x1="28.8" y1="521.2" x2="250.4" y2="521.2" stroke="#7a7a7a" stroke-width="1.1" />
<line x1="27.2" y1="521.2" x2="28.8" y2="521.2" stroke="#7a7a7a" stroke-width="0.6" />
<text x="23.2" y="523.11" font-size="5.3" text-anchor="end" font-weight="bold" fill="#262626" >0</text>
<line x1="27.2" y1="501.24" x2="28.8" y2="501.24" stroke="#7a7a7a" stroke-width="0.6" />
<text x="23.2" y="503.15" font-size="5.3" text-anchor="end" font-weight="bold" fill="#262626" >200</text>
<line x1="27.2" y1="481.28" x2="28.8" y2="481.28" stroke="#7a7a7a" stroke-width="0.6" />
<text x="23.2" y="483.19" font-size="5.3" text-anchor="end" font-weight="bold" fill="#262626" >400</text>
<line x1="27.2" y1="461.32" x2="28.8" y2="461.32" stroke="#7a7a7a" stroke-width="0.6" />
<text x="23.2" y="463.23" font-size="5.3" text-anchor="end" font-weight="bold" fill="#262626" >600</text>
<line x1="27.2" y1="441.36" x2="28.8" y2="441.36" stroke="#7a7a7a" stroke-width="0.6" />
<text x="23.2" y="443.27" font-size="5.3" text-anchor="end" font-weight="bold" fill="#262626" >800</text>
<line x1="27.2" y1="421.4" x2="28.8" y2="421.4" stroke="#7a7a7a" stroke-width="0.6" />
<text x="23.2" y="423.31" font-size="5.3" text-anchor="end" font-weight="bold" fill="#262626" >1,000</text>
<line x1="27.2" y1="401.44" x2="28.8" y2="401.44" stroke="#7a7a7a" stroke-width="0.6" />
<text x="23.2" y="403.35" font-size="5.3" text-anchor="end" font-weight="bold" fill="#262626" >1,200</text>
<line x1="27.2" y1="381.48" x2="28.8" y2="381.48" stroke="#7a7a7a" stroke-width="0.6" />
<text x="23.2" y="383.39" font-size="5.3" text-anchor="end" font-weight="bold" fill="#262626" >1,400</text>
<line x1="28.8" y1="521.2" x2="28.8" y2="522.6" stroke="#5a5a5a" stroke-width="0.55" />
<line x1="36.2" y1="521.2" x2="36.2" y2="522.6" stroke="#5a5a5a" stroke-width="0.55" />
<line x1="43.6" y1="521.2" x2="43.6" y2="522.6" stroke="#5a5a5a" stroke-width="0.55" />
<line x1="51" y1="521.2" x2="51" y2="522.6" stroke="#5a5a5a" stroke-width="0.55" />
<line x1="58.4" y1="521.2" x2="58.4" y2="522.6" stroke="#5a5a5a" stroke-width="0.55" />
<line x1="65.8" y1="521.2" x2="65.8" y2="522.6" stroke="#5a5a5a" stroke-width="0.55" />
<line x1="73.2" y1="521.2" x2="73.2" y2="522.6" stroke="#5a5a5a" stroke-width="0.55" />
<line x1="80.6" y1="521.2" x2="80.6" y2="522.6" stroke="#5a5a5a" stroke-width="0.55" />
<line x1="88" y1="521.2" x2="88" y2="522.6" stroke="#5a5a5a" stroke-width="0.55" />
<line x1="95.4" y1="521.2" x2="95.4" y2="522.6" stroke="#5a5a5a" stroke-width="0.55" />
<line x1="102.8" y1="521.2" x2="102.8" y2="522.6" stroke="#5a5a5a" stroke-width="0.55" />
<line x1="110.2" y1="521.2" x2="110.2" y2="522.6" stroke="#5a5a5a" stroke-width="0.55" />
<line x1="117.6" y1="521.2" x2="117.6" y2="522.6" stroke="#5a5a5a" stroke-width="0.55" />
<line x1="125" y1="521.2" x2="125" y2="522.6" stroke="#5a5a5a" stroke-width="0.55" />
<line x1="132.4" y1="521.2" x2="132.4" y2="522.6" stroke="#5a5a5a" stroke-width="0.55" />
<line x1="139.8" y1="521.2" x2="139.8" y2="522.6" stroke="#5a5a5a" stroke-width="0.55" />
<line x1="147.2" y1="521.2" x2="147.2" y2="522.6" stroke="#5a5a5a" stroke-width="0.55" />
<line x1="154.6" y1="521.2" x2="154.6" y2="522.6" stroke="#5a5a5a" stroke-width="0.55" />
<line x1="162" y1="521.2" x2="162" y2="522.6" stroke="#5a5a5a" stroke-width="0.55" />
<line x1="169.4" y1="521.2" x2="169.4" y2="522.6" stroke="#5a5a5a" stroke-width="0.55" />
<line x1="176.8" y1="521.2" x2="176.8" y2="522.6" stroke="#5a5a5a" stroke-width="0.55" />
<line x1="184.2" y1="521.2" x2="184.2" y2="522.6" stroke="#5a5a5a" stroke-width="0.55" />
<line x1="191.6" y1="521.2" x2="191.6" y2="522.6" stroke="#5a5a5a" stroke-width="0.55" />
<line x1="199" y1="521.2" x2="199" y2="522.6" stroke="#5a5a5a" stroke-width="0.55" />
<line x1="206.4" y1="521.2" x2="206.4" y2="522.6" stroke="#5a5a5a" stroke-width="0.55" />
<line x1="213.8" y1="521.2" x2="213.8" y2="522.6" stroke="#5a5a5a" stroke-width="0.55" />
<line x1="221.2" y1="521.2" x2="221.2" y2="522.6" stroke="#5a5a5a" stroke-width="0.55" />
<line x1="228.6" y1="521.2" x2="228.6" y2="522.6" stroke="#5a5a5a" stroke-width="0.55" />
<line x1="236" y1="521.2" x2="236" y2="522.6" stroke="#5a5a5a" stroke-width="0.55" />
<line x1="243.4" y1="521.2" x2="243.4" y2="522.6" stroke="#5a5a5a" stroke-width="0.55" />
<line x1="28.8" y1="519.9" x2="28.8" y2="522.8" stroke="#7a7a7a" stroke-width="0.6" />
<text x="28.8" y="530.9" font-size="5" text-anchor="middle" font-weight="bold" fill="#262626" >0</text>
<line x1="80.6" y1="519.9" x2="80.6" y2="522.8" stroke="#7a7a7a" stroke-width="0.6" />
<text x="80.6" y="530.9" font-size="5" text-anchor="middle" font-weight="bold" fill="#262626" >7</text>
<line x1="132.4" y1="519.9" x2="132.4" y2="522.8" stroke="#7a7a7a" stroke-width="0.6" />
<text x="132.4" y="530.9" font-size="5" text-anchor="middle" font-weight="bold" fill="#262626" >14</text>
<line x1="184.2" y1="519.9" x2="184.2" y2="522.8" stroke="#7a7a7a" stroke-width="0.6" />
<text x="184.2" y="530.9" font-size="5" text-anchor="middle" font-weight="bold" fill="#262626" >21</text>
<line x1="236" y1="519.9" x2="236" y2="522.8" stroke="#7a7a7a" stroke-width="0.6" />
<text x="236" y="530.9" font-size="5" text-anchor="middle" font-weight="bold" fill="#262626" >28</text>
<text x="7.2" y="459.2" font-size="8" text-anchor="middle" font-weight="bold" fill="#000" textLength="126.4" lengthAdjust="spacingAndGlyphs" transform="rotate(-90 7.2 459.2)" >Tumor volume (mm<tspan font-size="5.76" dy="-2.88">3</tspan><tspan dy="2.88">, mean ± SEM)</tspan></text>
<text x="144" y="540" font-size="7.1" text-anchor="middle" font-weight="bold" fill="#000" textLength="35.8" lengthAdjust="spacingAndGlyphs" >Time (days)</text>
<line x1="36.2" y1="498.94" x2="36.2" y2="497.45" stroke="#8a8a8a" stroke-width="0.75" />
<line x1="35.3" y1="497.45" x2="37.1" y2="497.45" stroke="#555" stroke-width="0.7" />
<line x1="43.6" y1="496.75" x2="43.6" y2="494.75" stroke="#8a8a8a" stroke-width="0.75" />
<line x1="42.7" y1="494.75" x2="44.5" y2="494.75" stroke="#555" stroke-width="0.7" />
<line x1="58.4" y1="494.05" x2="58.4" y2="491.56" stroke="#8a8a8a" stroke-width="0.75" />
<line x1="57.5" y1="491.56" x2="59.3" y2="491.56" stroke="#555" stroke-width="0.7" />
<line x1="80.6" y1="491.26" x2="80.6" y2="487.27" stroke="#8a8a8a" stroke-width="0.75" />
<line x1="79.7" y1="487.27" x2="81.5" y2="487.27" stroke="#555" stroke-width="0.7" />
<line x1="95.4" y1="482.48" x2="95.4" y2="476.49" stroke="#8a8a8a" stroke-width="0.75" />
<line x1="94.5" y1="476.49" x2="96.3" y2="476.49" stroke="#555" stroke-width="0.7" />
<line x1="110.2" y1="480.08" x2="110.2" y2="473.1" stroke="#8a8a8a" stroke-width="0.75" />
<line x1="109.3" y1="473.1" x2="111.1" y2="473.1" stroke="#555" stroke-width="0.7" />
<line x1="132.4" y1="472.9" x2="132.4" y2="463.91" stroke="#8a8a8a" stroke-width="0.75" />
<line x1="131.5" y1="463.91" x2="133.3" y2="463.91" stroke="#555" stroke-width="0.7" />
<line x1="147.2" y1="467.11" x2="147.2" y2="457.13" stroke="#8a8a8a" stroke-width="0.75" />
<line x1="146.3" y1="457.13" x2="148.1" y2="457.13" stroke="#555" stroke-width="0.7" />
<line x1="162" y1="459.02" x2="162" y2="448.05" stroke="#8a8a8a" stroke-width="0.75" />
<line x1="161.1" y1="448.05" x2="162.9" y2="448.05" stroke="#555" stroke-width="0.7" />
<line x1="184.2" y1="446.85" x2="184.2" y2="434.37" stroke="#8a8a8a" stroke-width="0.75" />
<line x1="183.3" y1="434.37" x2="185.1" y2="434.37" stroke="#555" stroke-width="0.7" />
<line x1="199" y1="440.96" x2="199" y2="426.99" stroke="#8a8a8a" stroke-width="0.75" />
<line x1="198.1" y1="426.99" x2="199.9" y2="426.99" stroke="#555" stroke-width="0.7" />
<line x1="213.8" y1="429.68" x2="213.8" y2="414.71" stroke="#8a8a8a" stroke-width="0.75" />
<line x1="212.9" y1="414.71" x2="214.7" y2="414.71" stroke="#555" stroke-width="0.7" />
<line x1="236" y1="417.51" x2="236" y2="400.54" stroke="#8a8a8a" stroke-width="0.75" />
<line x1="235.1" y1="400.54" x2="236.9" y2="400.54" stroke="#555" stroke-width="0.7" />
<line x1="243.4" y1="412.62" x2="243.4" y2="394.65" stroke="#8a8a8a" stroke-width="0.75" />
<line x1="242.5" y1="394.65" x2="244.3" y2="394.65" stroke="#555" stroke-width="0.7" />
<path d="M36.2 498.94 L43.6 496.75 L58.4 494.05 L80.6 491.26 L95.4 482.48 L110.2 480.08 L132.4 472.9 L147.2 467.11 L162 459.02 L184.2 446.85 L199 440.96 L213.8 429.68 L236 417.51 L243.4 412.62" fill="none" stroke="#3a6ab0" stroke-width="1.1" stroke-dasharray="3,1.8" stroke-linejoin="round"/>
<circle cx="36.2" cy="498.94" r="2.4" fill="#eaf2fb" stroke="#6a9fd8" stroke-width="0.6"/>
<circle cx="43.6" cy="496.75" r="2.4" fill="#eaf2fb" stroke="#6a9fd8" stroke-width="0.6"/>
<circle cx="58.4" cy="494.05" r="2.4" fill="#eaf2fb" stroke="#6a9fd8" stroke-width="0.6"/>
<circle cx="80.6" cy="491.26" r="2.4" fill="#eaf2fb" stroke="#6a9fd8" stroke-width="0.6"/>
<circle cx="95.4" cy="482.48" r="2.4" fill="#eaf2fb" stroke="#6a9fd8" stroke-width="0.6"/>
<circle cx="110.2" cy="480.08" r="2.4" fill="#eaf2fb" stroke="#6a9fd8" stroke-width="0.6"/>
<circle cx="132.4" cy="472.9" r="2.4" fill="#eaf2fb" stroke="#6a9fd8" stroke-width="0.6"/>
<circle cx="147.2" cy="467.11" r="2.4" fill="#eaf2fb" stroke="#6a9fd8" stroke-width="0.6"/>
<circle cx="162" cy="459.02" r="2.4" fill="#eaf2fb" stroke="#6a9fd8" stroke-width="0.6"/>
<circle cx="184.2" cy="446.85" r="2.4" fill="#eaf2fb" stroke="#6a9fd8" stroke-width="0.6"/>
<circle cx="199" cy="440.96" r="2.4" fill="#eaf2fb" stroke="#6a9fd8" stroke-width="0.6"/>
<circle cx="213.8" cy="429.68" r="2.4" fill="#eaf2fb" stroke="#6a9fd8" stroke-width="0.6"/>
<circle cx="236" cy="417.51" r="2.4" fill="#eaf2fb" stroke="#6a9fd8" stroke-width="0.6"/>
<circle cx="243.4" cy="412.62" r="2.4" fill="#eaf2fb" stroke="#6a9fd8" stroke-width="0.6"/>
<line x1="36.2" y1="498.94" x2="36.2" y2="497.95" stroke="#8a8a8a" stroke-width="0.75" />
<line x1="35.3" y1="497.95" x2="37.1" y2="497.95" stroke="#555" stroke-width="0.7" />
<line x1="43.6" y1="496.75" x2="43.6" y2="495.25" stroke="#8a8a8a" stroke-width="0.75" />
<line x1="42.7" y1="495.25" x2="44.5" y2="495.25" stroke="#555" stroke-width="0.7" />
<line x1="58.4" y1="494.05" x2="58.4" y2="492.06" stroke="#8a8a8a" stroke-width="0.75" />
<line x1="57.5" y1="492.06" x2="59.3" y2="492.06" stroke="#555" stroke-width="0.7" />
<line x1="80.6" y1="488.86" x2="80.6" y2="485.87" stroke="#8a8a8a" stroke-width="0.75" />
<line x1="79.7" y1="485.87" x2="81.5" y2="485.87" stroke="#555" stroke-width="0.7" />
<line x1="95.4" y1="484.17" x2="95.4" y2="480.18" stroke="#8a8a8a" stroke-width="0.75" />
<line x1="94.5" y1="480.18" x2="96.3" y2="480.18" stroke="#555" stroke-width="0.7" />
<line x1="110.2" y1="480.58" x2="110.2" y2="475.59" stroke="#8a8a8a" stroke-width="0.75" />
<line x1="109.3" y1="475.59" x2="111.1" y2="475.59" stroke="#555" stroke-width="0.7" />
<line x1="132.4" y1="477.69" x2="132.4" y2="471.7" stroke="#8a8a8a" stroke-width="0.75" />
<line x1="131.5" y1="471.7" x2="133.3" y2="471.7" stroke="#555" stroke-width="0.7" />
<line x1="147.2" y1="474.39" x2="147.2" y2="467.41" stroke="#8a8a8a" stroke-width="0.75" />
<line x1="146.3" y1="467.41" x2="148.1" y2="467.41" stroke="#555" stroke-width="0.7" />
<line x1="162" y1="469.4" x2="162" y2="461.42" stroke="#8a8a8a" stroke-width="0.75" />
<line x1="161.1" y1="461.42" x2="162.9" y2="461.42" stroke="#555" stroke-width="0.7" />
<line x1="184.2" y1="464.61" x2="184.2" y2="455.63" stroke="#8a8a8a" stroke-width="0.75" />
<line x1="183.3" y1="455.63" x2="185.1" y2="455.63" stroke="#555" stroke-width="0.7" />
<line x1="199" y1="462.82" x2="199" y2="451.84" stroke="#8a8a8a" stroke-width="0.75" />
<line x1="198.1" y1="451.84" x2="199.9" y2="451.84" stroke="#555" stroke-width="0.7" />
<line x1="213.8" y1="459.72" x2="213.8" y2="447.75" stroke="#8a8a8a" stroke-width="0.75" />
<line x1="212.9" y1="447.75" x2="214.7" y2="447.75" stroke="#555" stroke-width="0.7" />
<line x1="236" y1="453.04" x2="236" y2="440.06" stroke="#8a8a8a" stroke-width="0.75" />
<line x1="235.1" y1="440.06" x2="236.9" y2="440.06" stroke="#555" stroke-width="0.7" />
<line x1="243.4" y1="449.14" x2="243.4" y2="434.67" stroke="#8a8a8a" stroke-width="0.75" />
<line x1="242.5" y1="434.67" x2="244.3" y2="434.67" stroke="#555" stroke-width="0.7" />
<path d="M36.2 498.94 L43.6 496.75 L58.4 494.05 L80.6 488.86 L95.4 484.17 L110.2 480.58 L132.4 477.69 L147.2 474.39 L162 469.4 L184.2 464.61 L199 462.82 L213.8 459.72 L236 453.04 L243.4 449.14" fill="none" stroke="#f2d34a" stroke-width="1.5" stroke-linejoin="round"/>
<polygon points="36.2,496.3 33.8,500.86 38.6,500.86" fill="#f2d040" stroke="#7a5a10" stroke-width="0.6"/>
<polygon points="43.6,494.11 41.2,498.67 46,498.67" fill="#f2d040" stroke="#7a5a10" stroke-width="0.6"/>
<polygon points="58.4,491.41 56,495.97 60.8,495.97" fill="#f2d040" stroke="#7a5a10" stroke-width="0.6"/>
<polygon points="80.6,486.22 78.2,490.78 83,490.78" fill="#f2d040" stroke="#7a5a10" stroke-width="0.6"/>
<polygon points="95.4,481.53 93,486.09 97.8,486.09" fill="#f2d040" stroke="#7a5a10" stroke-width="0.6"/>
<polygon points="110.2,477.94 107.8,482.5 112.6,482.5" fill="#f2d040" stroke="#7a5a10" stroke-width="0.6"/>
<polygon points="132.4,475.05 130,479.61 134.8,479.61" fill="#f2d040" stroke="#7a5a10" stroke-width="0.6"/>
<polygon points="147.2,471.75 144.8,476.31 149.6,476.31" fill="#f2d040" stroke="#7a5a10" stroke-width="0.6"/>
<polygon points="162,466.76 159.6,471.32 164.4,471.32" fill="#f2d040" stroke="#7a5a10" stroke-width="0.6"/>
<polygon points="184.2,461.97 181.8,466.53 186.6,466.53" fill="#f2d040" stroke="#7a5a10" stroke-width="0.6"/>
<polygon points="199,460.18 196.6,464.74 201.4,464.74" fill="#f2d040" stroke="#7a5a10" stroke-width="0.6"/>
<polygon points="213.8,457.08 211.4,461.64 216.2,461.64" fill="#f2d040" stroke="#7a5a10" stroke-width="0.6"/>
<polygon points="236,450.4 233.6,454.96 238.4,454.96" fill="#f2d040" stroke="#7a5a10" stroke-width="0.6"/>
<polygon points="243.4,446.5 241,451.06 245.8,451.06" fill="#f2d040" stroke="#7a5a10" stroke-width="0.6"/>
<line x1="36.2" y1="498.94" x2="36.2" y2="497.95" stroke="#8a8a8a" stroke-width="0.75" />
<line x1="35.3" y1="497.95" x2="37.1" y2="497.95" stroke="#555" stroke-width="0.7" />
<line x1="43.6" y1="496.75" x2="43.6" y2="495.75" stroke="#8a8a8a" stroke-width="0.75" />
<line x1="42.7" y1="495.75" x2="44.5" y2="495.75" stroke="#555" stroke-width="0.7" />
<line x1="58.4" y1="494.35" x2="58.4" y2="493.36" stroke="#8a8a8a" stroke-width="0.75" />
<line x1="57.5" y1="493.36" x2="59.3" y2="493.36" stroke="#555" stroke-width="0.7" />
<line x1="80.6" y1="492.06" x2="80.6" y2="490.56" stroke="#8a8a8a" stroke-width="0.75" />
<line x1="79.7" y1="490.56" x2="81.5" y2="490.56" stroke="#555" stroke-width="0.7" />
<line x1="95.4" y1="490.56" x2="95.4" y2="489.06" stroke="#8a8a8a" stroke-width="0.75" />
<line x1="94.5" y1="489.06" x2="96.3" y2="489.06" stroke="#555" stroke-width="0.7" />
<line x1="110.2" y1="489.66" x2="110.2" y2="488.17" stroke="#8a8a8a" stroke-width="0.75" />
<line x1="109.3" y1="488.17" x2="111.1" y2="488.17" stroke="#555" stroke-width="0.7" />
<line x1="132.4" y1="490.56" x2="132.4" y2="489.06" stroke="#8a8a8a" stroke-width="0.75" />
<line x1="131.5" y1="489.06" x2="133.3" y2="489.06" stroke="#555" stroke-width="0.7" />
<line x1="147.2" y1="490.16" x2="147.2" y2="488.67" stroke="#8a8a8a" stroke-width="0.75" />
<line x1="146.3" y1="488.67" x2="148.1" y2="488.67" stroke="#555" stroke-width="0.7" />
<line x1="162" y1="492.16" x2="162" y2="490.66" stroke="#8a8a8a" stroke-width="0.75" />
<line x1="161.1" y1="490.66" x2="162.9" y2="490.66" stroke="#555" stroke-width="0.7" />
<line x1="184.2" y1="494.55" x2="184.2" y2="493.06" stroke="#8a8a8a" stroke-width="0.75" />
<line x1="183.3" y1="493.06" x2="185.1" y2="493.06" stroke="#555" stroke-width="0.7" />
<line x1="199" y1="495.55" x2="199" y2="494.05" stroke="#8a8a8a" stroke-width="0.75" />
<line x1="198.1" y1="494.05" x2="199.9" y2="494.05" stroke="#555" stroke-width="0.7" />
<line x1="213.8" y1="496.95" x2="213.8" y2="495.45" stroke="#8a8a8a" stroke-width="0.75" />
<line x1="212.9" y1="495.45" x2="214.7" y2="495.45" stroke="#555" stroke-width="0.7" />
<line x1="236" y1="498.65" x2="236" y2="497.15" stroke="#8a8a8a" stroke-width="0.75" />
<line x1="235.1" y1="497.15" x2="236.9" y2="497.15" stroke="#555" stroke-width="0.7" />
<line x1="243.4" y1="499.44" x2="243.4" y2="497.95" stroke="#8a8a8a" stroke-width="0.75" />
<line x1="242.5" y1="497.95" x2="244.3" y2="497.95" stroke="#555" stroke-width="0.7" />
<path d="M36.2 498.94 L43.6 496.75 L58.4 494.35 L80.6 492.06 L95.4 490.56 L110.2 489.66 L132.4 490.56 L147.2 490.16 L162 492.16 L184.2 494.55 L199 495.55 L213.8 496.95 L236 498.65 L243.4 499.44" fill="none" stroke="#e41e1e" stroke-width="1.6" stroke-linejoin="round"/>
<rect x="34.1" y="496.84" width="4.2" height="4.2" fill="#e01818" stroke="#a00000" stroke-width="0.4"/>
<rect x="41.5" y="494.65" width="4.2" height="4.2" fill="#e01818" stroke="#a00000" stroke-width="0.4"/>
<rect x="56.3" y="492.25" width="4.2" height="4.2" fill="#e01818" stroke="#a00000" stroke-width="0.4"/>
<rect x="78.5" y="489.96" width="4.2" height="4.2" fill="#e01818" stroke="#a00000" stroke-width="0.4"/>
<rect x="93.3" y="488.46" width="4.2" height="4.2" fill="#e01818" stroke="#a00000" stroke-width="0.4"/>
<rect x="108.1" y="487.56" width="4.2" height="4.2" fill="#e01818" stroke="#a00000" stroke-width="0.4"/>
<rect x="130.3" y="488.46" width="4.2" height="4.2" fill="#e01818" stroke="#a00000" stroke-width="0.4"/>
<rect x="145.1" y="488.06" width="4.2" height="4.2" fill="#e01818" stroke="#a00000" stroke-width="0.4"/>
<rect x="159.9" y="490.06" width="4.2" height="4.2" fill="#e01818" stroke="#a00000" stroke-width="0.4"/>
<rect x="182.1" y="492.45" width="4.2" height="4.2" fill="#e01818" stroke="#a00000" stroke-width="0.4"/>
<rect x="196.9" y="493.45" width="4.2" height="4.2" fill="#e01818" stroke="#a00000" stroke-width="0.4"/>
<rect x="211.7" y="494.85" width="4.2" height="4.2" fill="#e01818" stroke="#a00000" stroke-width="0.4"/>
<rect x="233.9" y="496.55" width="4.2" height="4.2" fill="#e01818" stroke="#a00000" stroke-width="0.4"/>
<rect x="241.3" y="497.34" width="4.2" height="4.2" fill="#e01818" stroke="#a00000" stroke-width="0.4"/>
<line x1="36.2" y1="498.94" x2="36.2" y2="497.95" stroke="#8a8a8a" stroke-width="0.75" />
<line x1="35.3" y1="497.95" x2="37.1" y2="497.95" stroke="#555" stroke-width="0.7" />
<line x1="43.6" y1="496.75" x2="43.6" y2="495.75" stroke="#8a8a8a" stroke-width="0.75" />
<line x1="42.7" y1="495.75" x2="44.5" y2="495.75" stroke="#555" stroke-width="0.7" />
<line x1="58.4" y1="494.35" x2="58.4" y2="492.86" stroke="#8a8a8a" stroke-width="0.75" />
<line x1="57.5" y1="492.86" x2="59.3" y2="492.86" stroke="#555" stroke-width="0.7" />
<line x1="80.6" y1="492.06" x2="80.6" y2="490.06" stroke="#8a8a8a" stroke-width="0.75" />
<line x1="79.7" y1="490.06" x2="81.5" y2="490.06" stroke="#555" stroke-width="0.7" />
<line x1="95.4" y1="488.27" x2="95.4" y2="485.77" stroke="#8a8a8a" stroke-width="0.75" />
<line x1="94.5" y1="485.77" x2="96.3" y2="485.77" stroke="#555" stroke-width="0.7" />
<line x1="110.2" y1="485.87" x2="110.2" y2="483.38" stroke="#8a8a8a" stroke-width="0.75" />
<line x1="109.3" y1="483.38" x2="111.1" y2="483.38" stroke="#555" stroke-width="0.7" />
<line x1="132.4" y1="484.87" x2="132.4" y2="481.88" stroke="#8a8a8a" stroke-width="0.75" />
<line x1="131.5" y1="481.88" x2="133.3" y2="481.88" stroke="#555" stroke-width="0.7" />
<line x1="147.2" y1="481.58" x2="147.2" y2="478.59" stroke="#8a8a8a" stroke-width="0.75" />
<line x1="146.3" y1="478.59" x2="148.1" y2="478.59" stroke="#555" stroke-width="0.7" />
<line x1="162" y1="479.18" x2="162" y2="475.69" stroke="#8a8a8a" stroke-width="0.75" />
<line x1="161.1" y1="475.69" x2="162.9" y2="475.69" stroke="#555" stroke-width="0.7" />
<line x1="184.2" y1="473.1" x2="184.2" y2="469.1" stroke="#8a8a8a" stroke-width="0.75" />
<line x1="183.3" y1="469.1" x2="185.1" y2="469.1" stroke="#555" stroke-width="0.7" />
<line x1="199" y1="468.71" x2="199" y2="464.71" stroke="#8a8a8a" stroke-width="0.75" />
<line x1="198.1" y1="464.71" x2="199.9" y2="464.71" stroke="#555" stroke-width="0.7" />
<line x1="213.8" y1="466.21" x2="213.8" y2="461.72" stroke="#8a8a8a" stroke-width="0.75" />
<line x1="212.9" y1="461.72" x2="214.7" y2="461.72" stroke="#555" stroke-width="0.7" />
<line x1="236" y1="459.02" x2="236" y2="454.03" stroke="#8a8a8a" stroke-width="0.75" />
<line x1="235.1" y1="454.03" x2="236.9" y2="454.03" stroke="#555" stroke-width="0.7" />
<line x1="243.4" y1="456.03" x2="243.4" y2="451.04" stroke="#8a8a8a" stroke-width="0.75" />
<line x1="242.5" y1="451.04" x2="244.3" y2="451.04" stroke="#555" stroke-width="0.7" />
<path d="M36.2 498.94 L43.6 496.75 L58.4 494.35 L80.6 492.06 L95.4 488.27 L110.2 485.87 L132.4 484.87 L147.2 481.58 L162 479.18 L184.2 473.1 L199 468.71 L213.8 466.21 L236 459.02 L243.4 456.03" fill="none" stroke="#6030a0" stroke-width="1.6" stroke-linejoin="round"/>
<circle cx="36.2" cy="498.94" r="2.4" fill="#5a2890" stroke="#3a0a60" stroke-width="0.4"/>
<circle cx="43.6" cy="496.75" r="2.4" fill="#5a2890" stroke="#3a0a60" stroke-width="0.4"/>
<circle cx="58.4" cy="494.35" r="2.4" fill="#5a2890" stroke="#3a0a60" stroke-width="0.4"/>
<circle cx="80.6" cy="492.06" r="2.4" fill="#5a2890" stroke="#3a0a60" stroke-width="0.4"/>
<circle cx="95.4" cy="488.27" r="2.4" fill="#5a2890" stroke="#3a0a60" stroke-width="0.4"/>
<circle cx="110.2" cy="485.87" r="2.4" fill="#5a2890" stroke="#3a0a60" stroke-width="0.4"/>
<circle cx="132.4" cy="484.87" r="2.4" fill="#5a2890" stroke="#3a0a60" stroke-width="0.4"/>
<circle cx="147.2" cy="481.58" r="2.4" fill="#5a2890" stroke="#3a0a60" stroke-width="0.4"/>
<circle cx="162" cy="479.18" r="2.4" fill="#5a2890" stroke="#3a0a60" stroke-width="0.4"/>
<circle cx="184.2" cy="473.1" r="2.4" fill="#5a2890" stroke="#3a0a60" stroke-width="0.4"/>
<circle cx="199" cy="468.71" r="2.4" fill="#5a2890" stroke="#3a0a60" stroke-width="0.4"/>
<circle cx="213.8" cy="466.21" r="2.4" fill="#5a2890" stroke="#3a0a60" stroke-width="0.4"/>
<circle cx="236" cy="459.02" r="2.4" fill="#5a2890" stroke="#3a0a60" stroke-width="0.4"/>
<circle cx="243.4" cy="456.03" r="2.4" fill="#5a2890" stroke="#3a0a60" stroke-width="0.4"/>
<line x1="36.2" y1="498.94" x2="36.2" y2="497.95" stroke="#8a8a8a" stroke-width="0.75" />
<line x1="35.3" y1="497.95" x2="37.1" y2="497.95" stroke="#555" stroke-width="0.7" />
<line x1="43.6" y1="496.75" x2="43.6" y2="495.75" stroke="#8a8a8a" stroke-width="0.75" />
<line x1="42.7" y1="495.75" x2="44.5" y2="495.75" stroke="#555" stroke-width="0.7" />
<line x1="58.4" y1="494.65" x2="58.4" y2="493.16" stroke="#8a8a8a" stroke-width="0.75" />
<line x1="57.5" y1="493.16" x2="59.3" y2="493.16" stroke="#555" stroke-width="0.7" />
<line x1="80.6" y1="492.46" x2="80.6" y2="490.46" stroke="#8a8a8a" stroke-width="0.75" />
<line x1="79.7" y1="490.46" x2="81.5" y2="490.46" stroke="#555" stroke-width="0.7" />
<line x1="95.4" y1="489.66" x2="95.4" y2="487.67" stroke="#8a8a8a" stroke-width="0.75" />
<line x1="94.5" y1="487.67" x2="96.3" y2="487.67" stroke="#555" stroke-width="0.7" />
<line x1="110.2" y1="487.77" x2="110.2" y2="485.27" stroke="#8a8a8a" stroke-width="0.75" />
<line x1="109.3" y1="485.27" x2="111.1" y2="485.27" stroke="#555" stroke-width="0.7" />
<line x1="132.4" y1="486.57" x2="132.4" y2="484.07" stroke="#8a8a8a" stroke-width="0.75" />
<line x1="131.5" y1="484.07" x2="133.3" y2="484.07" stroke="#555" stroke-width="0.7" />
<line x1="147.2" y1="485.27" x2="147.2" y2="482.28" stroke="#8a8a8a" stroke-width="0.75" />
<line x1="146.3" y1="482.28" x2="148.1" y2="482.28" stroke="#555" stroke-width="0.7" />
<line x1="162" y1="482.88" x2="162" y2="479.88" stroke="#8a8a8a" stroke-width="0.75" />
<line x1="161.1" y1="479.88" x2="162.9" y2="479.88" stroke="#555" stroke-width="0.7" />
<line x1="184.2" y1="478.49" x2="184.2" y2="474.99" stroke="#8a8a8a" stroke-width="0.75" />
<line x1="183.3" y1="474.99" x2="185.1" y2="474.99" stroke="#555" stroke-width="0.7" />
<line x1="199" y1="474.29" x2="199" y2="470.8" stroke="#8a8a8a" stroke-width="0.75" />
<line x1="198.1" y1="470.8" x2="199.9" y2="470.8" stroke="#555" stroke-width="0.7" />
<line x1="213.8" y1="469.4" x2="213.8" y2="465.41" stroke="#8a8a8a" stroke-width="0.75" />
<line x1="212.9" y1="465.41" x2="214.7" y2="465.41" stroke="#555" stroke-width="0.7" />
<line x1="236" y1="459.72" x2="236" y2="455.23" stroke="#8a8a8a" stroke-width="0.75" />
<line x1="235.1" y1="455.23" x2="236.9" y2="455.23" stroke="#555" stroke-width="0.7" />
<line x1="243.4" y1="456.53" x2="243.4" y2="452.04" stroke="#8a8a8a" stroke-width="0.75" />
<line x1="242.5" y1="452.04" x2="244.3" y2="452.04" stroke="#555" stroke-width="0.7" />
<path d="M36.2 498.94 L43.6 496.75 L58.4 494.65 L80.6 492.46 L95.4 489.66 L110.2 487.77 L132.4 486.57 L147.2 485.27 L162 482.88 L184.2 478.49 L199 474.29 L213.8 469.4 L236 459.72 L243.4 456.53" fill="none" stroke="#2fb060" stroke-width="1.5" stroke-linejoin="round"/>
<path d="M34.4 497.14L38 500.74M34.4 500.74L38 497.14" stroke="#2a7a60" stroke-width="0.7" fill="none"/>
<path d="M41.8 494.95L45.4 498.55M41.8 498.55L45.4 494.95" stroke="#2a7a60" stroke-width="0.7" fill="none"/>
<path d="M56.6 492.85L60.2 496.45M56.6 496.45L60.2 492.85" stroke="#2a7a60" stroke-width="0.7" fill="none"/>
<path d="M78.8 490.66L82.4 494.26M78.8 494.26L82.4 490.66" stroke="#2a7a60" stroke-width="0.7" fill="none"/>
<path d="M93.6 487.86L97.2 491.46M93.6 491.46L97.2 487.86" stroke="#2a7a60" stroke-width="0.7" fill="none"/>
<path d="M108.4 485.97L112 489.57M108.4 489.57L112 485.97" stroke="#2a7a60" stroke-width="0.7" fill="none"/>
<path d="M130.6 484.77L134.2 488.37M130.6 488.37L134.2 484.77" stroke="#2a7a60" stroke-width="0.7" fill="none"/>
<path d="M145.4 483.47L149 487.07M145.4 487.07L149 483.47" stroke="#2a7a60" stroke-width="0.7" fill="none"/>
<path d="M160.2 481.08L163.8 484.68M160.2 484.68L163.8 481.08" stroke="#2a7a60" stroke-width="0.7" fill="none"/>
<path d="M182.4 476.69L186 480.29M182.4 480.29L186 476.69" stroke="#2a7a60" stroke-width="0.7" fill="none"/>
<path d="M197.2 472.49L200.8 476.09M197.2 476.09L200.8 472.49" stroke="#2a7a60" stroke-width="0.7" fill="none"/>
<path d="M212 467.6L215.6 471.2M212 471.2L215.6 467.6" stroke="#2a7a60" stroke-width="0.7" fill="none"/>
<path d="M234.2 457.92L237.8 461.52M234.2 461.52L237.8 457.92" stroke="#2a7a60" stroke-width="0.7" fill="none"/>
<path d="M241.6 454.73L245.2 458.33M241.6 458.33L245.2 454.73" stroke="#2a7a60" stroke-width="0.7" fill="none"/>
<line x1="32.9" y1="383.3" x2="43.6" y2="383.3" stroke="#6a9fd8" stroke-width="1.7" stroke-dasharray="2,1"/>
<circle cx="38.25" cy="383.3" r="1.95" fill="#b8d4f0" stroke="#6a9fd8" stroke-width="0.5"/>
<text x="44.4" y="385.35" font-size="5.7" text-anchor="start" font-weight="bold" fill="#000" textLength="18.5" lengthAdjust="spacingAndGlyphs" >Vehicle</text>
<line x1="32.9" y1="390.8" x2="43.6" y2="390.8" stroke="#f2d34a" stroke-width="1.7"/>
<polygon points="38.25,388.51 36.17,392.46 40.33,392.46" fill="#f5d06a" stroke="#8a6a10" stroke-width="0.5"/>
<text x="44.4" y="392.85" font-size="5.7" text-anchor="start" font-weight="bold" fill="#000" textLength="83" lengthAdjust="spacingAndGlyphs" >OMTX705 (10 mg/kg; q7dx4; i.v.)</text>
<line x1="32.9" y1="398.2" x2="43.6" y2="398.2" stroke="#e41e1e" stroke-width="1.7"/>
<rect x="36.3" y="396.25" width="3.9" height="3.9" fill="#e41e1e" stroke="#a00000" stroke-width="0.5"/>
<text x="44.4" y="400.25" font-size="5.7" text-anchor="start" font-weight="bold" fill="#000" textLength="83" lengthAdjust="spacingAndGlyphs" >OMTX705 (30 mg/kg; q7dx4; i.v.)</text>
<line x1="32.9" y1="405.5" x2="43.6" y2="405.5" stroke="#7030a0" stroke-width="1.7"/>
<circle cx="38.25" cy="405.5" r="2.08" fill="#7030a0" stroke="#4a0a60" stroke-width="0.5"/>
<text x="44.4" y="407.55" font-size="5.7" text-anchor="start" font-weight="bold" fill="#000" textLength="97.4" lengthAdjust="spacingAndGlyphs" >OMTX705 (10 mg/kg)+PTX (7.5 mg/kg)</text>
<line x1="32.9" y1="412.7" x2="43.6" y2="412.7" stroke="#2fb36a" stroke-width="1.7"/>
<text x="44.4" y="414.75" font-size="5.7" text-anchor="start" font-weight="bold" fill="#000" textLength="100" lengthAdjust="spacingAndGlyphs" >PTX (7.5 mg/kg; from 2nd w; q7dx3; i.v.)</text>
<text x="181.6" y="403.8" font-size="5.5" text-anchor="middle" font-weight="bold" fill="#000" textLength="43" lengthAdjust="spacingAndGlyphs" >End of treatment</text>
<line x1="182.9" y1="406.4" x2="184.1" y2="516.78" stroke="#000" stroke-width="2.2" />
<polygon points="181.21,515.76 186.99,515.76 184.1,521.5" fill="#000"/>
<text x="301.6" y="373.7" font-size="12.4" text-anchor="start" font-weight="bold" fill="#000" >F</text>
<line x1="329.6" y1="374" x2="329.6" y2="440.3" stroke="#a8a8a8" stroke-width="0.6" />
<line x1="329.6" y1="440.3" x2="469" y2="440.3" stroke="#a8a8a8" stroke-width="0.6" />
<line x1="328.3" y1="440.3" x2="329.6" y2="440.3" stroke="#a8a8a8" stroke-width="0.4" />
<text x="326.6" y="441.8" font-size="4.3" text-anchor="end" font-weight="bold" fill="#2a2a2a" >0</text>
<line x1="328.3" y1="435.63" x2="329.6" y2="435.63" stroke="#a8a8a8" stroke-width="0.4" />
<text x="326.6" y="437.13" font-size="4.3" text-anchor="end" font-weight="bold" fill="#2a2a2a" >10</text>
<line x1="328.3" y1="430.96" x2="329.6" y2="430.96" stroke="#a8a8a8" stroke-width="0.4" />
<text x="326.6" y="432.46" font-size="4.3" text-anchor="end" font-weight="bold" fill="#2a2a2a" >20</text>
<line x1="328.3" y1="426.29" x2="329.6" y2="426.29" stroke="#a8a8a8" stroke-width="0.4" />
<text x="326.6" y="427.79" font-size="4.3" text-anchor="end" font-weight="bold" fill="#2a2a2a" >30</text>
<line x1="328.3" y1="421.62" x2="329.6" y2="421.62" stroke="#a8a8a8" stroke-width="0.4" />
<text x="326.6" y="423.12" font-size="4.3" text-anchor="end" font-weight="bold" fill="#2a2a2a" >40</text>
<line x1="328.3" y1="416.95" x2="329.6" y2="416.95" stroke="#a8a8a8" stroke-width="0.4" />
<text x="326.6" y="418.45" font-size="4.3" text-anchor="end" font-weight="bold" fill="#2a2a2a" >50</text>
<line x1="328.3" y1="412.28" x2="329.6" y2="412.28" stroke="#a8a8a8" stroke-width="0.4" />
<text x="326.6" y="413.78" font-size="4.3" text-anchor="end" font-weight="bold" fill="#2a2a2a" >60</text>
<line x1="328.3" y1="407.61" x2="329.6" y2="407.61" stroke="#a8a8a8" stroke-width="0.4" />
<text x="326.6" y="409.11" font-size="4.3" text-anchor="end" font-weight="bold" fill="#2a2a2a" >70</text>
<line x1="328.3" y1="402.94" x2="329.6" y2="402.94" stroke="#a8a8a8" stroke-width="0.4" />
<text x="326.6" y="404.44" font-size="4.3" text-anchor="end" font-weight="bold" fill="#2a2a2a" >80</text>
<line x1="328.3" y1="398.27" x2="329.6" y2="398.27" stroke="#a8a8a8" stroke-width="0.4" />
<text x="326.6" y="399.77" font-size="4.3" text-anchor="end" font-weight="bold" fill="#2a2a2a" >90</text>
<line x1="328.3" y1="393.6" x2="329.6" y2="393.6" stroke="#a8a8a8" stroke-width="0.4" />
<text x="326.6" y="395.1" font-size="4.3" text-anchor="end" font-weight="bold" fill="#2a2a2a" >100</text>
<line x1="328.3" y1="388.93" x2="329.6" y2="388.93" stroke="#a8a8a8" stroke-width="0.4" />
<text x="326.6" y="390.43" font-size="4.3" text-anchor="end" font-weight="bold" fill="#2a2a2a" >110</text>
<line x1="328.3" y1="384.26" x2="329.6" y2="384.26" stroke="#a8a8a8" stroke-width="0.4" />
<text x="326.6" y="385.76" font-size="4.3" text-anchor="end" font-weight="bold" fill="#2a2a2a" >120</text>
<line x1="328.3" y1="379.59" x2="329.6" y2="379.59" stroke="#a8a8a8" stroke-width="0.4" />
<text x="326.6" y="381.09" font-size="4.3" text-anchor="end" font-weight="bold" fill="#2a2a2a" >130</text>
<line x1="328.3" y1="374.92" x2="329.6" y2="374.92" stroke="#a8a8a8" stroke-width="0.4" />
<text x="326.6" y="376.42" font-size="4.3" text-anchor="end" font-weight="bold" fill="#2a2a2a" >140</text>
<rect x="340.6" y="383.33" width="13.6" height="56.97" fill="#000" stroke="none" stroke-width="0"/>
<line x1="347.4" y1="383.33" x2="347.4" y2="381.46" stroke="#b0b0b0" stroke-width="0.5" />
<line x1="347.4" y1="383.33" x2="347.4" y2="385.19" stroke="#606060" stroke-width="0.4" />
<rect x="375" y="398.74" width="13.8" height="41.56" fill="#000" stroke="none" stroke-width="0"/>
<line x1="381.9" y1="398.74" x2="381.9" y2="392.2" stroke="#b0b0b0" stroke-width="0.5" />
<line x1="381.9" y1="398.74" x2="381.9" y2="405.28" stroke="#606060" stroke-width="0.4" />
<rect x="409.5" y="393.74" width="14.3" height="46.56" fill="#000" stroke="none" stroke-width="0"/>
<rect x="444.5" y="401.77" width="14.3" height="38.53" fill="#000" stroke="none" stroke-width="0"/>
<line x1="451.65" y1="401.77" x2="451.65" y2="386.36" stroke="#b0b0b0" stroke-width="0.5" />
<line x1="451.65" y1="401.77" x2="451.65" y2="417.18" stroke="#606060" stroke-width="0.4" />
<text x="347.5" y="446.8" font-size="3.8" text-anchor="middle" font-weight="bold" fill="#222" textLength="24.6" lengthAdjust="spacingAndGlyphs" >Panc007 (D28)</text>
<text x="382" y="446.8" font-size="3.8" text-anchor="middle" font-weight="bold" fill="#222" textLength="33" lengthAdjust="spacingAndGlyphs" >NSCLung 024 (D28)</text>
<text x="417.2" y="446.8" font-size="3.8" text-anchor="middle" font-weight="bold" fill="#222" textLength="33" lengthAdjust="spacingAndGlyphs" >TNBreast 014 (D28)</text>
<text x="451.3" y="446.8" font-size="3.8" text-anchor="middle" font-weight="bold" fill="#222" textLength="27" lengthAdjust="spacingAndGlyphs" >Ovary 020 (D30)</text>
<text x="395.8" y="379.4" font-size="5.4" text-anchor="middle" font-weight="bold" fill="#222" textLength="65.5" lengthAdjust="spacingAndGlyphs" >TGI (%)=1-[(Tf-Ti)/(Cf-Ci)]</text>
<rect x="370" y="382.8" width="2.6" height="2.6" fill="#000" stroke="none" stroke-width="0"/>
<text x="373.6" y="385.7" font-size="3.9" text-anchor="start" font-weight="bold" fill="#111" textLength="57.6" lengthAdjust="spacingAndGlyphs" >OMTX705 (30 mg/kg; weekly IV)</text>
<text x="301.8" y="465.6" font-size="12.2" text-anchor="start" font-weight="bold" fill="#000" >G</text>
<line x1="333.8" y1="542.4" x2="497.5" y2="542.4" stroke="#dadada" stroke-width="0.5" />
<text x="329.6" y="544.1" font-size="4.8" text-anchor="end" font-weight="bold" fill="#333" >-5</text>
<line x1="333.8" y1="530.9" x2="497.5" y2="530.9" stroke="#dadada" stroke-width="0.5" />
<text x="329.6" y="532.6" font-size="4.8" text-anchor="end" font-weight="bold" fill="#333" >0</text>
<line x1="333.8" y1="519.4" x2="497.5" y2="519.4" stroke="#dadada" stroke-width="0.5" />
<text x="329.6" y="521.1" font-size="4.8" text-anchor="end" font-weight="bold" fill="#333" >5</text>
<line x1="333.8" y1="507.9" x2="497.5" y2="507.9" stroke="#dadada" stroke-width="0.5" />
<text x="329.6" y="509.6" font-size="4.8" text-anchor="end" font-weight="bold" fill="#333" >10</text>
<line x1="333.8" y1="496.4" x2="497.5" y2="496.4" stroke="#dadada" stroke-width="0.5" />
<text x="329.6" y="498.1" font-size="4.8" text-anchor="end" font-weight="bold" fill="#333" >15</text>
<line x1="333.8" y1="484.9" x2="497.5" y2="484.9" stroke="#dadada" stroke-width="0.5" />
<text x="329.6" y="486.6" font-size="4.8" text-anchor="end" font-weight="bold" fill="#333" >20</text>
<line x1="333.8" y1="473.4" x2="497.5" y2="473.4" stroke="#dadada" stroke-width="0.5" />
<text x="329.6" y="475.1" font-size="4.8" text-anchor="end" font-weight="bold" fill="#333" >25</text>
<line x1="333.8" y1="461.9" x2="497.5" y2="461.9" stroke="#dadada" stroke-width="0.5" />
<text x="329.6" y="463.6" font-size="4.8" text-anchor="end" font-weight="bold" fill="#333" >30</text>
<line x1="333.1" y1="459.5" x2="333.1" y2="543" stroke="#b0b0b0" stroke-width="0.5" />
<line x1="416.3" y1="459.5" x2="416.3" y2="543" stroke="#a0a0a0" stroke-width="0.5" />
<text x="320.8" y="505" font-size="4.6" text-anchor="middle" font-weight="bold" fill="#111" textLength="77" lengthAdjust="spacingAndGlyphs" transform="rotate(-90 320.8 505)" >FAPα mRNA expression (2 power)</text>
<rect x="335.2" y="530.2" width="16.4" height="0.7" fill="#000" stroke="none" stroke-width="0"/>
<line x1="343.4" y1="527.68" x2="343.4" y2="533.2" stroke="#444" stroke-width="0.4" />
<line x1="342.2" y1="527.68" x2="344.6" y2="527.68" stroke="#444" stroke-width="0.4" />
<rect x="352.5" y="529.52" width="17.3" height="1.38" fill="#000" stroke="none" stroke-width="0"/>
<line x1="361.15" y1="526.53" x2="361.15" y2="532.51" stroke="#444" stroke-width="0.4" />
<line x1="359.95" y1="526.53" x2="362.35" y2="526.53" stroke="#444" stroke-width="0.4" />
<rect x="370.7" y="529.98" width="17.3" height="0.92" fill="#000" stroke="none" stroke-width="0"/>
<line x1="379.35" y1="528.6" x2="379.35" y2="531.36" stroke="#444" stroke-width="0.4" />
<line x1="378.15" y1="528.6" x2="380.55" y2="528.6" stroke="#444" stroke-width="0.4" />
<rect x="389.3" y="529.98" width="16.8" height="0.92" fill="#000" stroke="none" stroke-width="0"/>
<line x1="397.7" y1="528.6" x2="397.7" y2="531.36" stroke="#444" stroke-width="0.4" />
<line x1="396.5" y1="528.6" x2="398.9" y2="528.6" stroke="#444" stroke-width="0.4" />
<rect x="425.75" y="472.94" width="17.25" height="57.96" fill="#000" stroke="none" stroke-width="0"/>
<line x1="434.38" y1="470.18" x2="434.38" y2="475.7" stroke="#444" stroke-width="0.4" />
<line x1="433.18" y1="470.18" x2="435.57" y2="470.18" stroke="#444" stroke-width="0.4" />
<rect x="444.5" y="516.64" width="16.75" height="14.26" fill="#000" stroke="none" stroke-width="0"/>
<line x1="452.88" y1="514.11" x2="452.88" y2="519.17" stroke="#444" stroke-width="0.4" />
<line x1="451.68" y1="514.11" x2="454.07" y2="514.11" stroke="#444" stroke-width="0.4" />
<rect x="463" y="520.32" width="16.5" height="10.58" fill="#000" stroke="none" stroke-width="0"/>
<line x1="471.25" y1="518.25" x2="471.25" y2="522.39" stroke="#444" stroke-width="0.4" />
<line x1="470.05" y1="518.25" x2="472.45" y2="518.25" stroke="#444" stroke-width="0.4" />
<rect x="480.75" y="527.68" width="16.75" height="3.22" fill="#000" stroke="none" stroke-width="0"/>
<line x1="489.12" y1="524.69" x2="489.12" y2="530.67" stroke="#444" stroke-width="0.4" />
<line x1="487.93" y1="524.69" x2="490.32" y2="524.69" stroke="#444" stroke-width="0.4" />
<text x="343" y="538" font-size="4.6" text-anchor="middle" font-weight="normal" fill="#1a1a1a" textLength="15.6" lengthAdjust="spacingAndGlyphs" >panc007</text>
<text x="361.4" y="538" font-size="4.6" text-anchor="middle" font-weight="normal" fill="#1a1a1a" textLength="15" lengthAdjust="spacingAndGlyphs" >lung024</text>
<text x="379.45" y="538" font-size="4.6" text-anchor="middle" font-weight="normal" fill="#1a1a1a" textLength="18.7" lengthAdjust="spacingAndGlyphs" >breast014</text>
<text x="397.65" y="538" font-size="4.6" text-anchor="middle" font-weight="normal" fill="#1a1a1a" textLength="16.9" lengthAdjust="spacingAndGlyphs" >ovary020</text>
<text x="434.5" y="538" font-size="4.6" text-anchor="middle" font-weight="normal" fill="#1a1a1a" textLength="15" lengthAdjust="spacingAndGlyphs" >panc007</text>
<text x="452.5" y="538" font-size="4.6" text-anchor="middle" font-weight="normal" fill="#1a1a1a" textLength="14" lengthAdjust="spacingAndGlyphs" >lung024</text>
<text x="471.25" y="538" font-size="4.6" text-anchor="middle" font-weight="normal" fill="#1a1a1a" textLength="17.5" lengthAdjust="spacingAndGlyphs" >breast014</text>
<text x="489.12" y="538" font-size="4.6" text-anchor="middle" font-weight="normal" fill="#1a1a1a" textLength="16.75" lengthAdjust="spacingAndGlyphs" >ovary020</text>
<rect x="335.2" y="542.8" width="71.8" height="10" fill="#efefef" stroke="#cfcfcf" stroke-width="0.4"/>
<rect x="423" y="542.8" width="72.5" height="10" fill="#efefef" stroke="#cfcfcf" stroke-width="0.4"/>
<text x="371.5" y="548.5" font-size="5" text-anchor="middle" font-weight="bold" fill="#111" textLength="29.4" lengthAdjust="spacingAndGlyphs" >human FAPα</text>
<text x="459.2" y="548.5" font-size="5" text-anchor="middle" font-weight="bold" fill="#111" textLength="30" lengthAdjust="spacingAndGlyphs" >murine FAPα</text>
</svg>
</body></html>
